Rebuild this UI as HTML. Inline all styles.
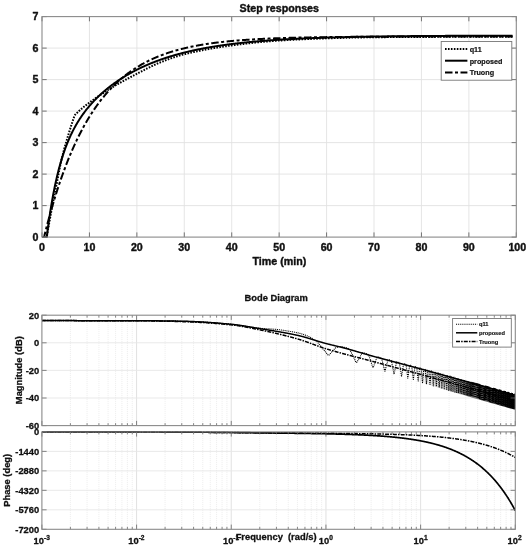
<!DOCTYPE html>
<html lang="en"><head><meta charset="utf-8"><title>Step responses and Bode Diagram</title>
<style>
html,body{margin:0;padding:0;background:#fff;}
body{width:529px;height:550px;overflow:hidden;font-family:"Liberation Sans",sans-serif;}
svg{display:block;}
</style></head><body>
<svg width="529" height="550" viewBox="0 0 529 550">
<rect width="529" height="550" fill="#fff"/>
<g id="step">
<line x1="89.43" y1="16.60" x2="89.43" y2="237.10" stroke="#e2e2e2" stroke-width="0.90"/>
<line x1="136.86" y1="16.60" x2="136.86" y2="237.10" stroke="#e2e2e2" stroke-width="0.90"/>
<line x1="184.29" y1="16.60" x2="184.29" y2="237.10" stroke="#e2e2e2" stroke-width="0.90"/>
<line x1="231.72" y1="16.60" x2="231.72" y2="237.10" stroke="#e2e2e2" stroke-width="0.90"/>
<line x1="279.15" y1="16.60" x2="279.15" y2="237.10" stroke="#e2e2e2" stroke-width="0.90"/>
<line x1="326.58" y1="16.60" x2="326.58" y2="237.10" stroke="#e2e2e2" stroke-width="0.90"/>
<line x1="374.01" y1="16.60" x2="374.01" y2="237.10" stroke="#e2e2e2" stroke-width="0.90"/>
<line x1="421.44" y1="16.60" x2="421.44" y2="237.10" stroke="#e2e2e2" stroke-width="0.90"/>
<line x1="468.87" y1="16.60" x2="468.87" y2="237.10" stroke="#e2e2e2" stroke-width="0.90"/>
<line x1="42.00" y1="205.60" x2="516.30" y2="205.60" stroke="#e2e2e2" stroke-width="0.90"/>
<line x1="42.00" y1="174.10" x2="516.30" y2="174.10" stroke="#e2e2e2" stroke-width="0.90"/>
<line x1="42.00" y1="142.60" x2="516.30" y2="142.60" stroke="#e2e2e2" stroke-width="0.90"/>
<line x1="42.00" y1="111.10" x2="516.30" y2="111.10" stroke="#e2e2e2" stroke-width="0.90"/>
<line x1="42.00" y1="79.60" x2="516.30" y2="79.60" stroke="#e2e2e2" stroke-width="0.90"/>
<line x1="42.00" y1="48.10" x2="516.30" y2="48.10" stroke="#e2e2e2" stroke-width="0.90"/>
<clipPath id="c1"><rect x="42.00" y="16.60" width="474.30" height="221.50"/></clipPath>
<g clip-path="url(#c1)" fill="none" stroke="#000" stroke-linejoin="round">
<path d="M42.00 237.10 L42.39 237.10 L42.78 237.10 L43.18 237.10 L43.57 237.10 L43.96 237.10 L44.35 237.10 L44.75 237.10 L45.14 237.10 L45.53 237.10 L45.92 237.10 L46.32 237.10 L46.71 237.10 L47.10 234.99 L47.49 232.69 L47.89 230.41 L48.28 228.15 L48.67 225.91 L49.06 223.68 L49.46 221.47 L49.85 219.28 L50.24 217.10 L50.63 214.95 L51.03 212.81 L51.42 210.69 L51.81 208.59 L52.20 206.52 L52.60 204.48 L52.99 202.45 L53.38 200.44 L53.77 198.45 L54.16 196.46 L54.56 194.49 L54.95 192.51 L55.34 190.54 L55.73 188.57 L56.13 186.59 L56.52 184.59 L56.91 182.56 L57.30 180.51 L57.70 178.45 L58.09 176.39 L58.48 174.33 L58.87 172.28 L59.27 170.26 L59.66 168.28 L60.05 166.33 L60.44 164.45 L60.84 162.62 L61.23 160.86 L61.62 159.19 L62.01 157.56 L62.41 155.96 L62.80 154.41 L63.19 152.88 L63.58 151.39 L63.98 149.92 L64.37 148.48 L64.76 147.07 L65.15 145.67 L65.54 144.30 L65.94 142.93 L66.33 141.59 L66.72 140.25 L67.11 138.93 L67.51 137.61 L67.90 136.30 L68.29 134.98 L68.68 133.68 L69.08 132.39 L69.47 131.12 L69.86 129.85 L70.25 128.60 L70.65 127.35 L71.04 126.12 L71.43 124.90 L71.82 123.70 L72.22 122.51 L72.61 121.33 L73.00 120.16 L73.39 119.01 L73.79 117.87 L74.18 116.74 L74.57 115.63 L74.96 114.95 L75.36 114.55 L75.75 114.16 L76.14 113.76 L76.53 113.37 L76.92 112.98 L77.32 112.60 L77.71 112.22 L78.10 111.84 L78.49 111.47 L78.89 111.11 L79.28 110.75 L79.67 110.40 L80.06 110.05 L80.46 109.71 L80.85 109.37 L81.24 109.03 L81.63 108.70 L82.03 108.37 L82.42 108.04 L82.81 107.71 L83.20 107.39 L83.60 107.07 L83.99 106.76 L84.38 106.44 L84.77 106.13 L85.17 105.82 L85.56 105.52 L85.95 105.21 L86.34 104.91 L86.74 104.61 L87.13 104.31 L87.52 104.01 L87.91 103.72 L88.30 103.43 L88.70 103.14 L89.09 102.85 L89.48 102.56 L89.87 102.27 L90.27 101.98 L90.66 101.70 L91.05 101.41 L91.44 101.13 L91.84 100.85 L92.23 100.56 L92.62 100.28 L93.01 100.00 L93.41 99.72 L93.80 99.45 L94.19 99.17 L94.58 98.89 L94.98 98.62 L95.37 98.34 L95.76 98.07 L96.15 97.80 L96.55 97.53 L96.94 97.26 L97.33 96.99 L97.72 96.72 L98.12 96.45 L98.51 96.18 L98.90 95.91 L99.29 95.65 L99.69 95.38 L100.08 95.12 L100.47 94.86 L100.86 94.60 L101.25 94.34 L101.65 94.08 L102.04 93.82 L102.43 93.56 L102.82 93.30 L103.22 93.04 L103.61 92.79 L104.00 92.53 L104.39 92.28 L104.79 92.02 L105.18 91.77 L105.57 91.52 L105.96 91.27 L106.36 91.02 L106.75 90.77 L107.14 90.52 L107.53 90.27 L107.93 90.03 L108.32 89.78 L108.71 89.53 L109.10 89.29 L109.50 89.05 L109.89 88.80 L110.28 88.56 L110.67 88.32 L111.07 88.08 L111.46 87.84 L111.85 87.60 L112.24 87.36 L112.63 87.12 L113.03 86.89 L113.42 86.65 L113.81 86.41 L114.20 86.18 L114.60 85.95 L114.99 85.71 L115.38 85.48 L115.77 85.25 L116.17 85.02 L116.56 84.79 L116.95 84.56 L117.34 84.34 L117.74 84.11 L118.13 83.88 L118.52 83.66 L118.91 83.43 L119.31 83.21 L119.70 82.99 L120.09 82.76 L120.48 82.54 L120.88 82.32 L121.27 82.10 L121.66 81.88 L122.05 81.66 L122.45 81.45 L122.84 81.23 L123.23 81.01 L123.62 80.80 L124.01 80.58 L124.41 80.37 L124.80 80.15 L125.19 79.94 L125.58 79.72 L125.98 79.51 L126.37 79.30 L126.76 79.09 L127.15 78.88 L127.55 78.67 L127.94 78.46 L128.33 78.25 L128.72 78.04 L129.12 77.83 L129.51 77.62 L129.90 77.41 L130.29 77.21 L130.69 77.00 L131.08 76.79 L131.47 76.59 L131.86 76.38 L132.26 76.17 L132.65 75.97 L133.04 75.76 L133.43 75.56 L133.83 75.36 L134.22 75.15 L134.61 74.95 L135.00 74.75 L135.39 74.54 L135.79 74.34 L136.18 74.14 L136.57 73.94 L136.96 73.73 L137.36 73.53 L137.75 73.33 L138.14 73.13 L138.53 72.93 L138.93 72.72 L139.32 72.52 L139.71 72.32 L140.10 72.12 L140.50 71.91 L140.89 71.71 L141.28 71.51 L141.67 71.30 L142.07 71.10 L142.46 70.90 L142.85 70.70 L143.24 70.49 L143.64 70.29 L144.03 70.09 L144.42 69.89 L144.81 69.68 L145.21 69.48 L145.60 69.28 L145.99 69.08 L146.38 68.88 L146.77 68.68 L147.17 68.48 L147.56 68.28 L147.95 68.08 L148.34 67.89 L148.74 67.69 L149.13 67.49 L149.52 67.30 L149.91 67.10 L150.31 66.91 L150.70 66.72 L151.09 66.53 L151.48 66.33 L151.88 66.14 L152.27 65.96 L152.66 65.77 L153.05 65.58 L153.45 65.40 L153.84 65.21 L154.23 65.03 L154.62 64.85 L155.02 64.67 L155.41 64.49 L155.80 64.31 L156.19 64.13 L156.59 63.96 L156.98 63.79 L157.37 63.61 L157.76 63.44 L158.15 63.28 L158.55 63.11 L158.94 62.94 L159.33 62.78 L159.72 62.62 L160.12 62.46 L160.51 62.30 L160.90 62.14 L161.29 61.99 L161.69 61.83 L162.08 61.68 L162.47 61.52 L162.86 61.37 L163.26 61.22 L163.65 61.06 L164.04 60.91 L164.43 60.76 L164.83 60.61 L165.22 60.45 L165.61 60.30 L166.00 60.15 L166.40 60.01 L166.79 59.86 L167.18 59.71 L167.57 59.56 L167.97 59.42 L168.36 59.27 L168.75 59.13 L169.14 58.98 L169.53 58.84 L169.93 58.70 L170.32 58.56 L170.71 58.42 L171.10 58.28 L171.50 58.14 L171.89 58.00 L172.28 57.86 L172.67 57.73 L173.07 57.59 L173.46 57.46 L173.85 57.33 L174.24 57.19 L174.64 57.06 L175.03 56.93 L175.42 56.81 L175.81 56.68 L176.21 56.55 L176.60 56.43 L176.99 56.30 L177.38 56.18 L177.78 56.06 L178.17 55.94 L178.56 55.82 L178.95 55.70 L179.35 55.59 L179.74 55.47 L180.13 55.36 L180.52 55.25 L180.91 55.14 L181.31 55.03 L181.70 54.92 L182.09 54.81 L182.48 54.71 L182.88 54.60 L183.27 54.50 L183.66 54.40 L184.05 54.30 L184.45 54.20 L184.84 54.11 L185.23 54.01 L185.62 53.91 L186.02 53.82 L186.41 53.72 L186.80 53.63 L187.19 53.53 L187.59 53.44 L187.98 53.35 L188.37 53.25 L188.76 53.16 L189.16 53.07 L189.55 52.98 L189.94 52.89 L190.33 52.80 L190.73 52.71 L191.12 52.62 L191.51 52.53 L191.90 52.44 L192.29 52.35 L192.69 52.26 L193.08 52.17 L193.47 52.09 L193.86 52.00 L194.26 51.91 L194.65 51.83 L195.04 51.74 L195.43 51.66 L195.83 51.57 L196.22 51.49 L196.61 51.40 L197.00 51.32 L197.40 51.24 L197.79 51.16 L198.18 51.07 L198.57 50.99 L198.97 50.91 L199.36 50.83 L199.75 50.75 L200.14 50.67 L200.54 50.59 L200.93 50.51 L201.32 50.43 L201.71 50.35 L202.11 50.27 L202.50 50.20 L202.89 50.12 L203.28 50.04 L203.67 49.97 L204.07 49.89 L204.46 49.81 L204.85 49.74 L205.24 49.66 L205.64 49.59 L206.03 49.51 L206.42 49.44 L206.81 49.37 L207.21 49.29 L207.60 49.22 L207.99 49.15 L208.38 49.08 L208.78 49.01 L209.17 48.93 L209.56 48.86 L209.95 48.79 L210.35 48.72 L210.74 48.65 L211.13 48.58 L211.52 48.52 L211.92 48.45 L212.31 48.38 L212.70 48.31 L213.09 48.24 L213.49 48.18 L213.88 48.11 L214.27 48.04 L214.66 47.98 L215.06 47.91 L215.45 47.85 L215.84 47.78 L216.23 47.72 L216.62 47.65 L217.02 47.59 L217.41 47.52 L217.80 47.46 L218.19 47.40 L218.59 47.33 L218.98 47.27 L219.37 47.21 L219.76 47.15 L220.16 47.09 L220.55 47.03 L220.94 46.97 L221.33 46.90 L221.73 46.84 L222.12 46.79 L222.51 46.73 L222.90 46.67 L223.30 46.61 L223.69 46.55 L224.08 46.49 L224.47 46.43 L224.87 46.38 L225.26 46.32 L225.65 46.26 L226.04 46.21 L226.44 46.15 L226.83 46.09 L227.22 46.04 L227.61 45.98 L228.00 45.93 L228.40 45.87 L228.79 45.82 L229.18 45.76 L229.57 45.71 L229.97 45.66 L230.36 45.60 L230.75 45.55 L231.14 45.50 L231.54 45.45 L231.93 45.39 L232.32 45.34 L232.71 45.29 L233.11 45.24 L233.50 45.19 L233.89 45.14 L234.28 45.09 L234.68 45.03 L235.07 44.98 L235.46 44.93 L235.85 44.88 L236.25 44.83 L236.64 44.78 L237.03 44.73 L237.42 44.68 L237.82 44.63 L238.21 44.58 L238.60 44.53 L238.99 44.48 L239.38 44.43 L239.78 44.38 L240.17 44.34 L240.56 44.29 L240.95 44.24 L241.35 44.19 L241.74 44.14 L242.13 44.09 L242.52 44.05 L242.92 44.00 L243.31 43.95 L243.70 43.90 L244.09 43.86 L244.49 43.81 L244.88 43.76 L245.27 43.72 L245.66 43.67 L246.06 43.62 L246.45 43.58 L246.84 43.53 L247.23 43.48 L247.63 43.44 L248.02 43.39 L248.41 43.35 L248.80 43.30 L249.20 43.26 L249.59 43.21 L249.98 43.17 L250.37 43.13 L250.76 43.08 L251.16 43.04 L251.55 42.99 L251.94 42.95 L252.33 42.91 L252.73 42.87 L253.12 42.82 L253.51 42.78 L253.90 42.74 L254.30 42.70 L254.69 42.65 L255.08 42.61 L255.47 42.57 L255.87 42.53 L256.26 42.49 L256.65 42.45 L257.04 42.41 L257.44 42.37 L257.83 42.33 L258.22 42.29 L258.61 42.25 L259.01 42.21 L259.40 42.17 L259.79 42.13 L260.18 42.09 L260.58 42.05 L260.97 42.02 L261.36 41.98 L261.75 41.94 L262.14 41.90 L262.54 41.87 L262.93 41.83 L263.32 41.79 L263.71 41.76 L264.11 41.72 L264.50 41.68 L264.89 41.65 L265.28 41.61 L265.68 41.58 L266.07 41.54 L266.46 41.51 L266.85 41.47 L267.25 41.44 L267.64 41.41 L268.03 41.37 L268.42 41.34 L268.82 41.31 L269.21 41.27 L269.60 41.24 L269.99 41.21 L270.39 41.18 L270.78 41.15 L271.17 41.11 L271.56 41.08 L271.96 41.05 L272.35 41.02 L272.74 40.99 L273.13 40.96 L273.52 40.93 L273.92 40.90 L274.31 40.87 L274.70 40.84 L275.09 40.82 L275.49 40.79 L275.88 40.76 L276.27 40.73 L276.66 40.71 L277.06 40.68 L277.45 40.65 L277.84 40.63 L278.23 40.60 L278.63 40.57 L279.02 40.55 L279.41 40.52 L279.80 40.50 L280.20 40.47 L280.59 40.45 L280.98 40.42 L281.37 40.40 L281.77 40.38 L282.16 40.35 L282.55 40.33 L282.94 40.30 L283.34 40.28 L283.73 40.26 L284.12 40.23 L284.51 40.21 L284.90 40.18 L285.30 40.16 L285.69 40.14 L286.08 40.12 L286.47 40.09 L286.87 40.07 L287.26 40.05 L287.65 40.02 L288.04 40.00 L288.44 39.98 L288.83 39.96 L289.22 39.94 L289.61 39.91 L290.01 39.89 L290.40 39.87 L290.79 39.85 L291.18 39.83 L291.58 39.81 L291.97 39.79 L292.36 39.76 L292.75 39.74 L293.15 39.72 L293.54 39.70 L293.93 39.68 L294.32 39.66 L294.72 39.64 L295.11 39.62 L295.50 39.60 L295.89 39.58 L296.28 39.56 L296.68 39.54 L297.07 39.52 L297.46 39.50 L297.85 39.48 L298.25 39.46 L298.64 39.44 L299.03 39.42 L299.42 39.40 L299.82 39.38 L300.21 39.37 L300.60 39.35 L300.99 39.33 L301.39 39.31 L301.78 39.29 L302.17 39.27 L302.56 39.26 L302.96 39.24 L303.35 39.22 L303.74 39.20 L304.13 39.18 L304.53 39.17 L304.92 39.15 L305.31 39.13 L305.70 39.11 L306.10 39.10 L306.49 39.08 L306.88 39.06 L307.27 39.05 L307.66 39.03 L308.06 39.01 L308.45 39.00 L308.84 38.98 L309.23 38.96 L309.63 38.95 L310.02 38.93 L310.41 38.91 L310.80 38.90 L311.20 38.88 L311.59 38.87 L311.98 38.85 L312.37 38.84 L312.77 38.82 L313.16 38.80 L313.55 38.79 L313.94 38.77 L314.34 38.76 L314.73 38.74 L315.12 38.73 L315.51 38.71 L315.91 38.70 L316.30 38.68 L316.69 38.67 L317.08 38.66 L317.48 38.64 L317.87 38.63 L318.26 38.61 L318.65 38.60 L319.04 38.59 L319.44 38.57 L319.83 38.56 L320.22 38.54 L320.61 38.53 L321.01 38.52 L321.40 38.50 L321.79 38.49 L322.18 38.48 L322.58 38.46 L322.97 38.45 L323.36 38.44 L323.75 38.42 L324.15 38.41 L324.54 38.40 L324.93 38.39 L325.32 38.37 L325.72 38.36 L326.11 38.35 L326.50 38.34 L326.89 38.33 L327.29 38.31 L327.68 38.30 L328.07 38.29 L328.46 38.28 L328.86 38.26 L329.25 38.25 L329.64 38.24 L330.03 38.23 L330.43 38.22 L330.82 38.20 L331.21 38.19 L331.60 38.18 L331.99 38.17 L332.39 38.16 L332.78 38.15 L333.17 38.13 L333.56 38.12 L333.96 38.11 L334.35 38.10 L334.74 38.09 L335.13 38.08 L335.53 38.06 L335.92 38.05 L336.31 38.04 L336.70 38.03 L337.10 38.02 L337.49 38.01 L337.88 38.00 L338.27 37.98 L338.67 37.97 L339.06 37.96 L339.45 37.95 L339.84 37.94 L340.24 37.93 L340.63 37.92 L341.02 37.91 L341.41 37.89 L341.81 37.88 L342.20 37.87 L342.59 37.86 L342.98 37.85 L343.37 37.84 L343.77 37.83 L344.16 37.82 L344.55 37.81 L344.94 37.80 L345.34 37.79 L345.73 37.78 L346.12 37.77 L346.51 37.76 L346.91 37.75 L347.30 37.74 L347.69 37.73 L348.08 37.72 L348.48 37.71 L348.87 37.70 L349.26 37.69 L349.65 37.68 L350.05 37.67 L350.44 37.66 L350.83 37.65 L351.22 37.64 L351.62 37.63 L352.01 37.62 L352.40 37.61 L352.79 37.60 L353.19 37.59 L353.58 37.58 L353.97 37.57 L354.36 37.57 L354.75 37.56 L355.15 37.55 L355.54 37.54 L355.93 37.53 L356.32 37.52 L356.72 37.51 L357.11 37.50 L357.50 37.50 L357.89 37.49 L358.29 37.48 L358.68 37.47 L359.07 37.46 L359.46 37.46 L359.86 37.45 L360.25 37.44 L360.64 37.43 L361.03 37.43 L361.43 37.42 L361.82 37.41 L362.21 37.40 L362.60 37.40 L363.00 37.39 L363.39 37.38 L363.78 37.38 L364.17 37.37 L364.57 37.36 L364.96 37.36 L365.35 37.35 L365.74 37.34 L366.13 37.34 L366.53 37.33 L366.92 37.32 L367.31 37.32 L367.70 37.31 L368.10 37.31 L368.49 37.30 L368.88 37.30 L369.27 37.29 L369.67 37.28 L370.06 37.28 L370.45 37.27 L370.84 37.27 L371.24 37.26 L371.63 37.26 L372.02 37.25 L372.41 37.25 L372.81 37.25 L373.20 37.24 L373.59 37.24 L373.98 37.23 L374.38 37.23 L374.77 37.22 L375.16 37.22 L375.55 37.22 L375.95 37.21 L376.34 37.21 L376.73 37.20 L377.12 37.20 L377.51 37.20 L377.91 37.19 L378.30 37.19 L378.69 37.19 L379.08 37.18 L379.48 37.18 L379.87 37.17 L380.26 37.17 L380.65 37.17 L381.05 37.16 L381.44 37.16 L381.83 37.16 L382.22 37.15 L382.62 37.15 L383.01 37.15 L383.40 37.14 L383.79 37.14 L384.19 37.14 L384.58 37.13 L384.97 37.13 L385.36 37.13 L385.76 37.12 L386.15 37.12 L386.54 37.12 L386.93 37.11 L387.33 37.11 L387.72 37.11 L388.11 37.10 L388.50 37.10 L388.89 37.10 L389.29 37.09 L389.68 37.09 L390.07 37.09 L390.46 37.08 L390.86 37.08 L391.25 37.08 L391.64 37.07 L392.03 37.07 L392.43 37.07 L392.82 37.07 L393.21 37.06 L393.60 37.06 L394.00 37.06 L394.39 37.05 L394.78 37.05 L395.17 37.05 L395.57 37.05 L395.96 37.04 L396.35 37.04 L396.74 37.04 L397.14 37.03 L397.53 37.03 L397.92 37.03 L398.31 37.03 L398.71 37.02 L399.10 37.02 L399.49 37.02 L399.88 37.02 L400.27 37.01 L400.67 37.01 L401.06 37.01 L401.45 37.01 L401.84 37.00 L402.24 37.00 L402.63 37.00 L403.02 37.00 L403.41 37.00 L403.81 36.99 L404.20 36.99 L404.59 36.99 L404.98 36.99 L405.38 36.98 L405.77 36.98 L406.16 36.98 L406.55 36.98 L406.95 36.98 L407.34 36.97 L407.73 36.97 L408.12 36.97 L408.52 36.97 L408.91 36.97 L409.30 36.96 L409.69 36.96 L410.09 36.96 L410.48 36.96 L410.87 36.96 L411.26 36.95 L411.65 36.95 L412.05 36.95 L412.44 36.95 L412.83 36.95 L413.22 36.95 L413.62 36.94 L414.01 36.94 L414.40 36.94 L414.79 36.94 L415.19 36.94 L415.58 36.94 L415.97 36.94 L416.36 36.93 L416.76 36.93 L417.15 36.93 L417.54 36.93 L417.93 36.93 L418.33 36.93 L418.72 36.93 L419.11 36.92 L419.50 36.92 L419.90 36.92 L420.29 36.92 L420.68 36.92 L421.07 36.92 L421.47 36.92 L421.86 36.92 L422.25 36.92 L422.64 36.91 L423.03 36.91 L423.43 36.91 L423.82 36.91 L424.21 36.91 L424.60 36.91 L425.00 36.91 L425.39 36.91 L425.78 36.91 L426.17 36.90 L426.57 36.90 L426.96 36.90 L427.35 36.90 L427.74 36.90 L428.14 36.90 L428.53 36.90 L428.92 36.90 L429.31 36.90 L429.71 36.89 L430.10 36.89 L430.49 36.89 L430.88 36.89 L431.28 36.89 L431.67 36.89 L432.06 36.89 L432.45 36.89 L432.85 36.89 L433.24 36.89 L433.63 36.88 L434.02 36.88 L434.42 36.88 L434.81 36.88 L435.20 36.88 L435.59 36.88 L435.98 36.88 L436.38 36.88 L436.77 36.88 L437.16 36.87 L437.55 36.87 L437.95 36.87 L438.34 36.87 L438.73 36.87 L439.12 36.87 L439.52 36.87 L439.91 36.87 L440.30 36.87 L440.69 36.87 L441.09 36.86 L441.48 36.86 L441.87 36.86 L442.26 36.86 L442.66 36.86 L443.05 36.86 L443.44 36.86 L443.83 36.86 L444.23 36.86 L444.62 36.86 L445.01 36.86 L445.40 36.85 L445.80 36.85 L446.19 36.85 L446.58 36.85 L446.97 36.85 L447.36 36.85 L447.76 36.85 L448.15 36.85 L448.54 36.85 L448.93 36.85 L449.33 36.85 L449.72 36.84 L450.11 36.84 L450.50 36.84 L450.90 36.84 L451.29 36.84 L451.68 36.84 L452.07 36.84 L452.47 36.84 L452.86 36.84 L453.25 36.84 L453.64 36.84 L454.04 36.83 L454.43 36.83 L454.82 36.83 L455.21 36.83 L455.61 36.83 L456.00 36.83 L456.39 36.83 L456.78 36.83 L457.18 36.83 L457.57 36.83 L457.96 36.83 L458.35 36.83 L458.74 36.82 L459.14 36.82 L459.53 36.82 L459.92 36.82 L460.31 36.82 L460.71 36.82 L461.10 36.82 L461.49 36.82 L461.88 36.82 L462.28 36.82 L462.67 36.82 L463.06 36.82 L463.45 36.82 L463.85 36.81 L464.24 36.81 L464.63 36.81 L465.02 36.81 L465.42 36.81 L465.81 36.81 L466.20 36.81 L466.59 36.81 L466.99 36.81 L467.38 36.81 L467.77 36.81 L468.16 36.81 L468.56 36.81 L468.95 36.80 L469.34 36.80 L469.73 36.80 L470.12 36.80 L470.52 36.80 L470.91 36.80 L471.30 36.80 L471.69 36.80 L472.09 36.80 L472.48 36.80 L472.87 36.80 L473.26 36.80 L473.66 36.80 L474.05 36.80 L474.44 36.80 L474.83 36.79 L475.23 36.79 L475.62 36.79 L476.01 36.79 L476.40 36.79 L476.80 36.79 L477.19 36.79 L477.58 36.79 L477.97 36.79 L478.37 36.79 L478.76 36.79 L479.15 36.79 L479.54 36.79 L479.94 36.79 L480.33 36.79 L480.72 36.79 L481.11 36.79 L481.50 36.79 L481.90 36.78 L482.29 36.78 L482.68 36.78 L483.07 36.78 L483.47 36.78 L483.86 36.78 L484.25 36.78 L484.64 36.78 L485.04 36.78 L485.43 36.78 L485.82 36.78 L486.21 36.78 L486.61 36.78 L487.00 36.78 L487.39 36.78 L487.78 36.78 L488.18 36.78 L488.57 36.78 L488.96 36.78 L489.35 36.78 L489.75 36.77 L490.14 36.77 L490.53 36.77 L490.92 36.77 L491.32 36.77 L491.71 36.77 L492.10 36.77 L492.49 36.77 L492.88 36.77 L493.28 36.77 L493.67 36.77 L494.06 36.77 L494.45 36.77 L494.85 36.77 L495.24 36.77 L495.63 36.77 L496.02 36.77 L496.42 36.77 L496.81 36.77 L497.20 36.77 L497.59 36.77 L497.99 36.77 L498.38 36.77 L498.77 36.77 L499.16 36.77 L499.56 36.77 L499.95 36.77 L500.34 36.77 L500.73 36.77 L501.13 36.76 L501.52 36.76 L501.91 36.76 L502.30 36.76 L502.70 36.76 L503.09 36.76 L503.48 36.76 L503.87 36.76 L504.26 36.76 L504.66 36.76 L505.05 36.76 L505.44 36.76 L505.83 36.76 L506.23 36.76 L506.62 36.76 L507.01 36.76 L507.40 36.76 L507.80 36.76 L508.19 36.76 L508.58 36.76 L508.97 36.76 L509.37 36.76 L509.76 36.76 L510.15 36.76 L510.54 36.76 L510.94 36.76 L511.33 36.76 L511.72 36.76 L512.11 36.76 L512.51 36.76" stroke-width="2" stroke-dasharray="1.6 1.35"/>
<path d="M42.00 237.10 L42.39 237.10 L42.78 237.10 L43.18 237.10 L43.57 237.10 L43.96 237.10 L44.35 237.10 L44.75 237.10 L45.14 237.10 L45.53 237.10 L45.92 237.10 L46.32 237.10 L46.71 237.10 L47.10 234.24 L47.49 231.18 L47.89 228.20 L48.28 225.30 L48.67 222.48 L49.06 219.73 L49.46 217.05 L49.85 214.43 L50.24 211.89 L50.63 209.40 L51.03 206.98 L51.42 204.62 L51.81 202.32 L52.20 200.08 L52.60 197.89 L52.99 195.75 L53.38 193.66 L53.77 191.63 L54.16 189.64 L54.56 187.70 L54.95 185.80 L55.34 183.95 L55.73 182.14 L56.13 180.38 L56.52 178.65 L56.91 176.97 L57.30 175.32 L57.70 173.70 L58.09 172.13 L58.48 170.59 L58.87 169.08 L59.27 167.60 L59.66 166.16 L60.05 164.74 L60.44 163.36 L60.84 162.00 L61.23 160.68 L61.62 159.38 L62.01 158.10 L62.41 156.85 L62.80 155.63 L63.19 154.43 L63.58 153.26 L63.98 152.11 L64.37 150.97 L64.76 149.87 L65.15 148.78 L65.54 147.71 L65.94 146.66 L66.33 145.63 L66.72 144.62 L67.11 143.63 L67.51 142.66 L67.90 141.70 L68.29 140.76 L68.68 139.84 L69.08 138.93 L69.47 138.03 L69.86 137.16 L70.25 136.29 L70.65 135.44 L71.04 134.61 L71.43 133.78 L71.82 132.97 L72.22 132.18 L72.61 131.39 L73.00 130.62 L73.39 129.86 L73.79 129.11 L74.18 128.37 L74.57 127.64 L74.96 126.93 L75.36 126.22 L75.75 125.52 L76.14 124.84 L76.53 124.16 L76.92 123.49 L77.32 122.83 L77.71 122.18 L78.10 121.54 L78.49 120.91 L78.89 120.28 L79.28 119.66 L79.67 119.05 L80.06 118.45 L80.46 117.86 L80.85 117.27 L81.24 116.69 L81.63 116.12 L82.03 115.55 L82.42 114.99 L82.81 114.44 L83.20 113.89 L83.60 113.35 L83.99 112.82 L84.38 112.29 L84.77 111.77 L85.17 111.25 L85.56 110.74 L85.95 110.23 L86.34 109.73 L86.74 109.24 L87.13 108.75 L87.52 108.26 L87.91 107.78 L88.30 107.31 L88.70 106.84 L89.09 106.37 L89.48 105.91 L89.87 105.45 L90.27 105.00 L90.66 104.55 L91.05 104.10 L91.44 103.66 L91.84 103.23 L92.23 102.80 L92.62 102.37 L93.01 101.94 L93.41 101.52 L93.80 101.11 L94.19 100.69 L94.58 100.28 L94.98 99.88 L95.37 99.47 L95.76 99.08 L96.15 98.68 L96.55 98.29 L96.94 97.90 L97.33 97.51 L97.72 97.13 L98.12 96.75 L98.51 96.37 L98.90 96.00 L99.29 95.63 L99.69 95.26 L100.08 94.89 L100.47 94.53 L100.86 94.17 L101.25 93.82 L101.65 93.46 L102.04 93.11 L102.43 92.76 L102.82 92.42 L103.22 92.07 L103.61 91.73 L104.00 91.39 L104.39 91.06 L104.79 90.72 L105.18 90.39 L105.57 90.06 L105.96 89.74 L106.36 89.41 L106.75 89.09 L107.14 88.77 L107.53 88.45 L107.93 88.14 L108.32 87.83 L108.71 87.51 L109.10 87.21 L109.50 86.90 L109.89 86.59 L110.28 86.29 L110.67 85.99 L111.07 85.69 L111.46 85.40 L111.85 85.10 L112.24 84.81 L112.63 84.52 L113.03 84.23 L113.42 83.95 L113.81 83.66 L114.20 83.38 L114.60 83.10 L114.99 82.82 L115.38 82.54 L115.77 82.27 L116.17 81.99 L116.56 81.72 L116.95 81.45 L117.34 81.18 L117.74 80.91 L118.13 80.65 L118.52 80.38 L118.91 80.12 L119.31 79.86 L119.70 79.60 L120.09 79.35 L120.48 79.09 L120.88 78.84 L121.27 78.59 L121.66 78.34 L122.05 78.09 L122.45 77.84 L122.84 77.59 L123.23 77.35 L123.62 77.11 L124.01 76.87 L124.41 76.63 L124.80 76.39 L125.19 76.15 L125.58 75.91 L125.98 75.68 L126.37 75.45 L126.76 75.22 L127.15 74.99 L127.55 74.76 L127.94 74.53 L128.33 74.31 L128.72 74.08 L129.12 73.86 L129.51 73.64 L129.90 73.42 L130.29 73.20 L130.69 72.98 L131.08 72.76 L131.47 72.55 L131.86 72.33 L132.26 72.12 L132.65 71.91 L133.04 71.70 L133.43 71.49 L133.83 71.28 L134.22 71.08 L134.61 70.87 L135.00 70.67 L135.39 70.47 L135.79 70.26 L136.18 70.06 L136.57 69.87 L136.96 69.67 L137.36 69.47 L137.75 69.27 L138.14 69.08 L138.53 68.89 L138.93 68.70 L139.32 68.50 L139.71 68.31 L140.10 68.13 L140.50 67.94 L140.89 67.75 L141.28 67.57 L141.67 67.38 L142.07 67.20 L142.46 67.02 L142.85 66.83 L143.24 66.65 L143.64 66.48 L144.03 66.30 L144.42 66.12 L144.81 65.94 L145.21 65.77 L145.60 65.60 L145.99 65.42 L146.38 65.25 L146.77 65.08 L147.17 64.91 L147.56 64.74 L147.95 64.57 L148.34 64.41 L148.74 64.24 L149.13 64.08 L149.52 63.91 L149.91 63.75 L150.31 63.59 L150.70 63.42 L151.09 63.26 L151.48 63.11 L151.88 62.95 L152.27 62.79 L152.66 62.63 L153.05 62.48 L153.45 62.32 L153.84 62.17 L154.23 62.02 L154.62 61.86 L155.02 61.71 L155.41 61.56 L155.80 61.41 L156.19 61.26 L156.59 61.12 L156.98 60.97 L157.37 60.82 L157.76 60.68 L158.15 60.53 L158.55 60.39 L158.94 60.25 L159.33 60.10 L159.72 59.96 L160.12 59.82 L160.51 59.68 L160.90 59.54 L161.29 59.41 L161.69 59.27 L162.08 59.13 L162.47 59.00 L162.86 58.86 L163.26 58.73 L163.65 58.60 L164.04 58.46 L164.43 58.33 L164.83 58.20 L165.22 58.07 L165.61 57.94 L166.00 57.81 L166.40 57.69 L166.79 57.56 L167.18 57.43 L167.57 57.31 L167.97 57.18 L168.36 57.06 L168.75 56.93 L169.14 56.81 L169.53 56.69 L169.93 56.57 L170.32 56.45 L170.71 56.33 L171.10 56.21 L171.50 56.09 L171.89 55.97 L172.28 55.85 L172.67 55.74 L173.07 55.62 L173.46 55.50 L173.85 55.39 L174.24 55.28 L174.64 55.16 L175.03 55.05 L175.42 54.94 L175.81 54.83 L176.21 54.72 L176.60 54.61 L176.99 54.50 L177.38 54.39 L177.78 54.28 L178.17 54.17 L178.56 54.06 L178.95 53.96 L179.35 53.85 L179.74 53.75 L180.13 53.64 L180.52 53.54 L180.91 53.43 L181.31 53.33 L181.70 53.23 L182.09 53.13 L182.48 53.03 L182.88 52.93 L183.27 52.83 L183.66 52.73 L184.05 52.63 L184.45 52.53 L184.84 52.43 L185.23 52.34 L185.62 52.24 L186.02 52.14 L186.41 52.05 L186.80 51.95 L187.19 51.86 L187.59 51.77 L187.98 51.67 L188.37 51.58 L188.76 51.49 L189.16 51.40 L189.55 51.30 L189.94 51.21 L190.33 51.12 L190.73 51.03 L191.12 50.95 L191.51 50.86 L191.90 50.77 L192.29 50.68 L192.69 50.59 L193.08 50.51 L193.47 50.42 L193.86 50.34 L194.26 50.25 L194.65 50.17 L195.04 50.08 L195.43 50.00 L195.83 49.92 L196.22 49.83 L196.61 49.75 L197.00 49.67 L197.40 49.59 L197.79 49.51 L198.18 49.43 L198.57 49.35 L198.97 49.27 L199.36 49.19 L199.75 49.11 L200.14 49.03 L200.54 48.96 L200.93 48.88 L201.32 48.80 L201.71 48.73 L202.11 48.65 L202.50 48.58 L202.89 48.50 L203.28 48.43 L203.67 48.35 L204.07 48.28 L204.46 48.20 L204.85 48.13 L205.24 48.06 L205.64 47.99 L206.03 47.92 L206.42 47.84 L206.81 47.77 L207.21 47.70 L207.60 47.63 L207.99 47.56 L208.38 47.50 L208.78 47.43 L209.17 47.36 L209.56 47.29 L209.95 47.22 L210.35 47.16 L210.74 47.09 L211.13 47.02 L211.52 46.96 L211.92 46.89 L212.31 46.83 L212.70 46.76 L213.09 46.70 L213.49 46.63 L213.88 46.57 L214.27 46.50 L214.66 46.44 L215.06 46.38 L215.45 46.32 L215.84 46.25 L216.23 46.19 L216.62 46.13 L217.02 46.07 L217.41 46.01 L217.80 45.95 L218.19 45.89 L218.59 45.83 L218.98 45.77 L219.37 45.71 L219.76 45.65 L220.16 45.60 L220.55 45.54 L220.94 45.48 L221.33 45.42 L221.73 45.37 L222.12 45.31 L222.51 45.25 L222.90 45.20 L223.30 45.14 L223.69 45.09 L224.08 45.03 L224.47 44.98 L224.87 44.92 L225.26 44.87 L225.65 44.82 L226.04 44.76 L226.44 44.71 L226.83 44.66 L227.22 44.60 L227.61 44.55 L228.00 44.50 L228.40 44.45 L228.79 44.40 L229.18 44.35 L229.57 44.30 L229.97 44.25 L230.36 44.20 L230.75 44.15 L231.14 44.10 L231.54 44.05 L231.93 44.00 L232.32 43.95 L232.71 43.90 L233.11 43.85 L233.50 43.80 L233.89 43.76 L234.28 43.71 L234.68 43.66 L235.07 43.62 L235.46 43.57 L235.85 43.52 L236.25 43.48 L236.64 43.43 L237.03 43.39 L237.42 43.34 L237.82 43.30 L238.21 43.25 L238.60 43.21 L238.99 43.16 L239.38 43.12 L239.78 43.08 L240.17 43.03 L240.56 42.99 L240.95 42.95 L241.35 42.90 L241.74 42.86 L242.13 42.82 L242.52 42.78 L242.92 42.73 L243.31 42.69 L243.70 42.65 L244.09 42.61 L244.49 42.57 L244.88 42.53 L245.27 42.49 L245.66 42.45 L246.06 42.41 L246.45 42.37 L246.84 42.33 L247.23 42.29 L247.63 42.25 L248.02 42.21 L248.41 42.18 L248.80 42.14 L249.20 42.10 L249.59 42.06 L249.98 42.02 L250.37 41.99 L250.76 41.95 L251.16 41.91 L251.55 41.88 L251.94 41.84 L252.33 41.80 L252.73 41.77 L253.12 41.73 L253.51 41.70 L253.90 41.66 L254.30 41.62 L254.69 41.59 L255.08 41.55 L255.47 41.52 L255.87 41.49 L256.26 41.45 L256.65 41.42 L257.04 41.38 L257.44 41.35 L257.83 41.32 L258.22 41.28 L258.61 41.25 L259.01 41.22 L259.40 41.18 L259.79 41.15 L260.18 41.12 L260.58 41.09 L260.97 41.05 L261.36 41.02 L261.75 40.99 L262.14 40.96 L262.54 40.93 L262.93 40.90 L263.32 40.87 L263.71 40.84 L264.11 40.80 L264.50 40.77 L264.89 40.74 L265.28 40.71 L265.68 40.68 L266.07 40.65 L266.46 40.63 L266.85 40.60 L267.25 40.57 L267.64 40.54 L268.03 40.51 L268.42 40.48 L268.82 40.45 L269.21 40.42 L269.60 40.39 L269.99 40.37 L270.39 40.34 L270.78 40.31 L271.17 40.28 L271.56 40.26 L271.96 40.23 L272.35 40.20 L272.74 40.18 L273.13 40.15 L273.52 40.12 L273.92 40.10 L274.31 40.07 L274.70 40.04 L275.09 40.02 L275.49 39.99 L275.88 39.97 L276.27 39.94 L276.66 39.91 L277.06 39.89 L277.45 39.86 L277.84 39.84 L278.23 39.81 L278.63 39.79 L279.02 39.76 L279.41 39.74 L279.80 39.72 L280.20 39.69 L280.59 39.67 L280.98 39.64 L281.37 39.62 L281.77 39.60 L282.16 39.57 L282.55 39.55 L282.94 39.53 L283.34 39.50 L283.73 39.48 L284.12 39.46 L284.51 39.43 L284.90 39.41 L285.30 39.39 L285.69 39.37 L286.08 39.35 L286.47 39.32 L286.87 39.30 L287.26 39.28 L287.65 39.26 L288.04 39.24 L288.44 39.22 L288.83 39.19 L289.22 39.17 L289.61 39.15 L290.01 39.13 L290.40 39.11 L290.79 39.09 L291.18 39.07 L291.58 39.05 L291.97 39.03 L292.36 39.01 L292.75 38.99 L293.15 38.97 L293.54 38.95 L293.93 38.93 L294.32 38.91 L294.72 38.89 L295.11 38.87 L295.50 38.85 L295.89 38.83 L296.28 38.81 L296.68 38.79 L297.07 38.77 L297.46 38.76 L297.85 38.74 L298.25 38.72 L298.64 38.70 L299.03 38.68 L299.42 38.66 L299.82 38.64 L300.21 38.63 L300.60 38.61 L300.99 38.59 L301.39 38.57 L301.78 38.56 L302.17 38.54 L302.56 38.52 L302.96 38.50 L303.35 38.49 L303.74 38.47 L304.13 38.45 L304.53 38.44 L304.92 38.42 L305.31 38.40 L305.70 38.39 L306.10 38.37 L306.49 38.35 L306.88 38.34 L307.27 38.32 L307.66 38.30 L308.06 38.29 L308.45 38.27 L308.84 38.26 L309.23 38.24 L309.63 38.22 L310.02 38.21 L310.41 38.19 L310.80 38.18 L311.20 38.16 L311.59 38.15 L311.98 38.13 L312.37 38.12 L312.77 38.10 L313.16 38.09 L313.55 38.07 L313.94 38.06 L314.34 38.04 L314.73 38.03 L315.12 38.01 L315.51 38.00 L315.91 37.98 L316.30 37.97 L316.69 37.96 L317.08 37.94 L317.48 37.93 L317.87 37.91 L318.26 37.90 L318.65 37.89 L319.04 37.87 L319.44 37.86 L319.83 37.85 L320.22 37.83 L320.61 37.82 L321.01 37.81 L321.40 37.79 L321.79 37.78 L322.18 37.77 L322.58 37.75 L322.97 37.74 L323.36 37.73 L323.75 37.72 L324.15 37.70 L324.54 37.69 L324.93 37.68 L325.32 37.66 L325.72 37.65 L326.11 37.64 L326.50 37.63 L326.89 37.62 L327.29 37.60 L327.68 37.59 L328.07 37.58 L328.46 37.57 L328.86 37.56 L329.25 37.54 L329.64 37.53 L330.03 37.52 L330.43 37.51 L330.82 37.50 L331.21 37.49 L331.60 37.47 L331.99 37.46 L332.39 37.45 L332.78 37.44 L333.17 37.43 L333.56 37.42 L333.96 37.41 L334.35 37.40 L334.74 37.39 L335.13 37.38 L335.53 37.36 L335.92 37.35 L336.31 37.34 L336.70 37.33 L337.10 37.32 L337.49 37.31 L337.88 37.30 L338.27 37.29 L338.67 37.28 L339.06 37.27 L339.45 37.26 L339.84 37.25 L340.24 37.24 L340.63 37.23 L341.02 37.22 L341.41 37.21 L341.81 37.20 L342.20 37.19 L342.59 37.18 L342.98 37.17 L343.37 37.16 L343.77 37.15 L344.16 37.14 L344.55 37.13 L344.94 37.12 L345.34 37.11 L345.73 37.11 L346.12 37.10 L346.51 37.09 L346.91 37.08 L347.30 37.07 L347.69 37.06 L348.08 37.05 L348.48 37.04 L348.87 37.03 L349.26 37.02 L349.65 37.02 L350.05 37.01 L350.44 37.00 L350.83 36.99 L351.22 36.98 L351.62 36.97 L352.01 36.96 L352.40 36.96 L352.79 36.95 L353.19 36.94 L353.58 36.93 L353.97 36.92 L354.36 36.92 L354.75 36.91 L355.15 36.90 L355.54 36.89 L355.93 36.88 L356.32 36.87 L356.72 36.87 L357.11 36.86 L357.50 36.85 L357.89 36.84 L358.29 36.84 L358.68 36.83 L359.07 36.82 L359.46 36.81 L359.86 36.81 L360.25 36.80 L360.64 36.79 L361.03 36.78 L361.43 36.78 L361.82 36.77 L362.21 36.76 L362.60 36.75 L363.00 36.75 L363.39 36.74 L363.78 36.73 L364.17 36.73 L364.57 36.72 L364.96 36.71 L365.35 36.70 L365.74 36.70 L366.13 36.69 L366.53 36.68 L366.92 36.68 L367.31 36.67 L367.70 36.66 L368.10 36.66 L368.49 36.65 L368.88 36.64 L369.27 36.64 L369.67 36.63 L370.06 36.62 L370.45 36.62 L370.84 36.61 L371.24 36.61 L371.63 36.60 L372.02 36.59 L372.41 36.59 L372.81 36.58 L373.20 36.57 L373.59 36.57 L373.98 36.56 L374.38 36.56 L374.77 36.55 L375.16 36.54 L375.55 36.54 L375.95 36.53 L376.34 36.53 L376.73 36.52 L377.12 36.51 L377.51 36.51 L377.91 36.50 L378.30 36.50 L378.69 36.49 L379.08 36.49 L379.48 36.48 L379.87 36.47 L380.26 36.47 L380.65 36.46 L381.05 36.46 L381.44 36.45 L381.83 36.45 L382.22 36.44 L382.62 36.44 L383.01 36.43 L383.40 36.42 L383.79 36.42 L384.19 36.41 L384.58 36.41 L384.97 36.40 L385.36 36.40 L385.76 36.39 L386.15 36.39 L386.54 36.38 L386.93 36.38 L387.33 36.37 L387.72 36.37 L388.11 36.36 L388.50 36.36 L388.89 36.35 L389.29 36.35 L389.68 36.34 L390.07 36.34 L390.46 36.33 L390.86 36.33 L391.25 36.32 L391.64 36.32 L392.03 36.32 L392.43 36.31 L392.82 36.31 L393.21 36.30 L393.60 36.30 L394.00 36.29 L394.39 36.29 L394.78 36.28 L395.17 36.28 L395.57 36.27 L395.96 36.27 L396.35 36.27 L396.74 36.26 L397.14 36.26 L397.53 36.25 L397.92 36.25 L398.31 36.24 L398.71 36.24 L399.10 36.24 L399.49 36.23 L399.88 36.23 L400.27 36.22 L400.67 36.22 L401.06 36.21 L401.45 36.21 L401.84 36.21 L402.24 36.20 L402.63 36.20 L403.02 36.19 L403.41 36.19 L403.81 36.19 L404.20 36.18 L404.59 36.18 L404.98 36.17 L405.38 36.17 L405.77 36.17 L406.16 36.16 L406.55 36.16 L406.95 36.16 L407.34 36.15 L407.73 36.15 L408.12 36.14 L408.52 36.14 L408.91 36.14 L409.30 36.13 L409.69 36.13 L410.09 36.13 L410.48 36.12 L410.87 36.12 L411.26 36.12 L411.65 36.11 L412.05 36.11 L412.44 36.10 L412.83 36.10 L413.22 36.10 L413.62 36.09 L414.01 36.09 L414.40 36.09 L414.79 36.08 L415.19 36.08 L415.58 36.08 L415.97 36.07 L416.36 36.07 L416.76 36.07 L417.15 36.06 L417.54 36.06 L417.93 36.06 L418.33 36.05 L418.72 36.05 L419.11 36.05 L419.50 36.05 L419.90 36.04 L420.29 36.04 L420.68 36.04 L421.07 36.03 L421.47 36.03 L421.86 36.03 L422.25 36.02 L422.64 36.02 L423.03 36.02 L423.43 36.01 L423.82 36.01 L424.21 36.01 L424.60 36.01 L425.00 36.00 L425.39 36.00 L425.78 36.00 L426.17 35.99 L426.57 35.99 L426.96 35.99 L427.35 35.99 L427.74 35.98 L428.14 35.98 L428.53 35.98 L428.92 35.97 L429.31 35.97 L429.71 35.97 L430.10 35.97 L430.49 35.96 L430.88 35.96 L431.28 35.96 L431.67 35.96 L432.06 35.95 L432.45 35.95 L432.85 35.95 L433.24 35.95 L433.63 35.94 L434.02 35.94 L434.42 35.94 L434.81 35.94 L435.20 35.93 L435.59 35.93 L435.98 35.93 L436.38 35.93 L436.77 35.92 L437.16 35.92 L437.55 35.92 L437.95 35.92 L438.34 35.91 L438.73 35.91 L439.12 35.91 L439.52 35.91 L439.91 35.90 L440.30 35.90 L440.69 35.90 L441.09 35.90 L441.48 35.90 L441.87 35.89 L442.26 35.89 L442.66 35.89 L443.05 35.89 L443.44 35.88 L443.83 35.88 L444.23 35.88 L444.62 35.88 L445.01 35.88 L445.40 35.87 L445.80 35.87 L446.19 35.87 L446.58 35.87 L446.97 35.86 L447.36 35.86 L447.76 35.86 L448.15 35.86 L448.54 35.86 L448.93 35.85 L449.33 35.85 L449.72 35.85 L450.11 35.85 L450.50 35.85 L450.90 35.84 L451.29 35.84 L451.68 35.84 L452.07 35.84 L452.47 35.84 L452.86 35.83 L453.25 35.83 L453.64 35.83 L454.04 35.83 L454.43 35.83 L454.82 35.83 L455.21 35.82 L455.61 35.82 L456.00 35.82 L456.39 35.82 L456.78 35.82 L457.18 35.81 L457.57 35.81 L457.96 35.81 L458.35 35.81 L458.74 35.81 L459.14 35.81 L459.53 35.80 L459.92 35.80 L460.31 35.80 L460.71 35.80 L461.10 35.80 L461.49 35.79 L461.88 35.79 L462.28 35.79 L462.67 35.79 L463.06 35.79 L463.45 35.79 L463.85 35.78 L464.24 35.78 L464.63 35.78 L465.02 35.78 L465.42 35.78 L465.81 35.78 L466.20 35.78 L466.59 35.77 L466.99 35.77 L467.38 35.77 L467.77 35.77 L468.16 35.77 L468.56 35.77 L468.95 35.76 L469.34 35.76 L469.73 35.76 L470.12 35.76 L470.52 35.76 L470.91 35.76 L471.30 35.76 L471.69 35.75 L472.09 35.75 L472.48 35.75 L472.87 35.75 L473.26 35.75 L473.66 35.75 L474.05 35.75 L474.44 35.74 L474.83 35.74 L475.23 35.74 L475.62 35.74 L476.01 35.74 L476.40 35.74 L476.80 35.74 L477.19 35.73 L477.58 35.73 L477.97 35.73 L478.37 35.73 L478.76 35.73 L479.15 35.73 L479.54 35.73 L479.94 35.73 L480.33 35.72 L480.72 35.72 L481.11 35.72 L481.50 35.72 L481.90 35.72 L482.29 35.72 L482.68 35.72 L483.07 35.71 L483.47 35.71 L483.86 35.71 L484.25 35.71 L484.64 35.71 L485.04 35.71 L485.43 35.71 L485.82 35.71 L486.21 35.71 L486.61 35.70 L487.00 35.70 L487.39 35.70 L487.78 35.70 L488.18 35.70 L488.57 35.70 L488.96 35.70 L489.35 35.70 L489.75 35.69 L490.14 35.69 L490.53 35.69 L490.92 35.69 L491.32 35.69 L491.71 35.69 L492.10 35.69 L492.49 35.69 L492.88 35.69 L493.28 35.69 L493.67 35.68 L494.06 35.68 L494.45 35.68 L494.85 35.68 L495.24 35.68 L495.63 35.68 L496.02 35.68 L496.42 35.68 L496.81 35.68 L497.20 35.67 L497.59 35.67 L497.99 35.67 L498.38 35.67 L498.77 35.67 L499.16 35.67 L499.56 35.67 L499.95 35.67 L500.34 35.67 L500.73 35.67 L501.13 35.67 L501.52 35.66 L501.91 35.66 L502.30 35.66 L502.70 35.66 L503.09 35.66 L503.48 35.66 L503.87 35.66 L504.26 35.66 L504.66 35.66 L505.05 35.66 L505.44 35.65 L505.83 35.65 L506.23 35.65 L506.62 35.65 L507.01 35.65 L507.40 35.65 L507.80 35.65 L508.19 35.65 L508.58 35.65 L508.97 35.65 L509.37 35.65 L509.76 35.65 L510.15 35.64 L510.54 35.64 L510.94 35.64 L511.33 35.64 L511.72 35.64 L512.11 35.64 L512.51 35.64" stroke-width="2"/>
<path d="M42.00 237.10 L42.39 237.10 L42.78 237.10 L43.18 237.10 L43.57 237.10 L43.96 237.10 L44.35 235.83 L44.75 234.26 L45.14 232.70 L45.53 231.15 L45.92 229.61 L46.32 228.09 L46.71 226.58 L47.10 225.08 L47.49 223.59 L47.89 222.12 L48.28 220.65 L48.67 219.20 L49.06 217.76 L49.46 216.33 L49.85 214.91 L50.24 213.50 L50.63 212.11 L51.03 210.72 L51.42 209.35 L51.81 207.98 L52.20 206.63 L52.60 205.29 L52.99 203.96 L53.38 202.64 L53.77 201.32 L54.16 200.02 L54.56 198.73 L54.95 197.45 L55.34 196.19 L55.73 194.93 L56.13 193.68 L56.52 192.44 L56.91 191.21 L57.30 189.99 L57.70 188.77 L58.09 187.57 L58.48 186.38 L58.87 185.20 L59.27 184.03 L59.66 182.86 L60.05 181.71 L60.44 180.56 L60.84 179.43 L61.23 178.30 L61.62 177.18 L62.01 176.07 L62.41 174.97 L62.80 173.88 L63.19 172.79 L63.58 171.72 L63.98 170.65 L64.37 169.59 L64.76 168.54 L65.15 167.50 L65.54 166.47 L65.94 165.44 L66.33 164.42 L66.72 163.41 L67.11 162.41 L67.51 161.42 L67.90 160.43 L68.29 159.46 L68.68 158.49 L69.08 157.52 L69.47 156.57 L69.86 155.62 L70.25 154.68 L70.65 153.75 L71.04 152.82 L71.43 151.91 L71.82 151.00 L72.22 150.09 L72.61 149.20 L73.00 148.31 L73.39 147.43 L73.79 146.55 L74.18 145.68 L74.57 144.82 L74.96 143.97 L75.36 143.12 L75.75 142.28 L76.14 141.44 L76.53 140.61 L76.92 139.79 L77.32 138.98 L77.71 138.17 L78.10 137.37 L78.49 136.57 L78.89 135.78 L79.28 135.00 L79.67 134.22 L80.06 133.45 L80.46 132.68 L80.85 131.93 L81.24 131.17 L81.63 130.43 L82.03 129.68 L82.42 128.95 L82.81 128.22 L83.20 127.50 L83.60 126.78 L83.99 126.07 L84.38 125.36 L84.77 124.66 L85.17 123.96 L85.56 123.27 L85.95 122.59 L86.34 121.91 L86.74 121.23 L87.13 120.57 L87.52 119.90 L87.91 119.24 L88.30 118.59 L88.70 117.94 L89.09 117.30 L89.48 116.66 L89.87 116.03 L90.27 115.40 L90.66 114.78 L91.05 114.16 L91.44 113.55 L91.84 112.94 L92.23 112.34 L92.62 111.74 L93.01 111.15 L93.41 110.56 L93.80 109.97 L94.19 109.39 L94.58 108.82 L94.98 108.25 L95.37 107.68 L95.76 107.12 L96.15 106.56 L96.55 106.01 L96.94 105.46 L97.33 104.92 L97.72 104.38 L98.12 103.84 L98.51 103.31 L98.90 102.78 L99.29 102.26 L99.69 101.74 L100.08 101.22 L100.47 100.71 L100.86 100.21 L101.25 99.70 L101.65 99.20 L102.04 98.71 L102.43 98.22 L102.82 97.73 L103.22 97.25 L103.61 96.77 L104.00 96.29 L104.39 95.82 L104.79 95.35 L105.18 94.89 L105.57 94.43 L105.96 93.97 L106.36 93.52 L106.75 93.07 L107.14 92.62 L107.53 92.18 L107.93 91.74 L108.32 91.30 L108.71 90.87 L109.10 90.44 L109.50 90.01 L109.89 89.59 L110.28 89.17 L110.67 88.76 L111.07 88.34 L111.46 87.93 L111.85 87.53 L112.24 87.13 L112.63 86.73 L113.03 86.33 L113.42 85.94 L113.81 85.55 L114.20 85.16 L114.60 84.77 L114.99 84.39 L115.38 84.02 L115.77 83.64 L116.17 83.27 L116.56 82.90 L116.95 82.53 L117.34 82.17 L117.74 81.81 L118.13 81.45 L118.52 81.10 L118.91 80.74 L119.31 80.39 L119.70 80.05 L120.09 79.70 L120.48 79.36 L120.88 79.02 L121.27 78.69 L121.66 78.36 L122.05 78.02 L122.45 77.70 L122.84 77.37 L123.23 77.05 L123.62 76.73 L124.01 76.41 L124.41 76.10 L124.80 75.78 L125.19 75.47 L125.58 75.16 L125.98 74.86 L126.37 74.56 L126.76 74.26 L127.15 73.96 L127.55 73.66 L127.94 73.37 L128.33 73.08 L128.72 72.79 L129.12 72.50 L129.51 72.22 L129.90 71.94 L130.29 71.66 L130.69 71.38 L131.08 71.10 L131.47 70.83 L131.86 70.56 L132.26 70.29 L132.65 70.02 L133.04 69.76 L133.43 69.49 L133.83 69.23 L134.22 68.98 L134.61 68.72 L135.00 68.46 L135.39 68.21 L135.79 67.96 L136.18 67.71 L136.57 67.47 L136.96 67.22 L137.36 66.98 L137.75 66.74 L138.14 66.50 L138.53 66.26 L138.93 66.03 L139.32 65.79 L139.71 65.56 L140.10 65.33 L140.50 65.10 L140.89 64.88 L141.28 64.65 L141.67 64.43 L142.07 64.21 L142.46 63.99 L142.85 63.78 L143.24 63.56 L143.64 63.35 L144.03 63.13 L144.42 62.92 L144.81 62.71 L145.21 62.51 L145.60 62.30 L145.99 62.10 L146.38 61.90 L146.77 61.69 L147.17 61.50 L147.56 61.30 L147.95 61.10 L148.34 60.91 L148.74 60.71 L149.13 60.52 L149.52 60.33 L149.91 60.15 L150.31 59.96 L150.70 59.77 L151.09 59.59 L151.48 59.41 L151.88 59.23 L152.27 59.05 L152.66 58.87 L153.05 58.69 L153.45 58.52 L153.84 58.34 L154.23 58.17 L154.62 58.00 L155.02 57.83 L155.41 57.66 L155.80 57.49 L156.19 57.33 L156.59 57.16 L156.98 57.00 L157.37 56.84 L157.76 56.67 L158.15 56.51 L158.55 56.36 L158.94 56.20 L159.33 56.04 L159.72 55.89 L160.12 55.74 L160.51 55.58 L160.90 55.43 L161.29 55.28 L161.69 55.13 L162.08 54.99 L162.47 54.84 L162.86 54.70 L163.26 54.55 L163.65 54.41 L164.04 54.27 L164.43 54.13 L164.83 53.99 L165.22 53.85 L165.61 53.71 L166.00 53.58 L166.40 53.44 L166.79 53.31 L167.18 53.17 L167.57 53.04 L167.97 52.91 L168.36 52.78 L168.75 52.65 L169.14 52.52 L169.53 52.40 L169.93 52.27 L170.32 52.15 L170.71 52.02 L171.10 51.90 L171.50 51.78 L171.89 51.66 L172.28 51.54 L172.67 51.42 L173.07 51.30 L173.46 51.18 L173.85 51.07 L174.24 50.95 L174.64 50.84 L175.03 50.72 L175.42 50.61 L175.81 50.50 L176.21 50.39 L176.60 50.28 L176.99 50.17 L177.38 50.06 L177.78 49.95 L178.17 49.85 L178.56 49.74 L178.95 49.64 L179.35 49.53 L179.74 49.43 L180.13 49.33 L180.52 49.23 L180.91 49.12 L181.31 49.02 L181.70 48.93 L182.09 48.83 L182.48 48.73 L182.88 48.63 L183.27 48.54 L183.66 48.44 L184.05 48.35 L184.45 48.25 L184.84 48.16 L185.23 48.07 L185.62 47.98 L186.02 47.88 L186.41 47.79 L186.80 47.71 L187.19 47.62 L187.59 47.53 L187.98 47.44 L188.37 47.35 L188.76 47.27 L189.16 47.18 L189.55 47.10 L189.94 47.01 L190.33 46.93 L190.73 46.85 L191.12 46.77 L191.51 46.68 L191.90 46.60 L192.29 46.52 L192.69 46.44 L193.08 46.37 L193.47 46.29 L193.86 46.21 L194.26 46.13 L194.65 46.06 L195.04 45.98 L195.43 45.91 L195.83 45.83 L196.22 45.76 L196.61 45.68 L197.00 45.61 L197.40 45.54 L197.79 45.47 L198.18 45.40 L198.57 45.32 L198.97 45.25 L199.36 45.18 L199.75 45.12 L200.14 45.05 L200.54 44.98 L200.93 44.91 L201.32 44.85 L201.71 44.78 L202.11 44.71 L202.50 44.65 L202.89 44.58 L203.28 44.52 L203.67 44.46 L204.07 44.39 L204.46 44.33 L204.85 44.27 L205.24 44.21 L205.64 44.15 L206.03 44.08 L206.42 44.02 L206.81 43.96 L207.21 43.91 L207.60 43.85 L207.99 43.79 L208.38 43.73 L208.78 43.67 L209.17 43.62 L209.56 43.56 L209.95 43.50 L210.35 43.45 L210.74 43.39 L211.13 43.34 L211.52 43.28 L211.92 43.23 L212.31 43.18 L212.70 43.12 L213.09 43.07 L213.49 43.02 L213.88 42.97 L214.27 42.91 L214.66 42.86 L215.06 42.81 L215.45 42.76 L215.84 42.71 L216.23 42.66 L216.62 42.61 L217.02 42.57 L217.41 42.52 L217.80 42.47 L218.19 42.42 L218.59 42.37 L218.98 42.33 L219.37 42.28 L219.76 42.24 L220.16 42.19 L220.55 42.14 L220.94 42.10 L221.33 42.05 L221.73 42.01 L222.12 41.97 L222.51 41.92 L222.90 41.88 L223.30 41.84 L223.69 41.79 L224.08 41.75 L224.47 41.71 L224.87 41.67 L225.26 41.63 L225.65 41.59 L226.04 41.55 L226.44 41.51 L226.83 41.47 L227.22 41.43 L227.61 41.39 L228.00 41.35 L228.40 41.31 L228.79 41.27 L229.18 41.23 L229.57 41.20 L229.97 41.16 L230.36 41.12 L230.75 41.08 L231.14 41.05 L231.54 41.01 L231.93 40.98 L232.32 40.94 L232.71 40.90 L233.11 40.87 L233.50 40.83 L233.89 40.80 L234.28 40.77 L234.68 40.73 L235.07 40.70 L235.46 40.66 L235.85 40.63 L236.25 40.60 L236.64 40.56 L237.03 40.53 L237.42 40.50 L237.82 40.47 L238.21 40.44 L238.60 40.40 L238.99 40.37 L239.38 40.34 L239.78 40.31 L240.17 40.28 L240.56 40.25 L240.95 40.22 L241.35 40.19 L241.74 40.16 L242.13 40.13 L242.52 40.10 L242.92 40.07 L243.31 40.05 L243.70 40.02 L244.09 39.99 L244.49 39.96 L244.88 39.93 L245.27 39.91 L245.66 39.88 L246.06 39.85 L246.45 39.82 L246.84 39.80 L247.23 39.77 L247.63 39.75 L248.02 39.72 L248.41 39.69 L248.80 39.67 L249.20 39.64 L249.59 39.62 L249.98 39.59 L250.37 39.57 L250.76 39.54 L251.16 39.52 L251.55 39.49 L251.94 39.47 L252.33 39.45 L252.73 39.42 L253.12 39.40 L253.51 39.38 L253.90 39.35 L254.30 39.33 L254.69 39.31 L255.08 39.28 L255.47 39.26 L255.87 39.24 L256.26 39.22 L256.65 39.20 L257.04 39.17 L257.44 39.15 L257.83 39.13 L258.22 39.11 L258.61 39.09 L259.01 39.07 L259.40 39.05 L259.79 39.03 L260.18 39.01 L260.58 38.99 L260.97 38.97 L261.36 38.95 L261.75 38.93 L262.14 38.91 L262.54 38.89 L262.93 38.87 L263.32 38.85 L263.71 38.83 L264.11 38.81 L264.50 38.79 L264.89 38.77 L265.28 38.76 L265.68 38.74 L266.07 38.72 L266.46 38.70 L266.85 38.68 L267.25 38.67 L267.64 38.65 L268.03 38.63 L268.42 38.61 L268.82 38.60 L269.21 38.58 L269.60 38.56 L269.99 38.55 L270.39 38.53 L270.78 38.51 L271.17 38.50 L271.56 38.48 L271.96 38.47 L272.35 38.45 L272.74 38.43 L273.13 38.42 L273.52 38.40 L273.92 38.39 L274.31 38.37 L274.70 38.36 L275.09 38.34 L275.49 38.33 L275.88 38.31 L276.27 38.30 L276.66 38.28 L277.06 38.27 L277.45 38.25 L277.84 38.24 L278.23 38.22 L278.63 38.21 L279.02 38.20 L279.41 38.18 L279.80 38.17 L280.20 38.16 L280.59 38.14 L280.98 38.13 L281.37 38.12 L281.77 38.10 L282.16 38.09 L282.55 38.08 L282.94 38.06 L283.34 38.05 L283.73 38.04 L284.12 38.03 L284.51 38.01 L284.90 38.00 L285.30 37.99 L285.69 37.98 L286.08 37.96 L286.47 37.95 L286.87 37.94 L287.26 37.93 L287.65 37.92 L288.04 37.91 L288.44 37.89 L288.83 37.88 L289.22 37.87 L289.61 37.86 L290.01 37.85 L290.40 37.84 L290.79 37.83 L291.18 37.82 L291.58 37.80 L291.97 37.79 L292.36 37.78 L292.75 37.77 L293.15 37.76 L293.54 37.75 L293.93 37.74 L294.32 37.73 L294.72 37.72 L295.11 37.71 L295.50 37.70 L295.89 37.69 L296.28 37.68 L296.68 37.67 L297.07 37.66 L297.46 37.65 L297.85 37.64 L298.25 37.63 L298.64 37.62 L299.03 37.61 L299.42 37.61 L299.82 37.60 L300.21 37.59 L300.60 37.58 L300.99 37.57 L301.39 37.56 L301.78 37.55 L302.17 37.54 L302.56 37.53 L302.96 37.53 L303.35 37.52 L303.74 37.51 L304.13 37.50 L304.53 37.49 L304.92 37.48 L305.31 37.48 L305.70 37.47 L306.10 37.46 L306.49 37.45 L306.88 37.44 L307.27 37.44 L307.66 37.43 L308.06 37.42 L308.45 37.41 L308.84 37.40 L309.23 37.40 L309.63 37.39 L310.02 37.38 L310.41 37.37 L310.80 37.37 L311.20 37.36 L311.59 37.35 L311.98 37.35 L312.37 37.34 L312.77 37.33 L313.16 37.32 L313.55 37.32 L313.94 37.31 L314.34 37.30 L314.73 37.30 L315.12 37.29 L315.51 37.28 L315.91 37.28 L316.30 37.27 L316.69 37.26 L317.08 37.26 L317.48 37.25 L317.87 37.25 L318.26 37.24 L318.65 37.23 L319.04 37.23 L319.44 37.22 L319.83 37.21 L320.22 37.21 L320.61 37.20 L321.01 37.20 L321.40 37.19 L321.79 37.18 L322.18 37.18 L322.58 37.17 L322.97 37.17 L323.36 37.16 L323.75 37.16 L324.15 37.15 L324.54 37.14 L324.93 37.14 L325.32 37.13 L325.72 37.13 L326.11 37.12 L326.50 37.12 L326.89 37.11 L327.29 37.11 L327.68 37.10 L328.07 37.10 L328.46 37.09 L328.86 37.09 L329.25 37.08 L329.64 37.08 L330.03 37.07 L330.43 37.07 L330.82 37.06 L331.21 37.06 L331.60 37.05 L331.99 37.05 L332.39 37.04 L332.78 37.04 L333.17 37.03 L333.56 37.03 L333.96 37.02 L334.35 37.02 L334.74 37.01 L335.13 37.01 L335.53 37.01 L335.92 37.00 L336.31 37.00 L336.70 36.99 L337.10 36.99 L337.49 36.98 L337.88 36.98 L338.27 36.98 L338.67 36.97 L339.06 36.97 L339.45 36.96 L339.84 36.96 L340.24 36.95 L340.63 36.95 L341.02 36.95 L341.41 36.94 L341.81 36.94 L342.20 36.93 L342.59 36.93 L342.98 36.93 L343.37 36.92 L343.77 36.92 L344.16 36.92 L344.55 36.91 L344.94 36.91 L345.34 36.90 L345.73 36.90 L346.12 36.90 L346.51 36.89 L346.91 36.89 L347.30 36.89 L347.69 36.88 L348.08 36.88 L348.48 36.88 L348.87 36.87 L349.26 36.87 L349.65 36.87 L350.05 36.86 L350.44 36.86 L350.83 36.86 L351.22 36.85 L351.62 36.85 L352.01 36.85 L352.40 36.84 L352.79 36.84 L353.19 36.84 L353.58 36.83 L353.97 36.83 L354.36 36.83 L354.75 36.83 L355.15 36.82 L355.54 36.82 L355.93 36.82 L356.32 36.81 L356.72 36.81 L357.11 36.81 L357.50 36.80 L357.89 36.80 L358.29 36.80 L358.68 36.80 L359.07 36.79 L359.46 36.79 L359.86 36.79 L360.25 36.79 L360.64 36.78 L361.03 36.78 L361.43 36.78 L361.82 36.77 L362.21 36.77 L362.60 36.77 L363.00 36.77 L363.39 36.76 L363.78 36.76 L364.17 36.76 L364.57 36.76 L364.96 36.75 L365.35 36.75 L365.74 36.75 L366.13 36.75 L366.53 36.74 L366.92 36.74 L367.31 36.74 L367.70 36.74 L368.10 36.74 L368.49 36.73 L368.88 36.73 L369.27 36.73 L369.67 36.73 L370.06 36.72 L370.45 36.72 L370.84 36.72 L371.24 36.72 L371.63 36.72 L372.02 36.71 L372.41 36.71 L372.81 36.71 L373.20 36.71 L373.59 36.70 L373.98 36.70 L374.38 36.70 L374.77 36.70 L375.16 36.70 L375.55 36.69 L375.95 36.69 L376.34 36.69 L376.73 36.69 L377.12 36.69 L377.51 36.69 L377.91 36.68 L378.30 36.68 L378.69 36.68 L379.08 36.68 L379.48 36.68 L379.87 36.67 L380.26 36.67 L380.65 36.67 L381.05 36.67 L381.44 36.67 L381.83 36.67 L382.22 36.66 L382.62 36.66 L383.01 36.66 L383.40 36.66 L383.79 36.66 L384.19 36.65 L384.58 36.65 L384.97 36.65 L385.36 36.65 L385.76 36.65 L386.15 36.65 L386.54 36.65 L386.93 36.64 L387.33 36.64 L387.72 36.64 L388.11 36.64 L388.50 36.64 L388.89 36.64 L389.29 36.63 L389.68 36.63 L390.07 36.63 L390.46 36.63 L390.86 36.63 L391.25 36.63 L391.64 36.63 L392.03 36.62 L392.43 36.62 L392.82 36.62 L393.21 36.62 L393.60 36.62 L394.00 36.62 L394.39 36.62 L394.78 36.61 L395.17 36.61 L395.57 36.61 L395.96 36.61 L396.35 36.61 L396.74 36.61 L397.14 36.61 L397.53 36.61 L397.92 36.60 L398.31 36.60 L398.71 36.60 L399.10 36.60 L399.49 36.60 L399.88 36.60 L400.27 36.60 L400.67 36.60 L401.06 36.59 L401.45 36.59 L401.84 36.59 L402.24 36.59 L402.63 36.59 L403.02 36.59 L403.41 36.59 L403.81 36.59 L404.20 36.59 L404.59 36.58 L404.98 36.58 L405.38 36.58 L405.77 36.58 L406.16 36.58 L406.55 36.58 L406.95 36.58 L407.34 36.58 L407.73 36.58 L408.12 36.57 L408.52 36.57 L408.91 36.57 L409.30 36.57 L409.69 36.57 L410.09 36.57 L410.48 36.57 L410.87 36.57 L411.26 36.57 L411.65 36.57 L412.05 36.56 L412.44 36.56 L412.83 36.56 L413.22 36.56 L413.62 36.56 L414.01 36.56 L414.40 36.56 L414.79 36.56 L415.19 36.56 L415.58 36.56 L415.97 36.56 L416.36 36.55 L416.76 36.55 L417.15 36.55 L417.54 36.55 L417.93 36.55 L418.33 36.55 L418.72 36.55 L419.11 36.55 L419.50 36.55 L419.90 36.55 L420.29 36.55 L420.68 36.55 L421.07 36.54 L421.47 36.54 L421.86 36.54 L422.25 36.54 L422.64 36.54 L423.03 36.54 L423.43 36.54 L423.82 36.54 L424.21 36.54 L424.60 36.54 L425.00 36.54 L425.39 36.54 L425.78 36.54 L426.17 36.53 L426.57 36.53 L426.96 36.53 L427.35 36.53 L427.74 36.53 L428.14 36.53 L428.53 36.53 L428.92 36.53 L429.31 36.53 L429.71 36.53 L430.10 36.53 L430.49 36.53 L430.88 36.53 L431.28 36.53 L431.67 36.53 L432.06 36.52 L432.45 36.52 L432.85 36.52 L433.24 36.52 L433.63 36.52 L434.02 36.52 L434.42 36.52 L434.81 36.52 L435.20 36.52 L435.59 36.52 L435.98 36.52 L436.38 36.52 L436.77 36.52 L437.16 36.52 L437.55 36.52 L437.95 36.52 L438.34 36.52 L438.73 36.51 L439.12 36.51 L439.52 36.51 L439.91 36.51 L440.30 36.51 L440.69 36.51 L441.09 36.51 L441.48 36.51 L441.87 36.51 L442.26 36.51 L442.66 36.51 L443.05 36.51 L443.44 36.51 L443.83 36.51 L444.23 36.51 L444.62 36.51 L445.01 36.51 L445.40 36.51 L445.80 36.51 L446.19 36.51 L446.58 36.50 L446.97 36.50 L447.36 36.50 L447.76 36.50 L448.15 36.50 L448.54 36.50 L448.93 36.50 L449.33 36.50 L449.72 36.50 L450.11 36.50 L450.50 36.50 L450.90 36.50 L451.29 36.50 L451.68 36.50 L452.07 36.50 L452.47 36.50 L452.86 36.50 L453.25 36.50 L453.64 36.50 L454.04 36.50 L454.43 36.50 L454.82 36.50 L455.21 36.50 L455.61 36.49 L456.00 36.49 L456.39 36.49 L456.78 36.49 L457.18 36.49 L457.57 36.49 L457.96 36.49 L458.35 36.49 L458.74 36.49 L459.14 36.49 L459.53 36.49 L459.92 36.49 L460.31 36.49 L460.71 36.49 L461.10 36.49 L461.49 36.49 L461.88 36.49 L462.28 36.49 L462.67 36.49 L463.06 36.49 L463.45 36.49 L463.85 36.49 L464.24 36.49 L464.63 36.49 L465.02 36.49 L465.42 36.49 L465.81 36.49 L466.20 36.49 L466.59 36.48 L466.99 36.48 L467.38 36.48 L467.77 36.48 L468.16 36.48 L468.56 36.48 L468.95 36.48 L469.34 36.48 L469.73 36.48 L470.12 36.48 L470.52 36.48 L470.91 36.48 L471.30 36.48 L471.69 36.48 L472.09 36.48 L472.48 36.48 L472.87 36.48 L473.26 36.48 L473.66 36.48 L474.05 36.48 L474.44 36.48 L474.83 36.48 L475.23 36.48 L475.62 36.48 L476.01 36.48 L476.40 36.48 L476.80 36.48 L477.19 36.48 L477.58 36.48 L477.97 36.48 L478.37 36.48 L478.76 36.48 L479.15 36.48 L479.54 36.48 L479.94 36.48 L480.33 36.48 L480.72 36.47 L481.11 36.47 L481.50 36.47 L481.90 36.47 L482.29 36.47 L482.68 36.47 L483.07 36.47 L483.47 36.47 L483.86 36.47 L484.25 36.47 L484.64 36.47 L485.04 36.47 L485.43 36.47 L485.82 36.47 L486.21 36.47 L486.61 36.47 L487.00 36.47 L487.39 36.47 L487.78 36.47 L488.18 36.47 L488.57 36.47 L488.96 36.47 L489.35 36.47 L489.75 36.47 L490.14 36.47 L490.53 36.47 L490.92 36.47 L491.32 36.47 L491.71 36.47 L492.10 36.47 L492.49 36.47 L492.88 36.47 L493.28 36.47 L493.67 36.47 L494.06 36.47 L494.45 36.47 L494.85 36.47 L495.24 36.47 L495.63 36.47 L496.02 36.47 L496.42 36.47 L496.81 36.47 L497.20 36.47 L497.59 36.47 L497.99 36.47 L498.38 36.47 L498.77 36.47 L499.16 36.47 L499.56 36.47 L499.95 36.47 L500.34 36.47 L500.73 36.46 L501.13 36.46 L501.52 36.46 L501.91 36.46 L502.30 36.46 L502.70 36.46 L503.09 36.46 L503.48 36.46 L503.87 36.46 L504.26 36.46 L504.66 36.46 L505.05 36.46 L505.44 36.46 L505.83 36.46 L506.23 36.46 L506.62 36.46 L507.01 36.46 L507.40 36.46 L507.80 36.46 L508.19 36.46 L508.58 36.46 L508.97 36.46 L509.37 36.46 L509.76 36.46 L510.15 36.46 L510.54 36.46 L510.94 36.46 L511.33 36.46 L511.72 36.46 L512.11 36.46 L512.51 36.46" stroke-width="2" stroke-dasharray="7.5 2.5 3 2.5"/>
</g>
<path d="M42.00 237.10 v-4.70 M42.00 16.60 v4.70 M89.43 237.10 v-4.70 M89.43 16.60 v4.70 M136.86 237.10 v-4.70 M136.86 16.60 v4.70 M184.29 237.10 v-4.70 M184.29 16.60 v4.70 M231.72 237.10 v-4.70 M231.72 16.60 v4.70 M279.15 237.10 v-4.70 M279.15 16.60 v4.70 M326.58 237.10 v-4.70 M326.58 16.60 v4.70 M374.01 237.10 v-4.70 M374.01 16.60 v4.70 M421.44 237.10 v-4.70 M421.44 16.60 v4.70 M468.87 237.10 v-4.70 M468.87 16.60 v4.70 M516.30 237.10 v-4.70 M516.30 16.60 v4.70 M42.00 237.10 h4.70 M516.30 237.10 h-4.70 M42.00 205.60 h4.70 M516.30 205.60 h-4.70 M42.00 174.10 h4.70 M516.30 174.10 h-4.70 M42.00 142.60 h4.70 M516.30 142.60 h-4.70 M42.00 111.10 h4.70 M516.30 111.10 h-4.70 M42.00 79.60 h4.70 M516.30 79.60 h-4.70 M42.00 48.10 h4.70 M516.30 48.10 h-4.70 M42.00 16.60 h4.70 M516.30 16.60 h-4.70" stroke="#666" stroke-width="0.9" fill="none"/>
<rect x="42.00" y="16.60" width="474.30" height="220.50" fill="none" stroke="#8a8a8a" stroke-width="1.10"/>
<g font-family='"Liberation Sans", sans-serif' font-weight="bold" font-size="10.67" fill="#111" stroke="#111" stroke-width="0.4" stroke-linejoin="round">
<text x="42.00" y="250.9" text-anchor="middle">0</text>
<text x="89.43" y="250.9" text-anchor="middle">10</text>
<text x="136.86" y="250.9" text-anchor="middle">20</text>
<text x="184.29" y="250.9" text-anchor="middle">30</text>
<text x="231.72" y="250.9" text-anchor="middle">40</text>
<text x="279.15" y="250.9" text-anchor="middle">50</text>
<text x="326.58" y="250.9" text-anchor="middle">60</text>
<text x="374.01" y="250.9" text-anchor="middle">70</text>
<text x="421.44" y="250.9" text-anchor="middle">80</text>
<text x="468.87" y="250.9" text-anchor="middle">90</text>
<text x="517.30" y="250.9" text-anchor="middle">100</text>
<text x="38.4" y="240.95" text-anchor="end">0</text>
<text x="38.4" y="209.45" text-anchor="end">1</text>
<text x="38.4" y="177.95" text-anchor="end">2</text>
<text x="38.4" y="146.45" text-anchor="end">3</text>
<text x="38.4" y="114.95" text-anchor="end">4</text>
<text x="38.4" y="83.45" text-anchor="end">5</text>
<text x="38.4" y="51.95" text-anchor="end">6</text>
<text x="38.4" y="20.45" text-anchor="end">7</text>
<text x="279.3" y="11.5" text-anchor="middle">Step responses</text>
<text x="279.4" y="264.6" text-anchor="middle">Time (min)</text>
</g>
<rect x="441.20" y="41.50" width="70.60" height="38.70" fill="#fff" stroke="#777" stroke-width="0.9"/>
<g stroke="#000" stroke-width="2" fill="none">
<path d="M445 49.00 H467.4" stroke-dasharray="1.6 1.35"/>
<path d="M445 60.70 H467.4"/>
<path d="M445 72.60 H467.4" stroke-dasharray="7.5 2.5 3 2.5"/>
</g>
<g font-family='"Liberation Sans", sans-serif' font-weight="bold" font-size="7.2" fill="#111" stroke="#111" stroke-width="0.2">
<text x="469.7" y="51.85">q11</text>
<text x="469.7" y="63.55">proposed</text>
<text x="469.7" y="75.45">Truong</text>
</g>
</g>
<g id="bode">
<line x1="70.40" y1="315.20" x2="70.40" y2="425.60" stroke="#e6e6e6" stroke-width="0.8" stroke-dasharray="0.9 1.1"/>
<line x1="87.07" y1="315.20" x2="87.07" y2="425.60" stroke="#e6e6e6" stroke-width="0.8" stroke-dasharray="0.9 1.1"/>
<line x1="98.90" y1="315.20" x2="98.90" y2="425.60" stroke="#e6e6e6" stroke-width="0.8" stroke-dasharray="0.9 1.1"/>
<line x1="108.08" y1="315.20" x2="108.08" y2="425.60" stroke="#e6e6e6" stroke-width="0.8" stroke-dasharray="0.9 1.1"/>
<line x1="115.58" y1="315.20" x2="115.58" y2="425.60" stroke="#e6e6e6" stroke-width="0.8" stroke-dasharray="0.9 1.1"/>
<line x1="121.91" y1="315.20" x2="121.91" y2="425.60" stroke="#e6e6e6" stroke-width="0.8" stroke-dasharray="0.9 1.1"/>
<line x1="127.40" y1="315.20" x2="127.40" y2="425.60" stroke="#e6e6e6" stroke-width="0.8" stroke-dasharray="0.9 1.1"/>
<line x1="132.25" y1="315.20" x2="132.25" y2="425.60" stroke="#e6e6e6" stroke-width="0.8" stroke-dasharray="0.9 1.1"/>
<line x1="165.08" y1="315.20" x2="165.08" y2="425.60" stroke="#e6e6e6" stroke-width="0.8" stroke-dasharray="0.9 1.1"/>
<line x1="181.75" y1="315.20" x2="181.75" y2="425.60" stroke="#e6e6e6" stroke-width="0.8" stroke-dasharray="0.9 1.1"/>
<line x1="193.58" y1="315.20" x2="193.58" y2="425.60" stroke="#e6e6e6" stroke-width="0.8" stroke-dasharray="0.9 1.1"/>
<line x1="202.76" y1="315.20" x2="202.76" y2="425.60" stroke="#e6e6e6" stroke-width="0.8" stroke-dasharray="0.9 1.1"/>
<line x1="210.26" y1="315.20" x2="210.26" y2="425.60" stroke="#e6e6e6" stroke-width="0.8" stroke-dasharray="0.9 1.1"/>
<line x1="216.59" y1="315.20" x2="216.59" y2="425.60" stroke="#e6e6e6" stroke-width="0.8" stroke-dasharray="0.9 1.1"/>
<line x1="222.08" y1="315.20" x2="222.08" y2="425.60" stroke="#e6e6e6" stroke-width="0.8" stroke-dasharray="0.9 1.1"/>
<line x1="226.93" y1="315.20" x2="226.93" y2="425.60" stroke="#e6e6e6" stroke-width="0.8" stroke-dasharray="0.9 1.1"/>
<line x1="259.76" y1="315.20" x2="259.76" y2="425.60" stroke="#e6e6e6" stroke-width="0.8" stroke-dasharray="0.9 1.1"/>
<line x1="276.43" y1="315.20" x2="276.43" y2="425.60" stroke="#e6e6e6" stroke-width="0.8" stroke-dasharray="0.9 1.1"/>
<line x1="288.26" y1="315.20" x2="288.26" y2="425.60" stroke="#e6e6e6" stroke-width="0.8" stroke-dasharray="0.9 1.1"/>
<line x1="297.44" y1="315.20" x2="297.44" y2="425.60" stroke="#e6e6e6" stroke-width="0.8" stroke-dasharray="0.9 1.1"/>
<line x1="304.94" y1="315.20" x2="304.94" y2="425.60" stroke="#e6e6e6" stroke-width="0.8" stroke-dasharray="0.9 1.1"/>
<line x1="311.27" y1="315.20" x2="311.27" y2="425.60" stroke="#e6e6e6" stroke-width="0.8" stroke-dasharray="0.9 1.1"/>
<line x1="316.76" y1="315.20" x2="316.76" y2="425.60" stroke="#e6e6e6" stroke-width="0.8" stroke-dasharray="0.9 1.1"/>
<line x1="321.61" y1="315.20" x2="321.61" y2="425.60" stroke="#e6e6e6" stroke-width="0.8" stroke-dasharray="0.9 1.1"/>
<line x1="354.44" y1="315.20" x2="354.44" y2="425.60" stroke="#e6e6e6" stroke-width="0.8" stroke-dasharray="0.9 1.1"/>
<line x1="371.11" y1="315.20" x2="371.11" y2="425.60" stroke="#e6e6e6" stroke-width="0.8" stroke-dasharray="0.9 1.1"/>
<line x1="382.94" y1="315.20" x2="382.94" y2="425.60" stroke="#e6e6e6" stroke-width="0.8" stroke-dasharray="0.9 1.1"/>
<line x1="392.12" y1="315.20" x2="392.12" y2="425.60" stroke="#e6e6e6" stroke-width="0.8" stroke-dasharray="0.9 1.1"/>
<line x1="399.62" y1="315.20" x2="399.62" y2="425.60" stroke="#e6e6e6" stroke-width="0.8" stroke-dasharray="0.9 1.1"/>
<line x1="405.95" y1="315.20" x2="405.95" y2="425.60" stroke="#e6e6e6" stroke-width="0.8" stroke-dasharray="0.9 1.1"/>
<line x1="411.44" y1="315.20" x2="411.44" y2="425.60" stroke="#e6e6e6" stroke-width="0.8" stroke-dasharray="0.9 1.1"/>
<line x1="416.29" y1="315.20" x2="416.29" y2="425.60" stroke="#e6e6e6" stroke-width="0.8" stroke-dasharray="0.9 1.1"/>
<line x1="449.12" y1="315.20" x2="449.12" y2="425.60" stroke="#e6e6e6" stroke-width="0.8" stroke-dasharray="0.9 1.1"/>
<line x1="465.79" y1="315.20" x2="465.79" y2="425.60" stroke="#e6e6e6" stroke-width="0.8" stroke-dasharray="0.9 1.1"/>
<line x1="477.62" y1="315.20" x2="477.62" y2="425.60" stroke="#e6e6e6" stroke-width="0.8" stroke-dasharray="0.9 1.1"/>
<line x1="486.80" y1="315.20" x2="486.80" y2="425.60" stroke="#e6e6e6" stroke-width="0.8" stroke-dasharray="0.9 1.1"/>
<line x1="494.30" y1="315.20" x2="494.30" y2="425.60" stroke="#e6e6e6" stroke-width="0.8" stroke-dasharray="0.9 1.1"/>
<line x1="500.63" y1="315.20" x2="500.63" y2="425.60" stroke="#e6e6e6" stroke-width="0.8" stroke-dasharray="0.9 1.1"/>
<line x1="506.12" y1="315.20" x2="506.12" y2="425.60" stroke="#e6e6e6" stroke-width="0.8" stroke-dasharray="0.9 1.1"/>
<line x1="510.97" y1="315.20" x2="510.97" y2="425.60" stroke="#e6e6e6" stroke-width="0.8" stroke-dasharray="0.9 1.1"/>
<line x1="136.58" y1="315.20" x2="136.58" y2="425.60" stroke="#dedede" stroke-width="0.90"/>
<line x1="231.26" y1="315.20" x2="231.26" y2="425.60" stroke="#dedede" stroke-width="0.90"/>
<line x1="325.94" y1="315.20" x2="325.94" y2="425.60" stroke="#dedede" stroke-width="0.90"/>
<line x1="420.62" y1="315.20" x2="420.62" y2="425.60" stroke="#dedede" stroke-width="0.90"/>
<line x1="70.40" y1="431.90" x2="70.40" y2="529.30" stroke="#e6e6e6" stroke-width="0.8" stroke-dasharray="0.9 1.1"/>
<line x1="87.07" y1="431.90" x2="87.07" y2="529.30" stroke="#e6e6e6" stroke-width="0.8" stroke-dasharray="0.9 1.1"/>
<line x1="98.90" y1="431.90" x2="98.90" y2="529.30" stroke="#e6e6e6" stroke-width="0.8" stroke-dasharray="0.9 1.1"/>
<line x1="108.08" y1="431.90" x2="108.08" y2="529.30" stroke="#e6e6e6" stroke-width="0.8" stroke-dasharray="0.9 1.1"/>
<line x1="115.58" y1="431.90" x2="115.58" y2="529.30" stroke="#e6e6e6" stroke-width="0.8" stroke-dasharray="0.9 1.1"/>
<line x1="121.91" y1="431.90" x2="121.91" y2="529.30" stroke="#e6e6e6" stroke-width="0.8" stroke-dasharray="0.9 1.1"/>
<line x1="127.40" y1="431.90" x2="127.40" y2="529.30" stroke="#e6e6e6" stroke-width="0.8" stroke-dasharray="0.9 1.1"/>
<line x1="132.25" y1="431.90" x2="132.25" y2="529.30" stroke="#e6e6e6" stroke-width="0.8" stroke-dasharray="0.9 1.1"/>
<line x1="165.08" y1="431.90" x2="165.08" y2="529.30" stroke="#e6e6e6" stroke-width="0.8" stroke-dasharray="0.9 1.1"/>
<line x1="181.75" y1="431.90" x2="181.75" y2="529.30" stroke="#e6e6e6" stroke-width="0.8" stroke-dasharray="0.9 1.1"/>
<line x1="193.58" y1="431.90" x2="193.58" y2="529.30" stroke="#e6e6e6" stroke-width="0.8" stroke-dasharray="0.9 1.1"/>
<line x1="202.76" y1="431.90" x2="202.76" y2="529.30" stroke="#e6e6e6" stroke-width="0.8" stroke-dasharray="0.9 1.1"/>
<line x1="210.26" y1="431.90" x2="210.26" y2="529.30" stroke="#e6e6e6" stroke-width="0.8" stroke-dasharray="0.9 1.1"/>
<line x1="216.59" y1="431.90" x2="216.59" y2="529.30" stroke="#e6e6e6" stroke-width="0.8" stroke-dasharray="0.9 1.1"/>
<line x1="222.08" y1="431.90" x2="222.08" y2="529.30" stroke="#e6e6e6" stroke-width="0.8" stroke-dasharray="0.9 1.1"/>
<line x1="226.93" y1="431.90" x2="226.93" y2="529.30" stroke="#e6e6e6" stroke-width="0.8" stroke-dasharray="0.9 1.1"/>
<line x1="259.76" y1="431.90" x2="259.76" y2="529.30" stroke="#e6e6e6" stroke-width="0.8" stroke-dasharray="0.9 1.1"/>
<line x1="276.43" y1="431.90" x2="276.43" y2="529.30" stroke="#e6e6e6" stroke-width="0.8" stroke-dasharray="0.9 1.1"/>
<line x1="288.26" y1="431.90" x2="288.26" y2="529.30" stroke="#e6e6e6" stroke-width="0.8" stroke-dasharray="0.9 1.1"/>
<line x1="297.44" y1="431.90" x2="297.44" y2="529.30" stroke="#e6e6e6" stroke-width="0.8" stroke-dasharray="0.9 1.1"/>
<line x1="304.94" y1="431.90" x2="304.94" y2="529.30" stroke="#e6e6e6" stroke-width="0.8" stroke-dasharray="0.9 1.1"/>
<line x1="311.27" y1="431.90" x2="311.27" y2="529.30" stroke="#e6e6e6" stroke-width="0.8" stroke-dasharray="0.9 1.1"/>
<line x1="316.76" y1="431.90" x2="316.76" y2="529.30" stroke="#e6e6e6" stroke-width="0.8" stroke-dasharray="0.9 1.1"/>
<line x1="321.61" y1="431.90" x2="321.61" y2="529.30" stroke="#e6e6e6" stroke-width="0.8" stroke-dasharray="0.9 1.1"/>
<line x1="354.44" y1="431.90" x2="354.44" y2="529.30" stroke="#e6e6e6" stroke-width="0.8" stroke-dasharray="0.9 1.1"/>
<line x1="371.11" y1="431.90" x2="371.11" y2="529.30" stroke="#e6e6e6" stroke-width="0.8" stroke-dasharray="0.9 1.1"/>
<line x1="382.94" y1="431.90" x2="382.94" y2="529.30" stroke="#e6e6e6" stroke-width="0.8" stroke-dasharray="0.9 1.1"/>
<line x1="392.12" y1="431.90" x2="392.12" y2="529.30" stroke="#e6e6e6" stroke-width="0.8" stroke-dasharray="0.9 1.1"/>
<line x1="399.62" y1="431.90" x2="399.62" y2="529.30" stroke="#e6e6e6" stroke-width="0.8" stroke-dasharray="0.9 1.1"/>
<line x1="405.95" y1="431.90" x2="405.95" y2="529.30" stroke="#e6e6e6" stroke-width="0.8" stroke-dasharray="0.9 1.1"/>
<line x1="411.44" y1="431.90" x2="411.44" y2="529.30" stroke="#e6e6e6" stroke-width="0.8" stroke-dasharray="0.9 1.1"/>
<line x1="416.29" y1="431.90" x2="416.29" y2="529.30" stroke="#e6e6e6" stroke-width="0.8" stroke-dasharray="0.9 1.1"/>
<line x1="449.12" y1="431.90" x2="449.12" y2="529.30" stroke="#e6e6e6" stroke-width="0.8" stroke-dasharray="0.9 1.1"/>
<line x1="465.79" y1="431.90" x2="465.79" y2="529.30" stroke="#e6e6e6" stroke-width="0.8" stroke-dasharray="0.9 1.1"/>
<line x1="477.62" y1="431.90" x2="477.62" y2="529.30" stroke="#e6e6e6" stroke-width="0.8" stroke-dasharray="0.9 1.1"/>
<line x1="486.80" y1="431.90" x2="486.80" y2="529.30" stroke="#e6e6e6" stroke-width="0.8" stroke-dasharray="0.9 1.1"/>
<line x1="494.30" y1="431.90" x2="494.30" y2="529.30" stroke="#e6e6e6" stroke-width="0.8" stroke-dasharray="0.9 1.1"/>
<line x1="500.63" y1="431.90" x2="500.63" y2="529.30" stroke="#e6e6e6" stroke-width="0.8" stroke-dasharray="0.9 1.1"/>
<line x1="506.12" y1="431.90" x2="506.12" y2="529.30" stroke="#e6e6e6" stroke-width="0.8" stroke-dasharray="0.9 1.1"/>
<line x1="510.97" y1="431.90" x2="510.97" y2="529.30" stroke="#e6e6e6" stroke-width="0.8" stroke-dasharray="0.9 1.1"/>
<line x1="136.58" y1="431.90" x2="136.58" y2="529.30" stroke="#dedede" stroke-width="0.90"/>
<line x1="231.26" y1="431.90" x2="231.26" y2="529.30" stroke="#dedede" stroke-width="0.90"/>
<line x1="325.94" y1="431.90" x2="325.94" y2="529.30" stroke="#dedede" stroke-width="0.90"/>
<line x1="420.62" y1="431.90" x2="420.62" y2="529.30" stroke="#dedede" stroke-width="0.90"/>
<line x1="41.90" y1="342.80" x2="515.30" y2="342.80" stroke="#e6e6e6" stroke-width="0.90"/>
<line x1="41.90" y1="370.40" x2="515.30" y2="370.40" stroke="#e6e6e6" stroke-width="0.90"/>
<line x1="41.90" y1="398.00" x2="515.30" y2="398.00" stroke="#e6e6e6" stroke-width="0.90"/>
<line x1="41.90" y1="451.38" x2="515.30" y2="451.38" stroke="#e6e6e6" stroke-width="0.90"/>
<line x1="41.90" y1="470.86" x2="515.30" y2="470.86" stroke="#e6e6e6" stroke-width="0.90"/>
<line x1="41.90" y1="490.34" x2="515.30" y2="490.34" stroke="#e6e6e6" stroke-width="0.90"/>
<line x1="41.90" y1="509.82" x2="515.30" y2="509.82" stroke="#e6e6e6" stroke-width="0.90"/>
<clipPath id="c2"><rect x="41.90" y="315.20" width="473.40" height="110.40"/></clipPath>
<g clip-path="url(#c2)" fill="none" stroke="#000" stroke-linejoin="round">
<linearGradient id="gb" gradientUnits="userSpaceOnUse" x1="416.3" y1="0" x2="508.6" y2="0"><stop offset="0" stop-color="#000" stop-opacity="0"/><stop offset="0.45" stop-color="#000" stop-opacity="0.3"/><stop offset="1" stop-color="#000" stop-opacity="0.9"/></linearGradient>
<path d="M399.62 362.89 L401.58 363.41 L403.54 363.92 L405.50 364.44 L407.46 364.95 L409.42 365.47 L411.38 365.99 L413.34 366.51 L415.30 367.03 L417.26 367.56 L419.22 368.09 L421.18 368.62 L423.14 369.15 L425.11 369.69 L427.07 370.23 L429.03 370.76 L430.99 371.30 L432.95 371.84 L434.91 372.38 L436.87 372.92 L438.83 373.47 L440.79 374.01 L442.75 374.56 L444.71 375.10 L446.67 375.65 L448.63 376.19 L450.60 376.74 L452.56 377.28 L454.52 377.83 L456.48 378.38 L458.44 378.92 L460.40 379.47 L462.36 380.02 L464.32 380.56 L466.28 381.11 L468.24 381.66 L470.20 382.20 L472.16 382.75 L474.12 383.30 L476.08 383.84 L478.05 384.39 L480.01 384.94 L481.97 385.48 L483.93 386.03 L485.89 386.58 L487.85 387.13 L489.81 387.68 L491.77 388.22 L493.73 388.77 L495.69 389.32 L497.65 389.87 L499.61 390.42 L501.57 390.97 L503.54 391.52 L505.50 392.07 L507.46 392.62 L509.42 393.17 L511.38 393.72 L513.34 394.27 L515.30 394.83 L515.30 409.85 L513.34 409.29 L511.38 408.74 L509.42 408.19 L507.46 407.63 L505.50 407.08 L503.54 406.53 L501.57 405.97 L499.61 405.42 L497.65 404.86 L495.69 404.31 L493.73 403.76 L491.77 403.20 L489.81 402.65 L487.85 402.09 L485.89 401.53 L483.93 400.98 L481.97 400.42 L480.01 399.86 L478.05 399.31 L476.08 398.75 L474.12 398.19 L472.16 397.63 L470.20 397.06 L468.24 396.50 L466.28 395.94 L464.32 395.37 L462.36 394.80 L460.40 394.23 L458.44 393.66 L456.48 393.09 L454.52 392.51 L452.56 391.93 L450.60 391.35 L448.63 390.77 L446.67 390.18 L444.71 389.59 L442.75 389.00 L440.79 388.41 L438.83 387.82 L436.87 387.22 L434.91 386.62 L432.95 386.02 L430.99 385.42 L429.03 384.82 L427.07 384.21 L425.11 383.61 L423.14 383.00 L421.18 382.39 L419.22 381.79 L417.26 381.18 L415.30 380.58 L413.34 379.97 L411.38 379.37 L409.42 378.78 L407.46 378.18 L405.50 377.59 L403.54 376.99 L401.58 376.40 L399.62 375.82Z" fill="url(#gb)" stroke="none"/>
<path d="M41.90 320.61 L42.94 320.61 L43.98 320.61 L45.02 320.61 L46.06 320.61 L47.10 320.61 L48.14 320.61 L49.18 320.61 L50.22 320.61 L51.26 320.61 L52.30 320.61 L53.34 320.61 L54.38 320.61 L55.42 320.61 L56.46 320.61 L57.50 320.61 L58.54 320.61 L59.58 320.61 L60.62 320.61 L61.66 320.61 L62.70 320.61 L63.74 320.62 L64.78 320.62 L65.82 320.62 L66.86 320.62 L67.90 320.62 L68.94 320.62 L69.98 320.62 L71.02 320.62 L72.06 320.62 L73.10 320.62 L74.14 320.62 L75.18 320.62 L76.22 320.62 L77.26 320.62 L78.30 320.63 L79.34 320.63 L80.38 320.63 L81.42 320.63 L82.46 320.63 L83.50 320.63 L84.54 320.63 L85.58 320.63 L86.62 320.63 L87.66 320.64 L88.70 320.64 L89.74 320.64 L90.78 320.64 L91.82 320.64 L92.86 320.64 L93.90 320.64 L94.94 320.64 L95.98 320.65 L97.02 320.65 L98.06 320.65 L99.10 320.65 L100.14 320.65 L101.18 320.65 L102.22 320.65 L103.26 320.66 L104.30 320.66 L105.34 320.66 L106.38 320.66 L107.42 320.66 L108.46 320.66 L109.50 320.67 L110.54 320.67 L111.58 320.67 L112.62 320.67 L113.66 320.67 L114.70 320.67 L115.74 320.68 L116.78 320.68 L117.82 320.68 L118.86 320.68 L119.90 320.68 L120.94 320.69 L121.98 320.69 L123.02 320.69 L124.06 320.69 L125.10 320.69 L126.14 320.70 L127.18 320.70 L128.22 320.70 L129.26 320.70 L130.30 320.71 L131.34 320.71 L132.38 320.71 L133.42 320.71 L134.46 320.72 L135.50 320.72 L136.54 320.72 L137.58 320.72 L138.62 320.73 L139.66 320.73 L140.70 320.73 L141.74 320.74 L142.78 320.74 L143.82 320.75 L144.86 320.75 L145.90 320.76 L146.94 320.77 L147.98 320.78 L149.02 320.78 L150.06 320.79 L151.10 320.80 L152.14 320.81 L153.18 320.82 L154.22 320.83 L155.26 320.84 L156.30 320.85 L157.34 320.86 L158.38 320.87 L159.42 320.88 L160.46 320.90 L161.50 320.91 L162.54 320.92 L163.58 320.94 L164.62 320.95 L165.66 320.96 L166.70 320.98 L167.74 320.99 L168.78 321.01 L169.82 321.02 L170.86 321.04 L171.90 321.06 L172.94 321.07 L173.98 321.09 L175.02 321.11 L176.06 321.13 L177.10 321.15 L178.14 321.16 L179.18 321.18 L180.22 321.20 L181.26 321.22 L182.30 321.24 L183.34 321.26 L184.38 321.28 L185.42 321.30 L186.46 321.33 L187.50 321.36 L188.54 321.39 L189.58 321.42 L190.62 321.45 L191.66 321.49 L192.70 321.53 L193.74 321.57 L194.78 321.62 L195.82 321.66 L196.86 321.71 L197.90 321.76 L198.94 321.81 L199.98 321.86 L201.02 321.92 L202.06 321.98 L203.10 322.04 L204.14 322.10 L205.18 322.16 L206.22 322.23 L207.26 322.29 L208.30 322.36 L209.34 322.43 L210.38 322.50 L211.42 322.57 L212.46 322.64 L213.50 322.72 L214.54 322.80 L215.58 322.87 L216.62 322.95 L217.66 323.03 L218.70 323.11 L219.74 323.20 L220.78 323.28 L221.82 323.36 L222.86 323.45 L223.90 323.54 L224.94 323.62 L225.98 323.71 L227.02 323.80 L228.06 323.89 L229.10 323.98 L230.14 324.07 L231.18 324.16 L232.22 324.26 L233.26 324.37 L234.30 324.49 L235.34 324.62 L236.38 324.75 L237.42 324.90 L238.46 325.05 L239.50 325.21 L240.54 325.37 L241.58 325.54 L242.62 325.71 L243.66 325.88 L244.70 326.06 L245.74 326.23 L246.78 326.41 L247.82 326.58 L248.86 326.76 L249.90 326.93 L250.94 327.09 L251.98 327.26 L253.02 327.41 L254.06 327.56 L255.10 327.71 L256.14 327.84 L257.18 327.97 L258.22 328.08 L259.26 328.19 L260.30 328.28 L261.34 328.37 L262.38 328.45 L263.42 328.52 L264.46 328.59 L265.50 328.66 L266.54 328.72 L267.58 328.78 L268.62 328.85 L269.66 328.91 L270.70 328.97 L271.74 329.04 L272.78 329.11 L273.82 329.19 L274.86 329.27 L275.90 329.37 L276.94 329.47 L277.98 329.58 L279.02 329.70 L280.06 329.84 L281.10 329.98 L282.14 330.13 L283.18 330.29 L284.22 330.45 L285.26 330.61 L286.30 330.78 L287.34 330.95 L288.38 331.12 L289.42 331.29 L290.46 331.46 L291.50 331.63 L292.54 331.81 L293.58 332.00 L294.62 332.20 L295.66 332.41 L296.70 332.63 L297.74 332.87 L298.78 333.12 L299.82 333.39 L300.86 333.68 L301.90 333.99 L302.94 334.32 L303.98 334.67 L305.02 335.04 L306.06 335.44 L307.10 335.87 L308.14 336.34 L309.18 336.83 L310.22 337.35 L311.26 337.89 L311.61 338.10 L311.96 338.31 L312.30 338.53 L312.65 338.74 L312.99 338.96 L313.34 339.17 L313.68 339.38 L314.03 339.60 L314.38 339.81 L314.72 340.02 L315.07 340.24 L315.41 340.45 L315.76 340.67 L316.11 340.88 L316.45 341.09 L316.80 341.33 L317.14 341.76 L317.49 342.18 L317.83 342.61 L318.18 343.03 L318.53 343.46 L318.87 343.88 L319.22 344.31 L319.56 344.73 L319.91 345.16 L320.25 345.58 L320.60 346.01 L320.95 346.43 L321.29 346.86 L321.64 347.28 L321.98 347.70 L322.33 348.11 L322.67 348.53 L323.02 348.94 L323.37 349.36 L323.71 349.78 L324.06 350.19 L324.40 350.61 L324.75 351.03 L325.10 351.44 L325.44 351.86 L325.79 352.28 L326.13 352.70 L326.48 353.13 L326.82 353.56 L327.17 353.99 L327.52 354.42 L327.86 354.85 L328.21 355.27 L328.55 355.57 L328.90 355.17 L329.24 354.78 L329.59 354.38 L329.94 353.98 L330.28 353.58 L330.63 353.19 L330.97 352.79 L331.32 352.39 L331.66 352.00 L332.01 351.62 L332.36 351.24 L332.70 350.86 L333.05 350.48 L333.39 350.10 L333.74 349.73 L334.08 349.35 L334.43 348.97 L334.78 348.59 L335.12 348.21 L335.47 347.97 L335.81 347.84 L336.16 347.71 L336.51 347.58 L336.85 347.45 L337.20 347.32 L337.54 347.19 L337.89 347.06 L338.23 346.93 L338.58 346.80 L338.63 346.59 L339.82 346.45 L340.98 346.62 L342.10 346.82 L343.20 347.04 L344.26 347.29 L345.30 347.57 L346.32 347.89 L347.31 348.23 L348.28 348.60 L349.22 348.98 L350.14 350.35 L351.05 352.08 L351.93 353.76 L352.80 355.49 L353.64 357.24 L354.47 359.02 L355.29 360.81 L356.08 362.63 L356.87 362.30 L357.63 360.97 L358.39 359.64 L359.13 358.34 L359.86 357.05 L360.57 355.80 L361.27 354.57 L361.96 353.29 L362.64 352.83 L363.31 352.91 L363.97 353.01 L364.62 353.14 L365.25 353.29 L365.88 353.47 L366.50 353.69 L367.11 353.93 L367.71 354.20 L368.30 354.49 L368.88 355.55 L369.46 357.22 L370.02 358.83 L370.58 360.48 L371.13 362.17 L371.68 363.88 L372.22 365.61 L372.75 367.37 L373.27 367.53 L373.79 366.08 L374.30 364.64 L374.80 363.22 L375.30 361.82 L375.79 360.46 L376.28 359.13 L376.76 357.74 L377.23 356.96 L377.70 356.96 L378.17 356.99 L378.63 357.04 L379.08 357.13 L379.53 357.24 L379.98 357.40 L380.42 357.58 L380.85 357.79 L381.28 358.02 L381.71 358.81 L382.13 360.45 L382.55 362.05 L382.96 363.68 L383.37 365.35 L383.77 367.05 L384.17 368.77 L384.57 370.52 L384.96 371.23 L385.35 369.70 L385.74 368.19 L386.12 366.70 L386.50 365.23 L386.88 363.79 L387.25 362.38 L387.62 360.93 L387.98 359.85 L388.34 359.82 L388.70 359.81 L389.06 359.82 L389.41 359.87 L389.76 359.95 L390.11 360.07 L390.45 360.22 L390.79 360.40 L391.13 360.61 L391.47 361.15 L391.80 362.76 L392.13 364.39 L392.46 366.02 L392.78 367.70 L393.11 369.40 L393.43 371.14 L393.74 372.89 L394.06 374.20 L394.37 372.61 L394.68 371.04 L394.99 369.49 L395.29 367.95 L395.60 366.45 L395.90 364.99 L396.20 363.50 L396.49 362.11 L396.79 362.05 L397.08 362.02 L397.37 362.01 L397.66 362.03 L397.95 362.09 L398.23 362.18 L398.51 362.31 L398.80 362.47 L399.07 362.66 L399.35 362.96 L399.63 364.56 L399.90 366.22 L400.17 367.86 L400.44 369.55 L400.71 371.27 L400.97 373.02 L401.24 374.79 L401.50 376.58 L401.76 375.09 L402.02 373.46 L402.28 371.86 L402.53 370.27 L402.79 368.72 L403.04 367.20 L403.29 365.68 L403.54 364.18 L403.79 363.91 L404.04 363.85 L404.28 363.82 L404.53 363.83 L404.77 363.87 L405.01 363.94 L405.25 364.06 L405.49 364.20 L405.73 364.38 L405.96 364.58 L406.20 366.02 L406.43 367.71 L406.66 369.36 L406.89 371.06 L407.12 372.80 L407.35 374.56 L407.58 376.36 L407.80 378.17 L408.02 377.26 L408.25 375.59 L408.47 373.94 L408.69 372.31 L408.91 370.71 L409.13 369.15 L409.34 367.60 L409.56 366.03 L409.77 365.50 L409.99 365.43 L410.20 365.39 L410.41 365.38 L410.62 365.40 L410.83 365.46 L411.04 365.56 L411.25 365.70 L411.45 365.86 L411.66 366.05 L411.86 367.24 L412.06 368.96 L412.27 370.62 L412.47 372.34 L412.67 374.09 L412.87 375.87 L413.06 377.68 L413.26 379.51 L413.46 379.22 L413.65 377.51 L413.85 375.82 L414.04 374.15 L414.23 372.51 L414.43 370.90 L414.62 369.34 L414.81 367.71 L415.00 366.91 L415.18 366.83 L415.37 366.77 L415.56 366.74 L415.74 366.76 L415.93 366.81 L416.11 366.89 L416.29 367.02 L416.48 367.17 L416.66 367.36 L416.84 368.29 L417.02 370.03 L417.20 371.70 L417.38 373.43 L417.55 375.19 L417.73 376.99 L417.91 378.81 L418.08 380.66 L418.26 381.01 L418.43 379.26 L418.60 377.53 L418.78 375.83 L418.95 374.15 L419.12 372.51 L419.29 370.92 L419.46 369.27 L419.63 368.18 L419.80 368.08 L419.96 368.02 L420.13 367.98 L420.30 367.98 L420.46 368.02 L420.63 368.09 L420.79 368.21 L420.95 368.35 L421.12 368.53 L421.28 369.20 L421.44 370.94 L421.60 372.64 L421.76 374.37 L421.92 376.15 L422.08 377.96 L422.24 379.79 L422.40 381.65 L422.55 382.66 L422.71 380.88 L422.87 379.12 L423.02 377.39 L423.18 375.68 L423.33 374.01 L423.48 372.39 L423.64 370.72 L423.79 369.33 L423.94 369.23 L424.09 369.15 L424.24 369.10 L424.39 369.09 L424.54 369.12 L424.69 369.18 L424.84 369.29 L424.99 369.43 L425.14 369.60 L425.29 370.02 L425.43 371.73 L425.58 373.47 L425.72 375.20 L425.87 376.98 L426.01 378.80 L426.16 380.64 L426.30 382.51 L426.44 384.19 L426.59 382.39 L426.73 380.60 L426.87 378.84 L427.01 377.11 L427.15 375.41 L427.29 373.75 L427.43 372.08 L427.57 370.47 L427.71 370.28 L427.85 370.19 L427.98 370.13 L428.12 370.11 L428.26 370.13 L428.40 370.18 L428.53 370.28 L428.67 370.41 L428.80 370.57 L428.94 370.76 L429.07 372.42 L429.20 374.19 L429.34 375.93 L429.47 377.71 L429.60 379.53 L429.73 381.39 L429.87 383.26 L430.00 385.16 L430.13 383.80 L430.26 381.99 L430.39 380.21 L430.52 378.45 L430.65 376.72 L430.78 375.04 L430.90 373.36 L431.03 371.69 L431.16 371.25 L431.29 371.15 L431.41 371.09 L431.54 371.05 L431.67 371.06 L431.79 371.10 L431.92 371.19 L432.04 371.31 L432.17 371.47 L432.29 371.65 L432.41 373.04 L432.54 374.83 L432.66 376.56 L432.78 378.35 L432.90 380.18 L433.03 382.04 L433.15 383.92 L433.27 385.83 L433.39 385.12 L433.51 383.29 L433.63 381.49 L433.75 379.71 L433.87 377.96 L433.99 376.26 L434.11 374.58 L434.22 372.87 L434.34 372.15 L434.46 372.05 L434.58 371.97 L434.69 371.93 L434.81 371.92 L434.93 371.96 L435.04 372.04 L435.16 372.15 L435.27 372.30 L435.39 372.47 L435.50 373.59 L435.62 375.39 L435.73 377.13 L435.85 378.92 L435.96 380.75 L436.07 382.61 L436.19 384.50 L436.30 386.41 L436.41 386.38 L436.52 384.53 L436.63 382.71 L436.74 380.91 L436.86 379.14 L436.97 377.42 L437.08 375.74 L437.19 373.99 L437.30 372.99 L437.41 372.88 L437.52 372.80 L437.62 372.74 L437.73 372.73 L437.84 372.76 L437.95 372.82 L438.06 372.93 L438.16 373.07 L438.27 373.24 L438.38 374.08 L438.49 375.88 L438.59 377.63 L438.70 379.42 L438.80 381.25 L438.91 383.11 L439.01 385.01 L439.12 386.92 L439.22 387.57 L439.33 385.71 L439.43 383.87 L439.54 382.05 L439.64 380.27 L439.74 378.52 L439.85 376.83 L439.95 375.07 L440.05 373.78 L440.15 373.66 L440.26 373.57 L440.36 373.51 L440.46 373.49 L440.56 373.51 L440.66 373.56 L440.76 373.66 L440.86 373.80 L440.97 373.96 L441.07 374.53 L441.17 376.30 L441.26 378.08 L441.36 379.86 L441.46 381.70 L441.56 383.56 L441.66 385.46 L441.76 387.37 L441.86 388.71 L441.96 386.83 L442.05 384.98 L442.15 383.15 L442.25 381.35 L442.35 379.58 L442.44 377.87 L442.54 376.12 L442.64 374.53 L442.73 374.40 L442.83 374.30 L442.92 374.23 L443.02 374.20 L443.11 374.21 L443.21 374.26 L443.30 374.35 L443.40 374.48 L443.49 374.63 L443.59 374.94 L443.68 376.68 L443.78 378.48 L443.87 380.26 L443.96 382.09 L444.06 383.96 L444.15 385.85 L444.24 387.77 L444.33 389.71 L444.43 387.91 L444.52 386.04 L444.61 384.20 L444.70 382.38 L444.79 380.60 L444.88 378.87 L444.97 377.12 L445.07 375.42 L445.16 375.10 L445.25 374.99 L445.34 374.92 L445.43 374.87 L445.52 374.87 L445.61 374.92 L445.70 375.00 L445.79 375.12 L445.87 375.27 L445.96 375.44 L446.05 377.02 L446.14 378.84 L446.23 380.61 L446.32 382.44 L446.41 384.31 L446.49 386.20 L446.58 388.12 L446.67 390.07 L446.76 388.94 L446.84 387.06 L446.93 385.21 L447.02 383.38 L447.10 381.58 L447.19 379.83 L447.27 378.10 L447.36 376.35 L447.45 375.76 L447.53 375.65 L447.62 375.56 L447.70 375.51 L447.79 375.51 L447.87 375.54 L447.96 375.61 L448.04 375.72 L448.13 375.87 L448.21 376.04 L448.29 377.33 L448.38 379.16 L448.46 380.93 L448.54 382.75 L448.63 384.62 L448.71 386.51 L448.79 388.43 L448.88 390.38 L448.96 389.94 L449.04 388.05 L449.12 386.19 L449.21 384.34 L449.29 382.54 L449.37 380.77 L449.45 379.05 L449.53 377.26 L449.62 376.39 L449.70 376.27 L449.78 376.18 L449.86 376.12 L449.94 376.11 L450.02 376.13 L450.10 376.19 L450.18 376.30 L450.26 376.44 L450.34 376.60 L450.42 377.61 L450.50 379.45 L450.58 381.21 L450.66 383.03 L450.74 384.89 L450.82 386.79 L450.90 388.71 L450.97 390.65 L451.05 390.91 L451.13 389.01 L451.21 387.13 L451.29 385.28 L451.36 383.46 L451.44 381.68 L451.52 379.95 L451.60 378.15 L451.68 376.99 L451.75 376.87 L451.83 376.77 L451.91 376.70 L451.98 376.68 L452.06 376.69 L452.14 376.75 L452.21 376.85 L452.29 376.98 L452.37 377.14 L452.44 377.86 L452.52 379.68 L452.59 381.47 L452.67 383.28 L452.74 385.14 L452.82 387.03 L452.89 388.95 L452.97 390.89 L453.04 391.85 L453.12 389.94 L453.19 388.05 L453.27 386.18 L453.34 384.35 L453.42 382.56 L453.49 380.81 L453.56 379.02 L453.64 377.57 L453.71 377.44 L453.78 377.33 L453.86 377.26 L453.93 377.22 L454.00 377.23 L454.08 377.28 L454.15 377.37 L454.22 377.49 L454.30 377.65 L454.37 378.10 L454.44 379.89 L454.51 381.69 L454.58 383.50 L454.66 385.35 L454.73 387.24 L454.80 389.16 L454.87 391.10 L454.94 392.76 L455.01 390.84 L455.09 388.94 L455.16 387.07 L455.23 385.22 L455.30 383.42 L455.37 381.66 L455.44 379.88 L455.51 378.17 L455.58 377.98 L455.65 377.87 L455.72 377.79 L455.79 377.75 L455.86 377.75 L455.93 377.79 L456.00 377.87 L456.07 377.99 L456.14 378.14 L456.21 378.34 L456.28 380.07 L456.35 381.89 L456.41 383.69 L456.48 385.54 L456.55 387.43 L456.62 389.34 L456.69 391.28 L456.76 393.25 L456.83 391.71 L456.89 389.81 L456.96 387.93 L457.03 386.07 L457.10 384.25 L457.17 382.48 L457.23 380.71 L457.30 378.96 L457.37 378.51 L457.44 378.39 L457.50 378.30 L457.57 378.25 L457.64 378.24 L457.70 378.27 L457.77 378.35 L457.84 378.46 L457.90 378.60 L457.97 378.77 L458.04 380.23 L458.10 382.08 L458.17 383.87 L458.23 385.71 L458.30 387.52 L458.47 392.58 L458.64 390.28 L458.81 385.40 L458.98 380.73 L459.15 378.88 L459.32 378.72 L459.49 378.83 L459.65 379.20 L459.82 383.16 L459.98 388.00 L460.15 393.07 L460.31 390.76 L460.48 385.88 L460.64 381.20 L460.80 379.34 L460.96 379.18 L461.13 379.29 L461.29 379.65 L461.45 383.62 L461.61 388.47 L461.76 393.53 L461.92 391.22 L462.08 386.33 L462.24 381.64 L462.39 379.79 L462.55 379.62 L462.70 379.73 L462.86 380.09 L463.01 384.06 L463.16 388.91 L463.32 393.98 L463.47 391.67 L463.62 386.77 L463.77 382.07 L463.92 380.21 L464.07 380.04 L464.22 380.15 L464.37 380.51 L464.52 384.49 L464.67 389.34 L464.81 394.42 L464.96 392.09 L465.11 387.19 L465.25 382.49 L465.40 380.62 L465.54 380.45 L465.69 380.56 L465.83 380.92 L465.97 384.90 L466.12 389.75 L466.26 394.83 L466.40 392.51 L466.54 387.60 L466.68 382.89 L466.82 381.02 L466.96 380.84 L467.10 380.95 L467.24 381.31 L467.38 385.29 L467.52 390.15 L467.65 395.23 L467.79 392.90 L467.93 387.99 L468.06 383.27 L468.20 381.40 L468.33 381.23 L468.47 381.33 L468.60 381.69 L468.74 385.67 L468.87 390.53 L469.00 395.62 L469.14 393.29 L469.27 388.36 L469.40 383.64 L469.53 381.77 L469.66 381.60 L469.79 381.70 L469.92 382.06 L470.05 386.04 L470.18 390.90 L470.31 395.99 L470.44 393.66 L470.57 388.73 L470.69 384.01 L470.82 382.13 L470.95 381.95 L471.07 382.06 L471.20 382.41 L471.33 386.40 L471.45 391.26 L471.58 396.36 L471.70 394.02 L471.82 389.09 L471.95 384.36 L472.07 382.48 L472.19 382.30 L472.32 382.40 L472.44 382.76 L472.56 386.75 L472.68 391.61 L472.80 396.71 L472.93 394.36 L473.05 389.43 L473.17 384.70 L473.29 382.82 L473.41 382.64 L473.52 382.74 L473.64 383.09 L473.76 387.08 L473.88 391.95 L474.00 397.05 L474.11 394.70 L474.23 389.76 L474.35 385.03 L474.46 383.15 L474.58 382.96 L474.70 383.06 L474.81 383.42 L474.93 387.41 L475.04 392.28 L475.16 397.38 L475.27 395.03 L475.38 390.09 L475.50 385.35 L475.61 383.46 L475.72 383.28 L475.84 383.38 L475.95 383.73 L476.06 387.73 L476.17 392.60 L476.28 397.70 L476.39 395.35 L476.51 390.40 L476.62 385.66 L476.73 383.78 L476.84 383.59 L476.95 383.69 L477.06 384.04 L477.16 388.04 L477.27 392.91 L477.38 398.01 L477.49 395.66 L477.60 390.71 L477.70 385.96 L477.81 384.08 L477.92 383.89 L478.03 383.99 L478.13 384.34 L478.24 388.34 L478.34 393.21 L478.45 398.31 L478.56 395.96 L478.66 391.01 L478.77 386.26 L478.87 384.37 L478.97 384.19 L479.08 384.28 L479.18 384.64 L479.29 388.63 L479.39 393.51 L479.49 398.61 L479.59 396.26 L479.70 391.30 L479.80 386.55 L479.90 384.66 L480.00 384.48 L480.10 384.57 L480.21 384.92 L480.31 388.92 L480.41 393.79 L480.51 398.90 L480.61 396.54 L480.71 391.59 L480.81 386.83 L480.91 384.94 L481.01 384.76 L481.11 384.85 L481.20 385.20 L481.30 389.20 L481.40 394.08 L481.50 399.18 L481.60 396.82 L481.69 391.86 L481.79 387.11 L481.89 385.22 L481.99 385.03 L482.08 385.12 L482.18 385.47 L482.28 389.47 L482.37 394.35 L482.47 399.46 L482.56 397.10 L482.66 392.13 L482.75 387.38 L482.85 385.48 L482.94 385.30 L483.04 385.39 L483.13 385.74 L483.23 389.74 L483.32 394.62 L483.41 399.72 L483.51 397.36 L483.60 392.40 L483.69 387.64 L483.79 385.74 L483.88 385.56 L483.97 385.65 L484.06 386.00 L484.15 390.00 L484.25 394.88 L484.34 399.99 L484.43 397.62 L484.52 392.66 L484.61 387.90 L484.70 386.00 L484.79 385.81 L484.88 385.90 L484.97 386.25 L485.06 390.25 L485.15 395.13 L485.24 400.24 L485.33 397.88 L485.42 392.91 L485.51 388.15 L485.60 386.25 L485.69 386.06 L485.78 386.15 L485.86 386.50 L485.95 390.50 L486.04 395.38 L486.13 400.49 L486.21 398.13 L486.30 393.16 L486.39 388.39 L486.48 386.50 L486.56 386.31 L486.65 386.40 L486.74 386.75 L486.82 390.75 L486.91 395.63 L486.99 400.74 L487.08 398.37 L487.16 393.40 L487.25 388.63 L487.33 386.74 L487.42 386.55 L487.50 386.64 L487.59 386.98 L487.67 390.99 L487.76 395.87 L487.84 400.98 L487.93 398.61 L488.01 393.64 L488.09 388.87 L488.18 386.97 L488.26 386.78 L488.34 386.87 L488.43 387.22 L488.51 391.22 L488.59 396.10 L488.67 401.21 L488.76 398.84 L488.84 393.87 L488.92 389.10 L489.00 387.20 L489.08 387.01 L489.16 387.10 L489.24 387.45 L489.33 391.45 L489.41 396.33 L489.49 401.44 L489.57 399.07 L489.65 394.10 L489.73 389.33 L489.81 387.43 L489.89 387.24 L489.97 387.33 L490.05 387.67 L490.13 391.67 L490.21 396.56 L490.29 401.67 L490.37 399.30 L490.44 394.32 L490.52 389.55 L490.60 387.65 L490.68 387.46 L490.76 387.55 L490.84 387.89 L490.91 391.90 L490.99 396.78 L491.07 401.89 L491.15 399.52 L491.22 394.54 L491.30 389.77 L491.38 387.87 L491.46 387.67 L491.53 387.76 L491.61 388.11 L491.69 392.11 L491.76 397.00 L491.84 402.11 L491.92 399.74 L491.99 394.76 L492.07 389.98 L492.14 388.08 L492.22 387.89 L492.29 387.98 L492.37 388.32 L492.44 392.32 L492.52 397.21 L492.59 402.32 L492.67 399.95 L492.74 394.97 L492.82 390.19 L492.89 388.29 L492.97 388.10 L493.04 388.18 L493.11 388.53 L493.19 392.53 L493.26 397.42 L493.34 402.53 L493.41 400.16 L493.48 395.18 L493.55 390.40 L493.63 388.50 L493.70 388.30 L493.77 388.39 L493.85 388.73 L493.92 392.74 L493.99 397.62 L494.06 402.74 L494.14 400.36 L494.21 395.38 L494.28 390.60 L494.35 388.70 L494.42 388.50 L494.49 388.59 L494.57 388.94 L494.64 392.94 L494.71 397.83 L494.78 402.94 L494.85 400.56 L494.92 395.58 L494.99 390.80 L495.06 388.90 L495.13 388.70 L495.20 388.79 L495.27 389.13 L495.34 393.14 L495.41 398.02 L495.48 403.14 L495.55 400.76 L495.62 395.78 L495.69 391.00 L495.76 389.09 L495.83 388.90 L495.90 388.98 L495.97 389.33 L496.04 393.33 L496.10 398.22 L496.17 403.34 L496.24 400.96 L496.31 395.97 L496.38 391.19 L496.45 389.29 L496.51 389.09 L496.58 389.18 L496.65 389.52 L496.72 393.52 L496.79 398.41 L496.85 403.53 L496.92 401.15 L496.99 396.16 L497.06 391.38 L497.12 389.47 L497.19 389.28 L497.26 389.36 L497.32 389.71 L497.39 393.71 L497.46 398.60 L497.52 403.72 L497.59 401.34 L497.65 396.35 L497.72 391.57 L497.79 389.66 L497.85 389.46 L497.92 389.55 L497.98 389.89 L498.05 393.90 L498.12 398.79 L498.18 403.90 L498.25 401.52 L498.31 396.53 L498.38 391.75 L498.44 389.84 L498.51 389.65 L498.57 389.73 L498.64 390.08 L498.70 394.08 L498.76 398.97 L498.83 404.09 L498.89 401.70 L498.96 396.71 L499.02 391.93 L499.08 390.02 L499.15 389.83 L499.21 389.91 L499.28 390.25 L499.34 394.26 L499.40 399.15 L499.47 404.27 L499.53 401.88 L499.59 396.89 L499.66 392.11 L499.72 390.20 L499.78 390.00 L499.84 390.09 L499.91 390.43 L499.97 394.44 L500.03 399.33 L500.09 404.44 L500.16 402.06 L500.22 397.07 L500.28 392.28 L500.34 390.38 L500.40 390.18 L500.47 390.26 L500.53 390.61 L500.59 394.61 L500.65 399.50 L500.71 404.62 L500.77 402.23 L500.84 397.24 L500.90 392.46 L500.96 390.55 L501.02 390.35 L501.08 390.44 L501.14 390.78 L501.20 394.78 L501.26 399.67 L501.32 404.79 L501.38 402.40 L501.44 397.41 L501.50 392.63 L501.56 390.72 L501.62 390.52 L501.68 390.61 L501.74 390.95 L501.80 394.95 L501.86 399.84 L501.92 404.96 L501.98 402.57 L502.04 397.58 L502.10 392.79 L502.16 390.89 L502.22 390.69 L502.28 390.77 L502.34 391.11 L502.40 395.12 L502.46 400.01 L502.51 405.13 L502.57 402.74 L502.63 397.75 L502.69 392.96 L502.75 391.05 L502.81 390.85 L502.87 390.94 L502.92 391.28 L502.98 395.29 L503.04 400.17 L503.10 405.29 L503.16 402.90 L503.21 397.91 L503.27 393.12 L503.33 391.21 L503.39 391.02 L503.44 391.10 L503.50 391.44 L503.56 395.45 L503.62 400.34 L503.67 405.45 L503.73 403.07 L503.79 398.07 L503.84 393.28 L503.90 391.37 L503.96 391.18 L504.01 391.26 L504.07 391.60 L504.13 395.61 L504.18 400.50 L504.24 405.61 L504.30 403.23 L504.35 398.23 L504.41 393.44 L504.47 391.53 L504.52 391.33 L504.58 391.42 L504.63 391.76 L504.69 395.77 L504.74 400.65 L504.80 405.77 L504.86 403.38 L504.91 398.39 L504.97 393.60 L505.02 391.69 L505.08 391.49 L505.13 391.57 L505.19 391.91 L505.24 395.92 L505.30 400.81 L505.35 405.93 L505.41 403.54 L505.46 398.54 L505.52 393.75 L505.57 391.84 L505.63 391.64 L505.68 391.73 L505.73 392.07 L505.79 396.07 L505.84 400.96 L505.90 406.08 L505.95 403.69 L506.01 398.70 L506.06 393.90 L506.11 392.00 L506.17 391.80 L506.22 391.88 L506.27 392.22 L506.33 396.23 L506.38 401.12 L506.44 406.23 L506.49 403.84 L506.54 398.85 L506.59 394.05 L506.65 392.15 L506.70 391.95 L506.75 392.03 L506.81 392.37 L506.86 396.38 L506.91 401.27 L506.97 406.38 L507.02 403.99 L507.07 399.00 L507.12 394.20 L507.18 392.29 L507.23 392.09 L507.28 392.18 L507.33 392.52 L507.39 396.52 L507.44 401.41 L507.49 406.53 L507.54 404.14 L507.59 399.14 L507.65 394.35 L507.70 392.44 L507.75 392.24 L507.80 392.32 L507.85 392.66 L507.90 396.67 L507.96 401.56 L508.01 406.68 L508.06 404.28 L508.11 399.29 L508.16 394.49 L508.21 392.58 L508.26 392.38 L508.31 392.47 L508.37 392.81 L508.42 396.81 L508.47 401.70 L508.52 406.82 L508.57 404.43 L508.62 399.43 L508.67 394.64 L508.72 392.73 L508.77 392.53 L508.82 392.61 L508.87 392.95 L508.92 396.96 L508.97 401.85 L509.02 406.96 L509.07 404.57 L509.12 399.57 L509.17 394.78 L509.22 392.87 L509.27 392.67 L509.32 392.75 L509.37 393.09 L509.42 397.10 L509.47 401.99 L509.52 407.11 L509.57 404.71 L509.62 399.71 L509.67 394.92 L509.72 393.01 L509.77 392.81 L509.82 392.89 L509.87 393.23 L509.92 397.24 L509.97 402.13 L510.01 407.24 L510.06 404.85 L510.11 399.85 L510.16 395.06 L510.21 393.15 L510.26 392.94 L510.31 393.03 L510.36 393.36 L510.40 397.37 L510.45 402.26 L510.50 407.38 L510.55 404.99 L510.60 399.99 L510.65 395.19 L510.69 393.28 L510.74 393.08 L510.79 393.16 L510.84 393.50 L510.89 397.51 L510.93 402.40 L510.98 407.52 L511.03 405.12 L511.08 400.12 L511.13 395.33 L511.17 393.42 L511.22 393.21 L511.27 393.30 L511.32 393.63 L511.36 397.64 L511.41 402.53 L511.46 407.65 L511.50 405.26 L511.55 400.26 L511.60 395.46 L511.65 393.55 L511.69 393.35 L511.74 393.43 L511.79 393.77 L511.83 397.78 L511.88 402.67 L511.93 407.79 L511.97 405.39 L512.02 400.39 L512.07 395.59 L512.11 393.68 L512.16 393.48 L512.21 393.56 L512.25 393.90 L512.30 397.91 L512.35 402.80 L512.39 407.92 L512.44 405.52 L512.48 400.52 L512.53 395.72 L512.58 393.81 L512.62 393.61 L512.67 393.69 L512.71 394.03 L512.76 398.04 L512.81 402.93 L512.85 408.05 L512.90 405.65 L512.94 400.65 L512.99 395.85 L513.03 393.94 L513.08 393.74 L513.13 393.82 L513.17 394.16 L513.22 398.17 L513.26 403.06 L513.31 408.17 L513.35 405.78 L513.40 400.77 L513.44 395.98 L513.49 394.07 L513.53 393.86 L513.58 393.94 L513.62 394.28 L513.67 398.29 L513.71 403.18 L513.76 408.30 L513.80 405.90 L513.85 400.90 L513.89 396.10 L513.93 394.19 L513.98 393.99 L514.02 394.07 L514.07 394.41 L514.11 398.42 L514.16 403.31 L514.20 408.43 L514.24 406.03 L514.29 401.03 L514.33 396.23 L514.38 394.32 L514.42 394.11 L514.47 394.19 L514.51 394.53 L514.55 398.54 L514.60 403.43 L514.64 408.55 L514.68 406.15 L514.73 401.15 L514.77 396.35 L514.82 394.44 L514.86 394.24 L514.90 394.32 L514.95 394.65 L514.99 398.67 L515.03 403.56 L515.08 408.67 L515.12 406.27 L515.16 401.27 L515.21 396.47 L515.25 394.56 L515.29 394.36" stroke-width="1.1" stroke-dasharray="1 0.9"/>
<path d="M41.90 320.61 L42.22 320.61 L42.53 320.61 L42.85 320.61 L43.16 320.61 L43.48 320.61 L43.79 320.61 L44.11 320.61 L44.43 320.61 L44.74 320.61 L45.06 320.61 L45.37 320.61 L45.69 320.61 L46.01 320.61 L46.32 320.61 L46.64 320.61 L46.95 320.61 L47.27 320.61 L47.58 320.61 L47.90 320.61 L48.22 320.61 L48.53 320.61 L48.85 320.61 L49.16 320.61 L49.48 320.61 L49.80 320.61 L50.11 320.61 L50.43 320.61 L50.74 320.61 L51.06 320.61 L51.37 320.61 L51.69 320.61 L52.01 320.61 L52.32 320.61 L52.64 320.61 L52.95 320.61 L53.27 320.61 L53.58 320.61 L53.90 320.61 L54.22 320.61 L54.53 320.61 L54.85 320.61 L55.16 320.61 L55.48 320.61 L55.80 320.61 L56.11 320.61 L56.43 320.61 L56.74 320.61 L57.06 320.61 L57.37 320.61 L57.69 320.61 L58.01 320.61 L58.32 320.61 L58.64 320.61 L58.95 320.61 L59.27 320.61 L59.59 320.61 L59.90 320.61 L60.22 320.61 L60.53 320.61 L60.85 320.61 L61.16 320.61 L61.48 320.61 L61.80 320.61 L62.11 320.61 L62.43 320.61 L62.74 320.61 L63.06 320.62 L63.38 320.62 L63.69 320.62 L64.01 320.62 L64.32 320.62 L64.64 320.62 L64.95 320.62 L65.27 320.62 L65.59 320.62 L65.90 320.62 L66.22 320.62 L66.53 320.62 L66.85 320.62 L67.16 320.62 L67.48 320.62 L67.80 320.62 L68.11 320.62 L68.43 320.62 L68.74 320.62 L69.06 320.62 L69.38 320.62 L69.69 320.62 L70.01 320.62 L70.32 320.62 L70.64 320.62 L70.95 320.62 L71.27 320.62 L71.59 320.62 L71.90 320.62 L72.22 320.62 L72.53 320.62 L72.85 320.62 L73.17 320.62 L73.48 320.62 L73.80 320.62 L74.11 320.62 L74.43 320.62 L74.74 320.62 L75.06 320.62 L75.38 320.62 L75.69 320.62 L76.01 320.62 L76.32 320.62 L76.64 320.62 L76.95 320.62 L77.27 320.63 L77.59 320.63 L77.90 320.63 L78.22 320.63 L78.53 320.63 L78.85 320.63 L79.17 320.63 L79.48 320.63 L79.80 320.63 L80.11 320.63 L80.43 320.63 L80.74 320.63 L81.06 320.63 L81.38 320.63 L81.69 320.63 L82.01 320.63 L82.32 320.63 L82.64 320.63 L82.96 320.63 L83.27 320.63 L83.59 320.63 L83.90 320.63 L84.22 320.63 L84.53 320.63 L84.85 320.63 L85.17 320.63 L85.48 320.63 L85.80 320.63 L86.11 320.63 L86.43 320.63 L86.75 320.63 L87.06 320.63 L87.38 320.64 L87.69 320.64 L88.01 320.64 L88.32 320.64 L88.64 320.64 L88.96 320.64 L89.27 320.64 L89.59 320.64 L89.90 320.64 L90.22 320.64 L90.53 320.64 L90.85 320.64 L91.17 320.64 L91.48 320.64 L91.80 320.64 L92.11 320.64 L92.43 320.64 L92.75 320.64 L93.06 320.64 L93.38 320.64 L93.69 320.64 L94.01 320.64 L94.32 320.64 L94.64 320.64 L94.96 320.64 L95.27 320.64 L95.59 320.65 L95.90 320.65 L96.22 320.65 L96.54 320.65 L96.85 320.65 L97.17 320.65 L97.48 320.65 L97.80 320.65 L98.11 320.65 L98.43 320.65 L98.75 320.65 L99.06 320.65 L99.38 320.65 L99.69 320.65 L100.01 320.65 L100.32 320.65 L100.64 320.65 L100.96 320.65 L101.27 320.65 L101.59 320.65 L101.90 320.65 L102.22 320.65 L102.54 320.65 L102.85 320.66 L103.17 320.66 L103.48 320.66 L103.80 320.66 L104.11 320.66 L104.43 320.66 L104.75 320.66 L105.06 320.66 L105.38 320.66 L105.69 320.66 L106.01 320.66 L106.33 320.66 L106.64 320.66 L106.96 320.66 L107.27 320.66 L107.59 320.66 L107.90 320.66 L108.22 320.66 L108.54 320.66 L108.85 320.66 L109.17 320.67 L109.48 320.67 L109.80 320.67 L110.12 320.67 L110.43 320.67 L110.75 320.67 L111.06 320.67 L111.38 320.67 L111.69 320.67 L112.01 320.67 L112.33 320.67 L112.64 320.67 L112.96 320.67 L113.27 320.67 L113.59 320.67 L113.90 320.67 L114.22 320.67 L114.54 320.67 L114.85 320.68 L115.17 320.68 L115.48 320.68 L115.80 320.68 L116.12 320.68 L116.43 320.68 L116.75 320.68 L117.06 320.68 L117.38 320.68 L117.69 320.68 L118.01 320.68 L118.33 320.68 L118.64 320.68 L118.96 320.68 L119.27 320.68 L119.59 320.68 L119.91 320.68 L120.22 320.69 L120.54 320.69 L120.85 320.69 L121.17 320.69 L121.48 320.69 L121.80 320.69 L122.12 320.69 L122.43 320.69 L122.75 320.69 L123.06 320.69 L123.38 320.69 L123.69 320.69 L124.01 320.69 L124.33 320.69 L124.64 320.69 L124.96 320.69 L125.27 320.70 L125.59 320.70 L125.91 320.70 L126.22 320.70 L126.54 320.70 L126.85 320.70 L127.17 320.70 L127.48 320.70 L127.80 320.70 L128.12 320.70 L128.43 320.70 L128.75 320.70 L129.06 320.70 L129.38 320.70 L129.70 320.70 L130.01 320.71 L130.33 320.71 L130.64 320.71 L130.96 320.71 L131.27 320.71 L131.59 320.71 L131.91 320.71 L132.22 320.71 L132.54 320.71 L132.85 320.71 L133.17 320.71 L133.49 320.71 L133.80 320.71 L134.12 320.71 L134.43 320.72 L134.75 320.72 L135.06 320.72 L135.38 320.72 L135.70 320.72 L136.01 320.72 L136.33 320.72 L136.64 320.72 L136.96 320.72 L137.27 320.72 L137.59 320.72 L137.91 320.72 L138.22 320.72 L138.54 320.73 L138.85 320.73 L139.17 320.73 L139.49 320.73 L139.80 320.73 L140.12 320.73 L140.43 320.73 L140.75 320.73 L141.06 320.73 L141.38 320.74 L141.70 320.74 L142.01 320.74 L142.33 320.74 L142.64 320.74 L142.96 320.74 L143.28 320.75 L143.59 320.75 L143.91 320.75 L144.22 320.75 L144.54 320.75 L144.85 320.75 L145.17 320.76 L145.49 320.76 L145.80 320.76 L146.12 320.76 L146.43 320.76 L146.75 320.77 L147.06 320.77 L147.38 320.77 L147.70 320.77 L148.01 320.78 L148.33 320.78 L148.64 320.78 L148.96 320.78 L149.28 320.78 L149.59 320.79 L149.91 320.79 L150.22 320.79 L150.54 320.79 L150.85 320.80 L151.17 320.80 L151.49 320.80 L151.80 320.81 L152.12 320.81 L152.43 320.81 L152.75 320.81 L153.07 320.82 L153.38 320.82 L153.70 320.82 L154.01 320.83 L154.33 320.83 L154.64 320.83 L154.96 320.83 L155.28 320.84 L155.59 320.84 L155.91 320.84 L156.22 320.85 L156.54 320.85 L156.86 320.85 L157.17 320.86 L157.49 320.86 L157.80 320.86 L158.12 320.87 L158.43 320.87 L158.75 320.88 L159.07 320.88 L159.38 320.88 L159.70 320.89 L160.01 320.89 L160.33 320.89 L160.64 320.90 L160.96 320.90 L161.28 320.91 L161.59 320.91 L161.91 320.91 L162.22 320.92 L162.54 320.92 L162.86 320.93 L163.17 320.93 L163.49 320.93 L163.80 320.94 L164.12 320.94 L164.43 320.95 L164.75 320.95 L165.07 320.95 L165.38 320.96 L165.70 320.96 L166.01 320.97 L166.33 320.97 L166.65 320.98 L166.96 320.98 L167.28 320.99 L167.59 320.99 L167.91 321.00 L168.22 321.00 L168.54 321.00 L168.86 321.01 L169.17 321.01 L169.49 321.02 L169.80 321.02 L170.12 321.03 L170.43 321.03 L170.75 321.04 L171.07 321.04 L171.38 321.05 L171.70 321.05 L172.01 321.06 L172.33 321.06 L172.65 321.07 L172.96 321.07 L173.28 321.08 L173.59 321.08 L173.91 321.09 L174.22 321.09 L174.54 321.10 L174.86 321.11 L175.17 321.11 L175.49 321.12 L175.80 321.12 L176.12 321.13 L176.44 321.13 L176.75 321.14 L177.07 321.14 L177.38 321.15 L177.70 321.15 L178.01 321.16 L178.33 321.17 L178.65 321.17 L178.96 321.18 L179.28 321.18 L179.59 321.19 L179.91 321.20 L180.23 321.20 L180.54 321.21 L180.86 321.21 L181.17 321.22 L181.49 321.22 L181.80 321.23 L182.12 321.24 L182.44 321.24 L182.75 321.25 L183.07 321.26 L183.38 321.26 L183.70 321.27 L184.01 321.27 L184.33 321.28 L184.65 321.29 L184.96 321.29 L185.28 321.30 L185.59 321.31 L185.91 321.32 L186.23 321.32 L186.54 321.33 L186.86 321.34 L187.17 321.35 L187.49 321.36 L187.80 321.37 L188.12 321.38 L188.44 321.39 L188.75 321.40 L189.07 321.41 L189.38 321.42 L189.70 321.43 L190.02 321.44 L190.33 321.45 L190.65 321.46 L190.96 321.47 L191.28 321.48 L191.59 321.49 L191.91 321.51 L192.23 321.52 L192.54 321.53 L192.86 321.54 L193.17 321.56 L193.49 321.57 L193.80 321.58 L194.12 321.60 L194.44 321.61 L194.75 321.63 L195.07 321.64 L195.38 321.65 L195.70 321.67 L196.02 321.68 L196.33 321.70 L196.65 321.71 L196.96 321.73 L197.28 321.74 L197.59 321.76 L197.91 321.78 L198.23 321.79 L198.54 321.81 L198.86 321.83 L199.17 321.84 L199.49 321.86 L199.81 321.88 L200.12 321.89 L200.44 321.91 L200.75 321.93 L201.07 321.95 L201.38 321.97 L201.70 321.98 L202.02 322.00 L202.33 322.02 L202.65 322.04 L202.96 322.06 L203.28 322.08 L203.59 322.10 L203.91 322.12 L204.23 322.14 L204.54 322.16 L204.86 322.18 L205.17 322.20 L205.49 322.22 L205.81 322.24 L206.12 322.26 L206.44 322.28 L206.75 322.30 L207.07 322.32 L207.38 322.34 L207.70 322.36 L208.02 322.39 L208.33 322.41 L208.65 322.43 L208.96 322.45 L209.28 322.47 L209.60 322.50 L209.91 322.52 L210.23 322.54 L210.54 322.56 L210.86 322.59 L211.17 322.61 L211.49 322.63 L211.81 322.66 L212.12 322.68 L212.44 322.70 L212.75 322.73 L213.07 322.75 L213.39 322.77 L213.70 322.80 L214.02 322.82 L214.33 322.85 L214.65 322.87 L214.96 322.90 L215.28 322.92 L215.60 322.95 L215.91 322.97 L216.23 323.00 L216.54 323.02 L216.86 323.05 L217.17 323.07 L217.49 323.10 L217.81 323.12 L218.12 323.15 L218.44 323.18 L218.75 323.20 L219.07 323.23 L219.39 323.25 L219.70 323.28 L220.02 323.31 L220.33 323.33 L220.65 323.36 L220.96 323.39 L221.28 323.41 L221.60 323.44 L221.91 323.47 L222.23 323.50 L222.54 323.52 L222.86 323.55 L223.18 323.58 L223.49 323.61 L223.81 323.63 L224.12 323.66 L224.44 323.69 L224.75 323.72 L225.07 323.74 L225.39 323.77 L225.70 323.80 L226.02 323.83 L226.33 323.86 L226.65 323.89 L226.96 323.91 L227.28 323.94 L227.60 323.97 L227.91 324.00 L228.23 324.03 L228.54 324.06 L228.86 324.09 L229.18 324.12 L229.49 324.14 L229.81 324.17 L230.12 324.20 L230.44 324.23 L230.75 324.26 L231.07 324.29 L231.39 324.32 L231.70 324.35 L232.02 324.38 L232.33 324.41 L232.65 324.44 L232.97 324.48 L233.28 324.51 L233.60 324.54 L233.91 324.58 L234.23 324.61 L234.54 324.65 L234.86 324.69 L235.18 324.72 L235.49 324.76 L235.81 324.80 L236.12 324.84 L236.44 324.88 L236.76 324.92 L237.07 324.96 L237.39 325.00 L237.70 325.04 L238.02 325.09 L238.33 325.13 L238.65 325.17 L238.97 325.21 L239.28 325.26 L239.60 325.30 L239.91 325.35 L240.23 325.39 L240.54 325.44 L240.86 325.49 L241.18 325.53 L241.49 325.58 L241.81 325.63 L242.12 325.67 L242.44 325.72 L242.76 325.77 L243.07 325.82 L243.39 325.87 L243.70 325.92 L244.02 325.97 L244.33 326.02 L244.65 326.07 L244.97 326.12 L245.28 326.17 L245.60 326.22 L245.91 326.27 L246.23 326.32 L246.55 326.38 L246.86 326.43 L247.18 326.48 L247.49 326.53 L247.81 326.59 L248.12 326.64 L248.44 326.69 L248.76 326.74 L249.07 326.80 L249.39 326.85 L249.70 326.90 L250.02 326.96 L250.33 327.01 L250.65 327.07 L250.97 327.12 L251.28 327.17 L251.60 327.23 L251.91 327.28 L252.23 327.33 L252.55 327.39 L252.86 327.44 L253.18 327.50 L253.49 327.55 L253.81 327.60 L254.12 327.66 L254.44 327.71 L254.76 327.77 L255.07 327.82 L255.39 327.87 L255.70 327.93 L256.02 327.98 L256.34 328.03 L256.65 328.09 L256.97 328.14 L257.28 328.19 L257.60 328.25 L257.91 328.30 L258.23 328.35 L258.55 328.40 L258.86 328.45 L259.18 328.51 L259.49 328.56 L259.81 328.61 L260.13 328.66 L260.44 328.71 L260.76 328.76 L261.07 328.81 L261.39 328.87 L261.70 328.92 L262.02 328.97 L262.34 329.02 L262.65 329.07 L262.97 329.12 L263.28 329.17 L263.60 329.22 L263.91 329.27 L264.23 329.32 L264.55 329.38 L264.86 329.43 L265.18 329.48 L265.49 329.53 L265.81 329.58 L266.13 329.63 L266.44 329.68 L266.76 329.73 L267.07 329.78 L267.39 329.83 L267.70 329.88 L268.02 329.93 L268.34 329.99 L268.65 330.04 L268.97 330.09 L269.28 330.14 L269.60 330.19 L269.92 330.24 L270.23 330.29 L270.55 330.34 L270.86 330.40 L271.18 330.45 L271.49 330.50 L271.81 330.55 L272.13 330.60 L272.44 330.65 L272.76 330.71 L273.07 330.76 L273.39 330.81 L273.70 330.86 L274.02 330.91 L274.34 330.97 L274.65 331.02 L274.97 331.07 L275.28 331.12 L275.60 331.18 L275.92 331.23 L276.23 331.28 L276.55 331.34 L276.86 331.39 L277.18 331.44 L277.49 331.50 L277.81 331.55 L278.13 331.60 L278.44 331.66 L278.76 331.71 L279.07 331.77 L279.39 331.82 L279.71 331.87 L280.02 331.93 L280.34 331.98 L280.65 332.04 L280.97 332.10 L281.28 332.15 L281.60 332.21 L281.92 332.26 L282.23 332.32 L282.55 332.37 L282.86 332.43 L283.18 332.49 L283.50 332.54 L283.81 332.60 L284.13 332.66 L284.44 332.72 L284.76 332.77 L285.07 332.83 L285.39 332.89 L285.71 332.95 L286.02 333.01 L286.34 333.07 L286.65 333.13 L286.97 333.19 L287.28 333.25 L287.60 333.31 L287.92 333.37 L288.23 333.43 L288.55 333.49 L288.86 333.55 L289.18 333.61 L289.50 333.67 L289.81 333.73 L290.13 333.80 L290.44 333.86 L290.76 333.92 L291.07 333.98 L291.39 334.05 L291.71 334.11 L292.02 334.18 L292.34 334.24 L292.65 334.30 L292.97 334.37 L293.29 334.44 L293.60 334.50 L293.92 334.57 L294.23 334.63 L294.55 334.70 L294.86 334.77 L295.18 334.83 L295.50 334.90 L295.81 334.97 L296.13 335.04 L296.44 335.11 L296.76 335.18 L297.07 335.25 L297.39 335.32 L297.71 335.39 L298.02 335.46 L298.34 335.53 L298.65 335.60 L298.97 335.68 L299.29 335.75 L299.60 335.83 L299.92 335.91 L300.23 335.98 L300.55 336.06 L300.86 336.14 L301.18 336.22 L301.50 336.31 L301.81 336.39 L302.13 336.47 L302.44 336.55 L302.76 336.64 L303.08 336.72 L303.39 336.81 L303.71 336.90 L304.02 336.98 L304.34 337.07 L304.65 337.16 L304.97 337.25 L305.29 337.34 L305.60 337.43 L305.92 337.52 L306.23 337.61 L306.55 337.71 L306.87 337.80 L307.18 337.89 L307.50 337.98 L307.81 338.08 L308.13 338.17 L308.44 338.27 L308.76 338.36 L309.08 338.46 L309.39 338.55 L309.71 338.65 L310.02 338.74 L310.34 338.84 L310.65 338.94 L310.97 339.03 L311.29 339.13 L311.60 339.23 L311.92 339.33 L312.23 339.42 L312.55 339.52 L312.87 339.62 L313.18 339.72 L313.50 339.81 L313.81 339.91 L314.13 340.01 L314.44 340.11 L314.76 340.21 L315.08 340.30 L315.39 340.40 L315.71 340.50 L316.02 340.60 L316.34 340.69 L316.66 340.79 L316.97 340.89 L317.29 340.98 L317.60 341.08 L317.92 341.18 L318.23 341.27 L318.55 341.37 L318.87 341.47 L319.18 341.56 L319.50 341.66 L319.81 341.75 L320.13 341.85 L320.44 341.94 L320.76 342.03 L321.08 342.13 L321.39 342.22 L321.71 342.31 L322.02 342.40 L322.34 342.49 L322.66 342.58 L322.97 342.67 L323.29 342.76 L323.60 342.85 L323.92 342.94 L324.23 343.03 L324.55 343.12 L324.87 343.20 L325.18 343.29 L325.50 343.37 L325.81 343.46 L326.13 343.54 L326.45 343.62 L326.76 343.71 L327.08 343.79 L327.39 343.87 L327.71 343.95 L328.02 344.03 L328.34 344.11 L328.66 344.19 L328.97 344.27 L329.29 344.35 L329.60 344.43 L329.92 344.51 L330.24 344.58 L330.55 344.66 L330.87 344.74 L331.18 344.82 L331.50 344.89 L331.81 344.97 L332.13 345.05 L332.45 345.12 L332.76 345.20 L333.08 345.28 L333.39 345.35 L333.71 345.43 L334.02 345.50 L334.34 345.58 L334.66 345.66 L334.97 345.73 L335.29 345.81 L335.60 345.88 L335.92 345.96 L336.24 346.03 L336.55 346.11 L336.87 346.19 L337.18 346.26 L337.50 346.34 L337.81 346.41 L338.13 346.49 L338.45 346.57 L338.76 346.64 L339.08 346.72 L339.39 346.80 L339.71 346.87 L340.03 346.95 L340.34 347.03 L340.66 347.11 L340.97 347.18 L341.29 347.26 L341.60 347.34 L341.92 347.42 L342.24 347.50 L342.55 347.58 L342.87 347.66 L343.18 347.74 L343.50 347.82 L343.81 347.90 L344.13 347.99 L344.45 348.07 L344.76 348.15 L345.08 348.24 L345.39 348.32 L345.71 348.40 L346.03 348.49 L346.34 348.57 L346.66 348.66 L346.97 348.75 L347.29 348.83 L347.60 348.92 L347.92 349.00 L348.24 349.09 L348.55 349.18 L348.87 349.27 L349.18 349.36 L349.50 349.44 L349.82 349.53 L350.13 349.62 L350.45 349.71 L350.76 349.80 L351.08 349.89 L351.39 349.98 L351.71 350.07 L352.03 350.16 L352.34 350.25 L352.66 350.34 L352.97 350.43 L353.29 350.52 L353.61 350.61 L353.92 350.71 L354.24 350.80 L354.55 350.89 L354.87 350.98 L355.18 351.07 L355.50 351.16 L355.82 351.26 L356.13 351.35 L356.45 351.44 L356.76 351.53 L357.08 351.63 L357.39 351.72 L357.71 351.81 L358.03 351.91 L358.34 352.00 L358.66 352.09 L358.97 352.18 L359.29 352.28 L359.61 352.37 L359.92 352.46 L360.24 352.56 L360.55 352.65 L360.87 352.74 L361.18 352.83 L361.50 352.93 L361.82 353.02 L362.13 353.11 L362.45 353.21 L362.76 353.30 L363.08 353.39 L363.40 353.48 L363.71 353.58 L364.03 353.67 L364.34 353.76 L364.66 353.85 L364.97 353.95 L365.29 354.04 L365.61 354.13 L365.92 354.22 L366.24 354.31 L366.55 354.40 L366.87 354.49 L367.18 354.58 L367.50 354.68 L367.82 354.77 L368.13 354.86 L368.45 354.95 L368.76 355.04 L369.08 355.13 L369.40 355.21 L369.71 355.30 L370.03 355.39 L370.34 355.48 L370.66 355.57 L370.97 355.66 L371.29 355.75 L371.61 355.83 L371.92 355.92 L372.24 356.01 L372.55 356.09 L372.87 356.18 L373.19 356.27 L373.50 356.36 L373.82 356.44 L374.13 356.53 L374.45 356.62 L374.76 356.70 L375.08 356.79 L375.40 356.87 L375.71 356.96 L376.03 357.05 L376.34 357.13 L376.66 357.22 L376.97 357.30 L377.29 357.39 L377.61 357.48 L377.92 357.56 L378.24 357.65 L378.55 357.73 L378.87 357.82 L379.19 357.90 L379.50 357.99 L379.82 358.07 L380.13 358.16 L380.45 358.24 L380.76 358.33 L381.08 358.41 L381.40 358.50 L381.71 358.58 L382.03 358.67 L382.34 358.75 L382.66 358.83 L382.98 358.92 L383.29 359.00 L383.61 359.09 L383.92 359.17 L384.24 359.26 L384.55 359.34 L384.87 359.42 L385.19 359.51 L385.50 359.59 L385.82 359.68 L386.13 359.76 L386.45 359.84 L386.77 359.93 L387.08 360.01 L387.40 360.09 L387.71 360.18 L388.03 360.26 L388.34 360.35 L388.66 360.43 L388.98 360.51 L389.29 360.60 L389.61 360.68 L389.92 360.76 L390.24 360.85 L390.55 360.93 L390.87 361.01 L391.19 361.09 L391.50 361.18 L391.82 361.26 L392.13 361.34 L392.45 361.43 L392.77 361.51 L393.08 361.59 L393.40 361.68 L393.71 361.76 L394.03 361.84 L394.34 361.92 L394.66 362.01 L394.98 362.09 L395.29 362.17 L395.61 362.26 L395.92 362.34 L396.24 362.42 L396.56 362.50 L396.87 362.59 L397.19 362.67 L397.50 362.75 L397.82 362.84 L398.13 362.92 L398.45 363.00 L398.77 363.08 L399.08 363.17 L399.40 363.25 L399.71 363.33 L400.03 363.42 L400.34 363.50 L400.66 363.58 L400.98 363.66 L401.29 363.75 L401.61 363.83 L401.92 363.91 L402.24 364.00 L402.56 364.08 L402.87 364.16 L403.19 364.24 L403.50 364.33 L403.82 364.41 L404.13 364.49 L404.45 364.58 L404.77 364.66 L405.08 364.74 L405.40 364.83 L405.71 364.91 L406.03 364.99 L406.35 365.07 L406.66 365.16 L406.98 365.24 L407.29 365.32 L407.61 365.41 L407.92 365.49 L408.24 365.57 L408.56 365.66 L408.87 365.74 L409.19 365.82 L409.50 365.91 L409.82 365.99 L410.14 366.07 L410.45 366.16 L410.77 366.24 L411.08 366.33 L411.40 366.41 L411.71 366.49 L412.03 366.58 L412.35 366.66 L412.66 366.74 L412.98 366.83 L413.29 366.91 L413.61 367.00 L413.92 367.08 L414.24 367.17 L414.56 367.25 L414.87 367.33 L415.19 367.42 L415.50 367.50 L415.82 367.59 L416.14 367.67 L416.45 367.76 L416.77 367.84 L417.08 367.93 L417.40 368.01 L417.71 368.10 L418.03 368.18 L418.35 368.27 L418.66 368.35 L418.98 368.44 L419.29 368.52 L419.61 368.61 L419.93 368.69 L420.24 368.78 L420.56 368.86 L420.87 368.95 L421.19 369.04 L421.50 369.12 L421.82 369.21 L422.14 369.29 L422.45 369.38 L422.77 369.47 L423.08 369.55 L423.40 369.64 L423.71 369.72 L424.03 369.81 L424.35 369.90 L424.66 369.98 L424.98 370.07 L425.29 370.16 L425.61 370.24 L425.93 370.33 L426.24 370.41 L426.56 370.50 L426.87 370.59 L427.19 370.67 L427.50 370.76 L427.82 370.85 L428.14 370.93 L428.45 371.02 L428.77 371.11 L429.08 371.19 L429.40 371.28 L429.72 371.37 L430.03 371.45 L430.35 371.54 L430.66 371.63 L430.98 371.71 L431.29 371.80 L431.61 371.89 L431.93 371.97 L432.24 372.06 L432.56 372.15 L432.87 372.24 L433.19 372.32 L433.51 372.41 L433.82 372.50 L434.14 372.58 L434.45 372.67 L434.77 372.76 L435.08 372.85 L435.40 372.93 L435.72 373.02 L436.03 373.11 L436.35 373.19 L436.66 373.28 L436.98 373.37 L437.29 373.46 L437.61 373.54 L437.93 373.63 L438.24 373.72 L438.56 373.81 L438.87 373.89 L439.19 373.98 L439.51 374.07 L439.82 374.16 L440.14 374.24 L440.45 374.33 L440.77 374.42 L441.08 374.51 L441.40 374.59 L441.72 374.68 L442.03 374.77 L442.35 374.86 L442.66 374.94 L442.98 375.03 L443.30 375.12 L443.61 375.21 L443.93 375.30 L444.24 375.38 L444.56 375.47 L444.87 375.56 L445.19 375.65 L445.51 375.73 L445.82 375.82 L446.14 375.91 L446.45 376.00 L446.77 376.09 L447.08 376.17 L447.40 376.26 L447.72 376.35 L448.03 376.44 L448.35 376.53 L448.66 376.61 L448.98 376.70 L449.30 376.79 L449.61 376.88 L449.93 376.97 L450.24 377.05 L450.56 377.14 L450.87 377.23 L451.19 377.32 L451.51 377.41 L451.82 377.49 L452.14 377.58 L452.45 377.67 L452.77 377.76 L453.09 377.85 L453.40 377.93 L453.72 378.02 L454.03 378.11 L454.35 378.20 L454.66 378.29 L454.98 378.37 L455.30 378.46 L455.61 378.55 L455.93 378.64 L456.24 378.73 L456.56 378.81 L456.88 378.90 L457.19 378.99 L457.51 379.08 L457.82 379.17 L458.14 379.25 L458.45 379.34 L458.77 379.43 L459.09 379.52 L459.40 379.61 L459.72 379.69 L460.03 379.78 L460.35 379.87 L460.66 379.96 L460.98 380.05 L461.30 380.14 L461.61 380.22 L461.93 380.31 L462.24 380.40 L462.56 380.49 L462.88 380.58 L463.19 380.66 L463.51 380.75 L463.82 380.84 L464.14 380.93 L464.45 381.02 L464.77 381.10 L465.09 381.19 L465.40 381.28 L465.72 381.37 L466.03 381.46 L466.35 381.54 L466.67 381.63 L466.98 381.72 L467.30 381.81 L467.61 381.90 L467.93 381.98 L468.24 382.07 L468.56 382.16 L468.88 382.25 L469.19 382.33 L469.51 382.42 L469.82 382.51 L470.14 382.60 L470.45 382.69 L470.77 382.77 L471.09 382.86 L471.40 382.95 L471.72 383.04 L472.03 383.13 L472.35 383.21 L472.67 383.30 L472.98 383.39 L473.30 383.48 L473.61 383.57 L473.93 383.65 L474.24 383.74 L474.56 383.83 L474.88 383.92 L475.19 384.01 L475.51 384.09 L475.82 384.18 L476.14 384.27 L476.46 384.36 L476.77 384.45 L477.09 384.54 L477.40 384.62 L477.72 384.71 L478.03 384.80 L478.35 384.89 L478.67 384.98 L478.98 385.06 L479.30 385.15 L479.61 385.24 L479.93 385.33 L480.25 385.42 L480.56 385.50 L480.88 385.59 L481.19 385.68 L481.51 385.77 L481.82 385.86 L482.14 385.95 L482.46 386.03 L482.77 386.12 L483.09 386.21 L483.40 386.30 L483.72 386.39 L484.03 386.47 L484.35 386.56 L484.67 386.65 L484.98 386.74 L485.30 386.83 L485.61 386.92 L485.93 387.00 L486.25 387.09 L486.56 387.18 L486.88 387.27 L487.19 387.36 L487.51 387.45 L487.82 387.53 L488.14 387.62 L488.46 387.71 L488.77 387.80 L489.09 387.89 L489.40 387.98 L489.72 388.06 L490.04 388.15 L490.35 388.24 L490.67 388.33 L490.98 388.42 L491.30 388.51 L491.61 388.59 L491.93 388.68 L492.25 388.77 L492.56 388.86 L492.88 388.95 L493.19 389.04 L493.51 389.12 L493.82 389.21 L494.14 389.30 L494.46 389.39 L494.77 389.48 L495.09 389.57 L495.40 389.66 L495.72 389.74 L496.04 389.83 L496.35 389.92 L496.67 390.01 L496.98 390.10 L497.30 390.19 L497.61 390.27 L497.93 390.36 L498.25 390.45 L498.56 390.54 L498.88 390.63 L499.19 390.72 L499.51 390.81 L499.83 390.89 L500.14 390.98 L500.46 391.07 L500.77 391.16 L501.09 391.25 L501.40 391.34 L501.72 391.43 L502.04 391.51 L502.35 391.60 L502.67 391.69 L502.98 391.78 L503.30 391.87 L503.62 391.96 L503.93 392.05 L504.25 392.13 L504.56 392.22 L504.88 392.31 L505.19 392.40 L505.51 392.49 L505.83 392.58 L506.14 392.67 L506.46 392.75 L506.77 392.84 L507.09 392.93 L507.40 393.02 L507.72 393.11 L508.04 393.20 L508.35 393.29 L508.67 393.38 L508.98 393.46 L509.30 393.55 L509.62 393.64 L509.93 393.73 L510.25 393.82 L510.56 393.91 L510.88 394.00 L511.19 394.09 L511.51 394.17 L511.83 394.26 L512.14 394.35 L512.46 394.44 L512.77 394.53 L513.09 394.62 L513.41 394.71 L513.72 394.80 L514.04 394.88 L514.35 394.97 L514.67 395.06 L514.98 395.15 L515.30 395.24" stroke-width="1.5"/>
<path d="M41.90 320.61 L42.22 320.61 L42.53 320.61 L42.85 320.61 L43.16 320.61 L43.48 320.61 L43.79 320.61 L44.11 320.61 L44.43 320.61 L44.74 320.61 L45.06 320.61 L45.37 320.61 L45.69 320.61 L46.01 320.61 L46.32 320.61 L46.64 320.61 L46.95 320.61 L47.27 320.61 L47.58 320.61 L47.90 320.61 L48.22 320.61 L48.53 320.61 L48.85 320.61 L49.16 320.61 L49.48 320.61 L49.80 320.61 L50.11 320.61 L50.43 320.61 L50.74 320.61 L51.06 320.61 L51.37 320.61 L51.69 320.61 L52.01 320.61 L52.32 320.61 L52.64 320.61 L52.95 320.61 L53.27 320.61 L53.58 320.61 L53.90 320.61 L54.22 320.61 L54.53 320.61 L54.85 320.61 L55.16 320.61 L55.48 320.61 L55.80 320.61 L56.11 320.61 L56.43 320.61 L56.74 320.61 L57.06 320.61 L57.37 320.61 L57.69 320.61 L58.01 320.61 L58.32 320.61 L58.64 320.61 L58.95 320.61 L59.27 320.61 L59.59 320.61 L59.90 320.61 L60.22 320.61 L60.53 320.61 L60.85 320.61 L61.16 320.62 L61.48 320.62 L61.80 320.62 L62.11 320.62 L62.43 320.62 L62.74 320.62 L63.06 320.62 L63.38 320.62 L63.69 320.62 L64.01 320.62 L64.32 320.62 L64.64 320.62 L64.95 320.62 L65.27 320.62 L65.59 320.62 L65.90 320.62 L66.22 320.62 L66.53 320.62 L66.85 320.62 L67.16 320.62 L67.48 320.62 L67.80 320.62 L68.11 320.62 L68.43 320.62 L68.74 320.62 L69.06 320.62 L69.38 320.62 L69.69 320.62 L70.01 320.62 L70.32 320.62 L70.64 320.62 L70.95 320.62 L71.27 320.62 L71.59 320.62 L71.90 320.62 L72.22 320.62 L72.53 320.62 L72.85 320.62 L73.17 320.62 L73.48 320.62 L73.80 320.62 L74.11 320.62 L74.43 320.63 L74.74 320.63 L75.06 320.63 L75.38 320.63 L75.69 320.63 L76.01 320.63 L76.32 320.63 L76.64 320.63 L76.95 320.63 L77.27 320.63 L77.59 320.63 L77.90 320.63 L78.22 320.63 L78.53 320.63 L78.85 320.63 L79.17 320.63 L79.48 320.63 L79.80 320.63 L80.11 320.63 L80.43 320.63 L80.74 320.63 L81.06 320.63 L81.38 320.63 L81.69 320.63 L82.01 320.63 L82.32 320.63 L82.64 320.63 L82.96 320.63 L83.27 320.64 L83.59 320.64 L83.90 320.64 L84.22 320.64 L84.53 320.64 L84.85 320.64 L85.17 320.64 L85.48 320.64 L85.80 320.64 L86.11 320.64 L86.43 320.64 L86.75 320.64 L87.06 320.64 L87.38 320.64 L87.69 320.64 L88.01 320.64 L88.32 320.64 L88.64 320.64 L88.96 320.64 L89.27 320.64 L89.59 320.64 L89.90 320.64 L90.22 320.64 L90.53 320.64 L90.85 320.65 L91.17 320.65 L91.48 320.65 L91.80 320.65 L92.11 320.65 L92.43 320.65 L92.75 320.65 L93.06 320.65 L93.38 320.65 L93.69 320.65 L94.01 320.65 L94.32 320.65 L94.64 320.65 L94.96 320.65 L95.27 320.65 L95.59 320.65 L95.90 320.65 L96.22 320.65 L96.54 320.65 L96.85 320.65 L97.17 320.66 L97.48 320.66 L97.80 320.66 L98.11 320.66 L98.43 320.66 L98.75 320.66 L99.06 320.66 L99.38 320.66 L99.69 320.66 L100.01 320.66 L100.32 320.66 L100.64 320.66 L100.96 320.66 L101.27 320.66 L101.59 320.66 L101.90 320.66 L102.22 320.66 L102.54 320.66 L102.85 320.67 L103.17 320.67 L103.48 320.67 L103.80 320.67 L104.11 320.67 L104.43 320.67 L104.75 320.67 L105.06 320.67 L105.38 320.67 L105.69 320.67 L106.01 320.67 L106.33 320.67 L106.64 320.67 L106.96 320.67 L107.27 320.67 L107.59 320.67 L107.90 320.68 L108.22 320.68 L108.54 320.68 L108.85 320.68 L109.17 320.68 L109.48 320.68 L109.80 320.68 L110.12 320.68 L110.43 320.68 L110.75 320.68 L111.06 320.68 L111.38 320.68 L111.69 320.68 L112.01 320.68 L112.33 320.68 L112.64 320.69 L112.96 320.69 L113.27 320.69 L113.59 320.69 L113.90 320.69 L114.22 320.69 L114.54 320.69 L114.85 320.69 L115.17 320.69 L115.48 320.69 L115.80 320.69 L116.12 320.69 L116.43 320.69 L116.75 320.69 L117.06 320.70 L117.38 320.70 L117.69 320.70 L118.01 320.70 L118.33 320.70 L118.64 320.70 L118.96 320.70 L119.27 320.70 L119.59 320.70 L119.91 320.70 L120.22 320.70 L120.54 320.70 L120.85 320.70 L121.17 320.71 L121.48 320.71 L121.80 320.71 L122.12 320.71 L122.43 320.71 L122.75 320.71 L123.06 320.71 L123.38 320.71 L123.69 320.71 L124.01 320.71 L124.33 320.71 L124.64 320.71 L124.96 320.72 L125.27 320.72 L125.59 320.72 L125.91 320.72 L126.22 320.72 L126.54 320.72 L126.85 320.72 L127.17 320.72 L127.48 320.72 L127.80 320.72 L128.12 320.72 L128.43 320.72 L128.75 320.73 L129.06 320.73 L129.38 320.73 L129.70 320.73 L130.01 320.73 L130.33 320.73 L130.64 320.73 L130.96 320.73 L131.27 320.73 L131.59 320.73 L131.91 320.73 L132.22 320.73 L132.54 320.74 L132.85 320.74 L133.17 320.74 L133.49 320.74 L133.80 320.74 L134.12 320.74 L134.43 320.74 L134.75 320.74 L135.06 320.74 L135.38 320.74 L135.70 320.74 L136.01 320.75 L136.33 320.75 L136.64 320.75 L136.96 320.75 L137.27 320.75 L137.59 320.75 L137.91 320.75 L138.22 320.75 L138.54 320.76 L138.85 320.76 L139.17 320.76 L139.49 320.76 L139.80 320.76 L140.12 320.76 L140.43 320.77 L140.75 320.77 L141.06 320.77 L141.38 320.77 L141.70 320.78 L142.01 320.78 L142.33 320.78 L142.64 320.78 L142.96 320.79 L143.28 320.79 L143.59 320.79 L143.91 320.79 L144.22 320.80 L144.54 320.80 L144.85 320.80 L145.17 320.81 L145.49 320.81 L145.80 320.81 L146.12 320.82 L146.43 320.82 L146.75 320.83 L147.06 320.83 L147.38 320.83 L147.70 320.84 L148.01 320.84 L148.33 320.85 L148.64 320.85 L148.96 320.85 L149.28 320.86 L149.59 320.86 L149.91 320.87 L150.22 320.87 L150.54 320.88 L150.85 320.88 L151.17 320.89 L151.49 320.89 L151.80 320.90 L152.12 320.90 L152.43 320.91 L152.75 320.91 L153.07 320.92 L153.38 320.92 L153.70 320.93 L154.01 320.93 L154.33 320.94 L154.64 320.94 L154.96 320.95 L155.28 320.95 L155.59 320.96 L155.91 320.97 L156.22 320.97 L156.54 320.98 L156.86 320.98 L157.17 320.99 L157.49 321.00 L157.80 321.00 L158.12 321.01 L158.43 321.02 L158.75 321.02 L159.07 321.03 L159.38 321.04 L159.70 321.04 L160.01 321.05 L160.33 321.06 L160.64 321.06 L160.96 321.07 L161.28 321.08 L161.59 321.08 L161.91 321.09 L162.22 321.10 L162.54 321.10 L162.86 321.11 L163.17 321.12 L163.49 321.13 L163.80 321.13 L164.12 321.14 L164.43 321.15 L164.75 321.16 L165.07 321.16 L165.38 321.17 L165.70 321.18 L166.01 321.19 L166.33 321.19 L166.65 321.20 L166.96 321.21 L167.28 321.22 L167.59 321.22 L167.91 321.23 L168.22 321.24 L168.54 321.25 L168.86 321.26 L169.17 321.27 L169.49 321.27 L169.80 321.28 L170.12 321.29 L170.43 321.30 L170.75 321.31 L171.07 321.31 L171.38 321.32 L171.70 321.33 L172.01 321.34 L172.33 321.35 L172.65 321.36 L172.96 321.37 L173.28 321.37 L173.59 321.38 L173.91 321.39 L174.22 321.40 L174.54 321.41 L174.86 321.42 L175.17 321.43 L175.49 321.44 L175.80 321.45 L176.12 321.45 L176.44 321.46 L176.75 321.47 L177.07 321.48 L177.38 321.49 L177.70 321.50 L178.01 321.51 L178.33 321.52 L178.65 321.53 L178.96 321.54 L179.28 321.55 L179.59 321.56 L179.91 321.57 L180.23 321.57 L180.54 321.58 L180.86 321.59 L181.17 321.60 L181.49 321.61 L181.80 321.62 L182.12 321.63 L182.44 321.64 L182.75 321.65 L183.07 321.66 L183.38 321.67 L183.70 321.68 L184.01 321.69 L184.33 321.70 L184.65 321.71 L184.96 321.72 L185.28 321.73 L185.59 321.74 L185.91 321.75 L186.23 321.76 L186.54 321.77 L186.86 321.78 L187.17 321.79 L187.49 321.81 L187.80 321.82 L188.12 321.83 L188.44 321.84 L188.75 321.85 L189.07 321.87 L189.38 321.88 L189.70 321.89 L190.02 321.90 L190.33 321.92 L190.65 321.93 L190.96 321.94 L191.28 321.96 L191.59 321.97 L191.91 321.98 L192.23 322.00 L192.54 322.01 L192.86 322.02 L193.17 322.04 L193.49 322.05 L193.80 322.07 L194.12 322.08 L194.44 322.10 L194.75 322.11 L195.07 322.13 L195.38 322.14 L195.70 322.16 L196.02 322.18 L196.33 322.19 L196.65 322.21 L196.96 322.22 L197.28 322.24 L197.59 322.26 L197.91 322.27 L198.23 322.29 L198.54 322.31 L198.86 322.32 L199.17 322.34 L199.49 322.36 L199.81 322.38 L200.12 322.39 L200.44 322.41 L200.75 322.43 L201.07 322.45 L201.38 322.47 L201.70 322.49 L202.02 322.50 L202.33 322.52 L202.65 322.54 L202.96 322.56 L203.28 322.58 L203.59 322.60 L203.91 322.62 L204.23 322.64 L204.54 322.66 L204.86 322.68 L205.17 322.70 L205.49 322.72 L205.81 322.74 L206.12 322.76 L206.44 322.78 L206.75 322.80 L207.07 322.82 L207.38 322.84 L207.70 322.87 L208.02 322.89 L208.33 322.91 L208.65 322.93 L208.96 322.95 L209.28 322.97 L209.60 323.00 L209.91 323.02 L210.23 323.04 L210.54 323.06 L210.86 323.09 L211.17 323.11 L211.49 323.13 L211.81 323.16 L212.12 323.18 L212.44 323.20 L212.75 323.23 L213.07 323.25 L213.39 323.28 L213.70 323.30 L214.02 323.32 L214.33 323.35 L214.65 323.37 L214.96 323.40 L215.28 323.42 L215.60 323.45 L215.91 323.47 L216.23 323.50 L216.54 323.52 L216.86 323.55 L217.17 323.57 L217.49 323.60 L217.81 323.63 L218.12 323.65 L218.44 323.68 L218.75 323.71 L219.07 323.73 L219.39 323.76 L219.70 323.79 L220.02 323.81 L220.33 323.84 L220.65 323.87 L220.96 323.89 L221.28 323.92 L221.60 323.95 L221.91 323.98 L222.23 324.00 L222.54 324.03 L222.86 324.06 L223.18 324.09 L223.49 324.12 L223.81 324.15 L224.12 324.18 L224.44 324.20 L224.75 324.23 L225.07 324.26 L225.39 324.29 L225.70 324.32 L226.02 324.35 L226.33 324.38 L226.65 324.41 L226.96 324.44 L227.28 324.47 L227.60 324.50 L227.91 324.53 L228.23 324.56 L228.54 324.59 L228.86 324.62 L229.18 324.65 L229.49 324.68 L229.81 324.72 L230.12 324.75 L230.44 324.78 L230.75 324.81 L231.07 324.84 L231.39 324.87 L231.70 324.91 L232.02 324.94 L232.33 324.97 L232.65 325.01 L232.97 325.04 L233.28 325.08 L233.60 325.12 L233.91 325.16 L234.23 325.20 L234.54 325.24 L234.86 325.28 L235.18 325.32 L235.49 325.36 L235.81 325.40 L236.12 325.44 L236.44 325.49 L236.76 325.53 L237.07 325.58 L237.39 325.62 L237.70 325.67 L238.02 325.72 L238.33 325.77 L238.65 325.82 L238.97 325.86 L239.28 325.91 L239.60 325.96 L239.91 326.02 L240.23 326.07 L240.54 326.12 L240.86 326.17 L241.18 326.22 L241.49 326.28 L241.81 326.33 L242.12 326.39 L242.44 326.44 L242.76 326.50 L243.07 326.55 L243.39 326.61 L243.70 326.66 L244.02 326.72 L244.33 326.78 L244.65 326.84 L244.97 326.90 L245.28 326.95 L245.60 327.01 L245.91 327.07 L246.23 327.13 L246.55 327.19 L246.86 327.25 L247.18 327.31 L247.49 327.37 L247.81 327.44 L248.12 327.50 L248.44 327.56 L248.76 327.62 L249.07 327.68 L249.39 327.75 L249.70 327.81 L250.02 327.87 L250.33 327.93 L250.65 328.00 L250.97 328.06 L251.28 328.12 L251.60 328.19 L251.91 328.25 L252.23 328.32 L252.55 328.38 L252.86 328.44 L253.18 328.51 L253.49 328.57 L253.81 328.64 L254.12 328.70 L254.44 328.77 L254.76 328.83 L255.07 328.89 L255.39 328.96 L255.70 329.02 L256.02 329.09 L256.34 329.15 L256.65 329.22 L256.97 329.28 L257.28 329.35 L257.60 329.41 L257.91 329.47 L258.23 329.54 L258.55 329.60 L258.86 329.67 L259.18 329.73 L259.49 329.79 L259.81 329.86 L260.13 329.92 L260.44 329.98 L260.76 330.05 L261.07 330.11 L261.39 330.18 L261.70 330.24 L262.02 330.31 L262.34 330.37 L262.65 330.44 L262.97 330.50 L263.28 330.57 L263.60 330.63 L263.91 330.70 L264.23 330.76 L264.55 330.83 L264.86 330.90 L265.18 330.96 L265.49 331.03 L265.81 331.10 L266.13 331.16 L266.44 331.23 L266.76 331.30 L267.07 331.37 L267.39 331.44 L267.70 331.50 L268.02 331.57 L268.34 331.64 L268.65 331.71 L268.97 331.78 L269.28 331.85 L269.60 331.92 L269.92 331.99 L270.23 332.06 L270.55 332.13 L270.86 332.20 L271.18 332.27 L271.49 332.34 L271.81 332.41 L272.13 332.48 L272.44 332.55 L272.76 332.62 L273.07 332.69 L273.39 332.76 L273.70 332.84 L274.02 332.91 L274.34 332.98 L274.65 333.05 L274.97 333.13 L275.28 333.20 L275.60 333.27 L275.92 333.35 L276.23 333.42 L276.55 333.49 L276.86 333.57 L277.18 333.64 L277.49 333.72 L277.81 333.79 L278.13 333.87 L278.44 333.94 L278.76 334.02 L279.07 334.09 L279.39 334.17 L279.71 334.25 L280.02 334.32 L280.34 334.40 L280.65 334.48 L280.97 334.55 L281.28 334.63 L281.60 334.71 L281.92 334.79 L282.23 334.86 L282.55 334.94 L282.86 335.02 L283.18 335.10 L283.50 335.18 L283.81 335.26 L284.13 335.34 L284.44 335.42 L284.76 335.50 L285.07 335.58 L285.39 335.66 L285.71 335.74 L286.02 335.82 L286.34 335.90 L286.65 335.98 L286.97 336.06 L287.28 336.14 L287.60 336.23 L287.92 336.31 L288.23 336.39 L288.55 336.47 L288.86 336.56 L289.18 336.64 L289.50 336.72 L289.81 336.81 L290.13 336.89 L290.44 336.98 L290.76 337.06 L291.07 337.14 L291.39 337.23 L291.71 337.31 L292.02 337.40 L292.34 337.49 L292.65 337.57 L292.97 337.66 L293.29 337.75 L293.60 337.83 L293.92 337.92 L294.23 338.01 L294.55 338.09 L294.86 338.18 L295.18 338.27 L295.50 338.36 L295.81 338.45 L296.13 338.54 L296.44 338.63 L296.76 338.71 L297.07 338.80 L297.39 338.89 L297.71 338.98 L298.02 339.08 L298.34 339.17 L298.65 339.26 L298.97 339.36 L299.29 339.45 L299.60 339.55 L299.92 339.65 L300.23 339.74 L300.55 339.84 L300.86 339.94 L301.18 340.05 L301.50 340.15 L301.81 340.25 L302.13 340.35 L302.44 340.46 L302.76 340.56 L303.08 340.67 L303.39 340.77 L303.71 340.88 L304.02 340.99 L304.34 341.10 L304.65 341.21 L304.97 341.32 L305.29 341.43 L305.60 341.54 L305.92 341.65 L306.23 341.76 L306.55 341.87 L306.87 341.98 L307.18 342.10 L307.50 342.21 L307.81 342.32 L308.13 342.44 L308.44 342.55 L308.76 342.67 L309.08 342.78 L309.39 342.90 L309.71 343.01 L310.02 343.13 L310.34 343.25 L310.65 343.36 L310.97 343.48 L311.29 343.59 L311.60 343.71 L311.92 343.83 L312.23 343.94 L312.55 344.06 L312.87 344.18 L313.18 344.29 L313.50 344.41 L313.81 344.53 L314.13 344.64 L314.44 344.76 L314.76 344.88 L315.08 344.99 L315.39 345.11 L315.71 345.23 L316.02 345.34 L316.34 345.46 L316.66 345.57 L316.97 345.69 L317.29 345.80 L317.60 345.92 L317.92 346.03 L318.23 346.14 L318.55 346.26 L318.87 346.37 L319.18 346.48 L319.50 346.59 L319.81 346.70 L320.13 346.81 L320.44 346.92 L320.76 347.03 L321.08 347.14 L321.39 347.25 L321.71 347.36 L322.02 347.47 L322.34 347.57 L322.66 347.68 L322.97 347.78 L323.29 347.89 L323.60 347.99 L323.92 348.10 L324.23 348.20 L324.55 348.30 L324.87 348.40 L325.18 348.50 L325.50 348.60 L325.81 348.70 L326.13 348.79 L326.45 348.89 L326.76 348.98 L327.08 349.08 L327.39 349.18 L327.71 349.27 L328.02 349.37 L328.34 349.46 L328.66 349.56 L328.97 349.65 L329.29 349.74 L329.60 349.84 L329.92 349.93 L330.24 350.02 L330.55 350.12 L330.87 350.21 L331.18 350.30 L331.50 350.39 L331.81 350.49 L332.13 350.58 L332.45 350.67 L332.76 350.76 L333.08 350.85 L333.39 350.94 L333.71 351.03 L334.02 351.12 L334.34 351.21 L334.66 351.30 L334.97 351.39 L335.29 351.48 L335.60 351.57 L335.92 351.66 L336.24 351.75 L336.55 351.84 L336.87 351.93 L337.18 352.01 L337.50 352.10 L337.81 352.19 L338.13 352.28 L338.45 352.37 L338.76 352.45 L339.08 352.54 L339.39 352.63 L339.71 352.71 L340.03 352.80 L340.34 352.89 L340.66 352.97 L340.97 353.06 L341.29 353.14 L341.60 353.23 L341.92 353.32 L342.24 353.40 L342.55 353.49 L342.87 353.57 L343.18 353.66 L343.50 353.74 L343.81 353.83 L344.13 353.91 L344.45 354.00 L344.76 354.08 L345.08 354.16 L345.39 354.25 L345.71 354.33 L346.03 354.42 L346.34 354.50 L346.66 354.58 L346.97 354.67 L347.29 354.75 L347.60 354.83 L347.92 354.92 L348.24 355.00 L348.55 355.08 L348.87 355.17 L349.18 355.25 L349.50 355.33 L349.82 355.42 L350.13 355.50 L350.45 355.58 L350.76 355.66 L351.08 355.75 L351.39 355.83 L351.71 355.91 L352.03 355.99 L352.34 356.08 L352.66 356.16 L352.97 356.24 L353.29 356.32 L353.61 356.40 L353.92 356.49 L354.24 356.57 L354.55 356.65 L354.87 356.73 L355.18 356.81 L355.50 356.90 L355.82 356.98 L356.13 357.06 L356.45 357.14 L356.76 357.22 L357.08 357.31 L357.39 357.39 L357.71 357.47 L358.03 357.55 L358.34 357.63 L358.66 357.71 L358.97 357.80 L359.29 357.88 L359.61 357.96 L359.92 358.04 L360.24 358.12 L360.55 358.21 L360.87 358.29 L361.18 358.37 L361.50 358.45 L361.82 358.53 L362.13 358.62 L362.45 358.70 L362.76 358.78 L363.08 358.86 L363.40 358.95 L363.71 359.03 L364.03 359.11 L364.34 359.19 L364.66 359.28 L364.97 359.36 L365.29 359.44 L365.61 359.52 L365.92 359.61 L366.24 359.69 L366.55 359.77 L366.87 359.86 L367.18 359.94 L367.50 360.02 L367.82 360.11 L368.13 360.19 L368.45 360.27 L368.76 360.36 L369.08 360.44 L369.40 360.53 L369.71 360.61 L370.03 360.69 L370.34 360.78 L370.66 360.86 L370.97 360.95 L371.29 361.03 L371.61 361.12 L371.92 361.20 L372.24 361.29 L372.55 361.37 L372.87 361.46 L373.19 361.54 L373.50 361.63 L373.82 361.71 L374.13 361.80 L374.45 361.88 L374.76 361.97 L375.08 362.06 L375.40 362.14 L375.71 362.23 L376.03 362.31 L376.34 362.40 L376.66 362.48 L376.97 362.57 L377.29 362.65 L377.61 362.74 L377.92 362.82 L378.24 362.91 L378.55 363.00 L378.87 363.08 L379.19 363.17 L379.50 363.25 L379.82 363.34 L380.13 363.42 L380.45 363.51 L380.76 363.59 L381.08 363.68 L381.40 363.76 L381.71 363.85 L382.03 363.93 L382.34 364.02 L382.66 364.10 L382.98 364.19 L383.29 364.27 L383.61 364.36 L383.92 364.45 L384.24 364.53 L384.55 364.62 L384.87 364.70 L385.19 364.79 L385.50 364.87 L385.82 364.96 L386.13 365.04 L386.45 365.13 L386.77 365.21 L387.08 365.30 L387.40 365.38 L387.71 365.47 L388.03 365.55 L388.34 365.64 L388.66 365.72 L388.98 365.81 L389.29 365.89 L389.61 365.98 L389.92 366.06 L390.24 366.15 L390.55 366.23 L390.87 366.32 L391.19 366.40 L391.50 366.49 L391.82 366.57 L392.13 366.66 L392.45 366.75 L392.77 366.83 L393.08 366.92 L393.40 367.00 L393.71 367.09 L394.03 367.17 L394.34 367.26 L394.66 367.34 L394.98 367.43 L395.29 367.51 L395.61 367.60 L395.92 367.68 L396.24 367.77 L396.56 367.85 L396.87 367.94 L397.19 368.02 L397.50 368.11 L397.82 368.19 L398.13 368.28 L398.45 368.36 L398.77 368.45 L399.08 368.54 L399.40 368.62 L399.71 368.71 L400.03 368.79 L400.34 368.88 L400.66 368.96 L400.98 369.05 L401.29 369.13 L401.61 369.22 L401.92 369.30 L402.24 369.39 L402.56 369.47 L402.87 369.56 L403.19 369.65 L403.50 369.73 L403.82 369.82 L404.13 369.90 L404.45 369.99 L404.77 370.07 L405.08 370.16 L405.40 370.25 L405.71 370.33 L406.03 370.42 L406.35 370.50 L406.66 370.59 L406.98 370.67 L407.29 370.76 L407.61 370.85 L407.92 370.93 L408.24 371.02 L408.56 371.10 L408.87 371.19 L409.19 371.27 L409.50 371.36 L409.82 371.45 L410.14 371.53 L410.45 371.62 L410.77 371.70 L411.08 371.79 L411.40 371.88 L411.71 371.96 L412.03 372.05 L412.35 372.13 L412.66 372.22 L412.98 372.31 L413.29 372.39 L413.61 372.48 L413.92 372.57 L414.24 372.65 L414.56 372.74 L414.87 372.82 L415.19 372.91 L415.50 373.00 L415.82 373.08 L416.14 373.17 L416.45 373.26 L416.77 373.34 L417.08 373.43 L417.40 373.52 L417.71 373.60 L418.03 373.69 L418.35 373.78 L418.66 373.86 L418.98 373.95 L419.29 374.04 L419.61 374.12 L419.93 374.21 L420.24 374.30 L420.56 374.38 L420.87 374.47 L421.19 374.56 L421.50 374.65 L421.82 374.73 L422.14 374.82 L422.45 374.91 L422.77 374.99 L423.08 375.08 L423.40 375.17 L423.71 375.26 L424.03 375.34 L424.35 375.43 L424.66 375.52 L424.98 375.61 L425.29 375.69 L425.61 375.78 L425.93 375.87 L426.24 375.96 L426.56 376.04 L426.87 376.13 L427.19 376.22 L427.50 376.31 L427.82 376.40 L428.14 376.48 L428.45 376.57 L428.77 376.66 L429.08 376.75 L429.40 376.84 L429.72 376.92 L430.03 377.01 L430.35 377.10 L430.66 377.19 L430.98 377.28 L431.29 377.36 L431.61 377.45 L431.93 377.54 L432.24 377.63 L432.56 377.72 L432.87 377.80 L433.19 377.89 L433.51 377.98 L433.82 378.07 L434.14 378.16 L434.45 378.25 L434.77 378.33 L435.08 378.42 L435.40 378.51 L435.72 378.60 L436.03 378.69 L436.35 378.78 L436.66 378.87 L436.98 378.95 L437.29 379.04 L437.61 379.13 L437.93 379.22 L438.24 379.31 L438.56 379.40 L438.87 379.49 L439.19 379.57 L439.51 379.66 L439.82 379.75 L440.14 379.84 L440.45 379.93 L440.77 380.02 L441.08 380.11 L441.40 380.20 L441.72 380.28 L442.03 380.37 L442.35 380.46 L442.66 380.55 L442.98 380.64 L443.30 380.73 L443.61 380.82 L443.93 380.91 L444.24 381.00 L444.56 381.08 L444.87 381.17 L445.19 381.26 L445.51 381.35 L445.82 381.44 L446.14 381.53 L446.45 381.62 L446.77 381.71 L447.08 381.79 L447.40 381.88 L447.72 381.97 L448.03 382.06 L448.35 382.15 L448.66 382.24 L448.98 382.33 L449.30 382.42 L449.61 382.51 L449.93 382.59 L450.24 382.68 L450.56 382.77 L450.87 382.86 L451.19 382.95 L451.51 383.04 L451.82 383.13 L452.14 383.22 L452.45 383.31 L452.77 383.39 L453.09 383.48 L453.40 383.57 L453.72 383.66 L454.03 383.75 L454.35 383.84 L454.66 383.93 L454.98 384.02 L455.30 384.10 L455.61 384.19 L455.93 384.28 L456.24 384.37 L456.56 384.46 L456.88 384.55 L457.19 384.64 L457.51 384.73 L457.82 384.81 L458.14 384.90 L458.45 384.99 L458.77 385.08 L459.09 385.17 L459.40 385.26 L459.72 385.35 L460.03 385.43 L460.35 385.52 L460.66 385.61 L460.98 385.70 L461.30 385.79 L461.61 385.88 L461.93 385.97 L462.24 386.05 L462.56 386.14 L462.88 386.23 L463.19 386.32 L463.51 386.41 L463.82 386.50 L464.14 386.58 L464.45 386.67 L464.77 386.76 L465.09 386.85 L465.40 386.94 L465.72 387.03 L466.03 387.11 L466.35 387.20 L466.67 387.29 L466.98 387.38 L467.30 387.47 L467.61 387.55 L467.93 387.64 L468.24 387.73 L468.56 387.82 L468.88 387.90 L469.19 387.99 L469.51 388.08 L469.82 388.17 L470.14 388.26 L470.45 388.34 L470.77 388.43 L471.09 388.52 L471.40 388.61 L471.72 388.70 L472.03 388.78 L472.35 388.87 L472.67 388.96 L472.98 389.05 L473.30 389.13 L473.61 389.22 L473.93 389.31 L474.24 389.40 L474.56 389.49 L474.88 389.57 L475.19 389.66 L475.51 389.75 L475.82 389.84 L476.14 389.92 L476.46 390.01 L476.77 390.10 L477.09 390.19 L477.40 390.28 L477.72 390.36 L478.03 390.45 L478.35 390.54 L478.67 390.63 L478.98 390.71 L479.30 390.80 L479.61 390.89 L479.93 390.98 L480.25 391.07 L480.56 391.15 L480.88 391.24 L481.19 391.33 L481.51 391.42 L481.82 391.50 L482.14 391.59 L482.46 391.68 L482.77 391.77 L483.09 391.85 L483.40 391.94 L483.72 392.03 L484.03 392.12 L484.35 392.20 L484.67 392.29 L484.98 392.38 L485.30 392.47 L485.61 392.56 L485.93 392.64 L486.25 392.73 L486.56 392.82 L486.88 392.91 L487.19 392.99 L487.51 393.08 L487.82 393.17 L488.14 393.26 L488.46 393.34 L488.77 393.43 L489.09 393.52 L489.40 393.61 L489.72 393.69 L490.04 393.78 L490.35 393.87 L490.67 393.96 L490.98 394.04 L491.30 394.13 L491.61 394.22 L491.93 394.31 L492.25 394.39 L492.56 394.48 L492.88 394.57 L493.19 394.66 L493.51 394.74 L493.82 394.83 L494.14 394.92 L494.46 395.00 L494.77 395.09 L495.09 395.18 L495.40 395.27 L495.72 395.35 L496.04 395.44 L496.35 395.53 L496.67 395.62 L496.98 395.70 L497.30 395.79 L497.61 395.88 L497.93 395.97 L498.25 396.05 L498.56 396.14 L498.88 396.23 L499.19 396.32 L499.51 396.40 L499.83 396.49 L500.14 396.58 L500.46 396.66 L500.77 396.75 L501.09 396.84 L501.40 396.93 L501.72 397.01 L502.04 397.10 L502.35 397.19 L502.67 397.28 L502.98 397.36 L503.30 397.45 L503.62 397.54 L503.93 397.62 L504.25 397.71 L504.56 397.80 L504.88 397.89 L505.19 397.97 L505.51 398.06 L505.83 398.15 L506.14 398.23 L506.46 398.32 L506.77 398.41 L507.09 398.50 L507.40 398.58 L507.72 398.67 L508.04 398.76 L508.35 398.84 L508.67 398.93 L508.98 399.02 L509.30 399.11 L509.62 399.19 L509.93 399.28 L510.25 399.37 L510.56 399.45 L510.88 399.54 L511.19 399.63 L511.51 399.72 L511.83 399.80 L512.14 399.89 L512.46 399.98 L512.77 400.06 L513.09 400.15 L513.41 400.24 L513.72 400.32 L514.04 400.41 L514.35 400.50 L514.67 400.59 L514.98 400.67 L515.30 400.76" stroke-width="1.5" stroke-dasharray="4 1.15 1.5 1.15"/>
</g>
<clipPath id="c3"><rect x="41.90" y="428.90" width="473.40" height="100.40"/></clipPath>
<g clip-path="url(#c3)" fill="none" stroke="#000" stroke-linejoin="round">
<path d="M41.90 431.91 L42.22 431.91 L42.53 431.91 L42.85 431.91 L43.16 431.91 L43.48 431.91 L43.79 431.91 L44.11 431.91 L44.43 431.91 L44.74 431.91 L45.06 431.91 L45.37 431.91 L45.69 431.91 L46.01 431.91 L46.32 431.91 L46.64 431.91 L46.95 431.91 L47.27 431.91 L47.58 431.91 L47.90 431.91 L48.22 431.91 L48.53 431.91 L48.85 431.91 L49.16 431.91 L49.48 431.91 L49.80 431.91 L50.11 431.91 L50.43 431.91 L50.74 431.91 L51.06 431.91 L51.37 431.91 L51.69 431.91 L52.01 431.91 L52.32 431.91 L52.64 431.91 L52.95 431.91 L53.27 431.91 L53.58 431.91 L53.90 431.91 L54.22 431.91 L54.53 431.91 L54.85 431.91 L55.16 431.91 L55.48 431.91 L55.80 431.91 L56.11 431.91 L56.43 431.91 L56.74 431.91 L57.06 431.91 L57.37 431.91 L57.69 431.91 L58.01 431.91 L58.32 431.91 L58.64 431.91 L58.95 431.91 L59.27 431.91 L59.59 431.91 L59.90 431.91 L60.22 431.91 L60.53 431.91 L60.85 431.91 L61.16 431.91 L61.48 431.91 L61.80 431.91 L62.11 431.91 L62.43 431.91 L62.74 431.91 L63.06 431.91 L63.38 431.91 L63.69 431.91 L64.01 431.91 L64.32 431.91 L64.64 431.91 L64.95 431.91 L65.27 431.91 L65.59 431.91 L65.90 431.91 L66.22 431.91 L66.53 431.91 L66.85 431.91 L67.16 431.91 L67.48 431.91 L67.80 431.91 L68.11 431.91 L68.43 431.91 L68.74 431.91 L69.06 431.91 L69.38 431.91 L69.69 431.91 L70.01 431.91 L70.32 431.91 L70.64 431.91 L70.95 431.91 L71.27 431.91 L71.59 431.91 L71.90 431.91 L72.22 431.91 L72.53 431.91 L72.85 431.91 L73.17 431.91 L73.48 431.92 L73.80 431.92 L74.11 431.92 L74.43 431.92 L74.74 431.92 L75.06 431.92 L75.38 431.92 L75.69 431.92 L76.01 431.92 L76.32 431.92 L76.64 431.92 L76.95 431.92 L77.27 431.92 L77.59 431.92 L77.90 431.92 L78.22 431.92 L78.53 431.92 L78.85 431.92 L79.17 431.92 L79.48 431.92 L79.80 431.92 L80.11 431.92 L80.43 431.92 L80.74 431.92 L81.06 431.92 L81.38 431.92 L81.69 431.92 L82.01 431.92 L82.32 431.92 L82.64 431.92 L82.96 431.92 L83.27 431.92 L83.59 431.92 L83.90 431.92 L84.22 431.92 L84.53 431.92 L84.85 431.92 L85.17 431.92 L85.48 431.92 L85.80 431.92 L86.11 431.92 L86.43 431.92 L86.75 431.92 L87.06 431.92 L87.38 431.92 L87.69 431.92 L88.01 431.92 L88.32 431.92 L88.64 431.92 L88.96 431.92 L89.27 431.92 L89.59 431.92 L89.90 431.92 L90.22 431.92 L90.53 431.92 L90.85 431.92 L91.17 431.92 L91.48 431.92 L91.80 431.92 L92.11 431.92 L92.43 431.92 L92.75 431.92 L93.06 431.92 L93.38 431.92 L93.69 431.92 L94.01 431.92 L94.32 431.92 L94.64 431.93 L94.96 431.93 L95.27 431.93 L95.59 431.93 L95.90 431.93 L96.22 431.93 L96.54 431.93 L96.85 431.93 L97.17 431.93 L97.48 431.93 L97.80 431.93 L98.11 431.93 L98.43 431.93 L98.75 431.93 L99.06 431.93 L99.38 431.93 L99.69 431.93 L100.01 431.93 L100.32 431.93 L100.64 431.93 L100.96 431.93 L101.27 431.93 L101.59 431.93 L101.90 431.93 L102.22 431.93 L102.54 431.93 L102.85 431.93 L103.17 431.93 L103.48 431.93 L103.80 431.93 L104.11 431.93 L104.43 431.93 L104.75 431.93 L105.06 431.93 L105.38 431.93 L105.69 431.93 L106.01 431.93 L106.33 431.93 L106.64 431.93 L106.96 431.93 L107.27 431.93 L107.59 431.93 L107.90 431.93 L108.22 431.93 L108.54 431.94 L108.85 431.94 L109.17 431.94 L109.48 431.94 L109.80 431.94 L110.12 431.94 L110.43 431.94 L110.75 431.94 L111.06 431.94 L111.38 431.94 L111.69 431.94 L112.01 431.94 L112.33 431.94 L112.64 431.94 L112.96 431.94 L113.27 431.94 L113.59 431.94 L113.90 431.94 L114.22 431.94 L114.54 431.94 L114.85 431.94 L115.17 431.94 L115.48 431.94 L115.80 431.94 L116.12 431.94 L116.43 431.94 L116.75 431.94 L117.06 431.94 L117.38 431.94 L117.69 431.94 L118.01 431.94 L118.33 431.94 L118.64 431.95 L118.96 431.95 L119.27 431.95 L119.59 431.95 L119.91 431.95 L120.22 431.95 L120.54 431.95 L120.85 431.95 L121.17 431.95 L121.48 431.95 L121.80 431.95 L122.12 431.95 L122.43 431.95 L122.75 431.95 L123.06 431.95 L123.38 431.95 L123.69 431.95 L124.01 431.95 L124.33 431.95 L124.64 431.95 L124.96 431.95 L125.27 431.95 L125.59 431.95 L125.91 431.95 L126.22 431.95 L126.54 431.95 L126.85 431.95 L127.17 431.96 L127.48 431.96 L127.80 431.96 L128.12 431.96 L128.43 431.96 L128.75 431.96 L129.06 431.96 L129.38 431.96 L129.70 431.96 L130.01 431.96 L130.33 431.96 L130.64 431.96 L130.96 431.96 L131.27 431.96 L131.59 431.96 L131.91 431.96 L132.22 431.96 L132.54 431.96 L132.85 431.96 L133.17 431.96 L133.49 431.96 L133.80 431.97 L134.12 431.97 L134.43 431.97 L134.75 431.97 L135.06 431.97 L135.38 431.97 L135.70 431.97 L136.01 431.97 L136.33 431.97 L136.64 431.97 L136.96 431.97 L137.27 431.97 L137.59 431.97 L137.91 431.97 L138.22 431.97 L138.54 431.97 L138.85 431.97 L139.17 431.97 L139.49 431.97 L139.80 431.98 L140.12 431.98 L140.43 431.98 L140.75 431.98 L141.06 431.98 L141.38 431.98 L141.70 431.98 L142.01 431.98 L142.33 431.98 L142.64 431.98 L142.96 431.98 L143.28 431.98 L143.59 431.98 L143.91 431.98 L144.22 431.98 L144.54 431.98 L144.85 431.99 L145.17 431.99 L145.49 431.99 L145.80 431.99 L146.12 431.99 L146.43 431.99 L146.75 431.99 L147.06 431.99 L147.38 431.99 L147.70 431.99 L148.01 431.99 L148.33 431.99 L148.64 431.99 L148.96 431.99 L149.28 431.99 L149.59 432.00 L149.91 432.00 L150.22 432.00 L150.54 432.00 L150.85 432.00 L151.17 432.00 L151.49 432.00 L151.80 432.00 L152.12 432.00 L152.43 432.00 L152.75 432.00 L153.07 432.00 L153.38 432.00 L153.70 432.01 L154.01 432.01 L154.33 432.01 L154.64 432.01 L154.96 432.01 L155.28 432.01 L155.59 432.01 L155.91 432.01 L156.22 432.01 L156.54 432.01 L156.86 432.01 L157.17 432.01 L157.49 432.02 L157.80 432.02 L158.12 432.02 L158.43 432.02 L158.75 432.02 L159.07 432.02 L159.38 432.02 L159.70 432.02 L160.01 432.02 L160.33 432.02 L160.64 432.02 L160.96 432.03 L161.28 432.03 L161.59 432.03 L161.91 432.03 L162.22 432.03 L162.54 432.03 L162.86 432.03 L163.17 432.03 L163.49 432.03 L163.80 432.03 L164.12 432.04 L164.43 432.04 L164.75 432.04 L165.07 432.04 L165.38 432.04 L165.70 432.04 L166.01 432.04 L166.33 432.04 L166.65 432.04 L166.96 432.04 L167.28 432.05 L167.59 432.05 L167.91 432.05 L168.22 432.05 L168.54 432.05 L168.86 432.05 L169.17 432.05 L169.49 432.05 L169.80 432.06 L170.12 432.06 L170.43 432.06 L170.75 432.06 L171.07 432.06 L171.38 432.06 L171.70 432.06 L172.01 432.06 L172.33 432.06 L172.65 432.07 L172.96 432.07 L173.28 432.07 L173.59 432.07 L173.91 432.07 L174.22 432.07 L174.54 432.07 L174.86 432.07 L175.17 432.08 L175.49 432.08 L175.80 432.08 L176.12 432.08 L176.44 432.08 L176.75 432.08 L177.07 432.08 L177.38 432.09 L177.70 432.09 L178.01 432.09 L178.33 432.09 L178.65 432.09 L178.96 432.09 L179.28 432.09 L179.59 432.10 L179.91 432.10 L180.23 432.10 L180.54 432.10 L180.86 432.10 L181.17 432.10 L181.49 432.10 L181.80 432.11 L182.12 432.11 L182.44 432.11 L182.75 432.11 L183.07 432.11 L183.38 432.11 L183.70 432.12 L184.01 432.12 L184.33 432.12 L184.65 432.12 L184.96 432.12 L185.28 432.12 L185.59 432.13 L185.91 432.13 L186.23 432.13 L186.54 432.13 L186.86 432.13 L187.17 432.13 L187.49 432.14 L187.80 432.14 L188.12 432.14 L188.44 432.14 L188.75 432.14 L189.07 432.14 L189.38 432.15 L189.70 432.15 L190.02 432.15 L190.33 432.15 L190.65 432.15 L190.96 432.16 L191.28 432.16 L191.59 432.16 L191.91 432.16 L192.23 432.16 L192.54 432.16 L192.86 432.17 L193.17 432.17 L193.49 432.17 L193.80 432.17 L194.12 432.17 L194.44 432.18 L194.75 432.18 L195.07 432.18 L195.38 432.18 L195.70 432.18 L196.02 432.19 L196.33 432.19 L196.65 432.19 L196.96 432.19 L197.28 432.19 L197.59 432.20 L197.91 432.20 L198.23 432.20 L198.54 432.20 L198.86 432.21 L199.17 432.21 L199.49 432.21 L199.81 432.21 L200.12 432.21 L200.44 432.22 L200.75 432.22 L201.07 432.22 L201.38 432.22 L201.70 432.23 L202.02 432.23 L202.33 432.23 L202.65 432.23 L202.96 432.24 L203.28 432.24 L203.59 432.24 L203.91 432.24 L204.23 432.24 L204.54 432.25 L204.86 432.25 L205.17 432.25 L205.49 432.25 L205.81 432.26 L206.12 432.26 L206.44 432.26 L206.75 432.26 L207.07 432.27 L207.38 432.27 L207.70 432.27 L208.02 432.27 L208.33 432.28 L208.65 432.28 L208.96 432.28 L209.28 432.29 L209.60 432.29 L209.91 432.29 L210.23 432.29 L210.54 432.30 L210.86 432.30 L211.17 432.30 L211.49 432.30 L211.81 432.31 L212.12 432.31 L212.44 432.31 L212.75 432.32 L213.07 432.32 L213.39 432.32 L213.70 432.32 L214.02 432.33 L214.33 432.33 L214.65 432.33 L214.96 432.33 L215.28 432.34 L215.60 432.34 L215.91 432.34 L216.23 432.35 L216.54 432.35 L216.86 432.35 L217.17 432.36 L217.49 432.36 L217.81 432.36 L218.12 432.36 L218.44 432.37 L218.75 432.37 L219.07 432.37 L219.39 432.38 L219.70 432.38 L220.02 432.38 L220.33 432.39 L220.65 432.39 L220.96 432.39 L221.28 432.40 L221.60 432.40 L221.91 432.40 L222.23 432.40 L222.54 432.41 L222.86 432.41 L223.18 432.41 L223.49 432.42 L223.81 432.42 L224.12 432.42 L224.44 432.43 L224.75 432.43 L225.07 432.43 L225.39 432.44 L225.70 432.44 L226.02 432.44 L226.33 432.45 L226.65 432.45 L226.96 432.45 L227.28 432.46 L227.60 432.46 L227.91 432.46 L228.23 432.47 L228.54 432.47 L228.86 432.47 L229.18 432.48 L229.49 432.48 L229.81 432.48 L230.12 432.49 L230.44 432.49 L230.75 432.49 L231.07 432.50 L231.39 432.50 L231.70 432.51 L232.02 432.51 L232.33 432.51 L232.65 432.52 L232.97 432.52 L233.28 432.52 L233.60 432.53 L233.91 432.53 L234.23 432.53 L234.54 432.54 L234.86 432.54 L235.18 432.54 L235.49 432.55 L235.81 432.55 L236.12 432.56 L236.44 432.56 L236.76 432.56 L237.07 432.57 L237.39 432.57 L237.70 432.57 L238.02 432.58 L238.33 432.58 L238.65 432.58 L238.97 432.59 L239.28 432.59 L239.60 432.60 L239.91 432.60 L240.23 432.60 L240.54 432.61 L240.86 432.61 L241.18 432.61 L241.49 432.62 L241.81 432.62 L242.12 432.63 L242.44 432.63 L242.76 432.63 L243.07 432.64 L243.39 432.64 L243.70 432.64 L244.02 432.65 L244.33 432.65 L244.65 432.66 L244.97 432.66 L245.28 432.66 L245.60 432.67 L245.91 432.67 L246.23 432.67 L246.55 432.68 L246.86 432.68 L247.18 432.69 L247.49 432.69 L247.81 432.69 L248.12 432.70 L248.44 432.70 L248.76 432.71 L249.07 432.71 L249.39 432.71 L249.70 432.72 L250.02 432.72 L250.33 432.72 L250.65 432.73 L250.97 432.73 L251.28 432.74 L251.60 432.74 L251.91 432.74 L252.23 432.75 L252.55 432.75 L252.86 432.76 L253.18 432.76 L253.49 432.76 L253.81 432.77 L254.12 432.77 L254.44 432.77 L254.76 432.78 L255.07 432.78 L255.39 432.79 L255.70 432.79 L256.02 432.79 L256.34 432.80 L256.65 432.80 L256.97 432.81 L257.28 432.81 L257.60 432.81 L257.91 432.82 L258.23 432.82 L258.55 432.82 L258.86 432.83 L259.18 432.83 L259.49 432.84 L259.81 432.84 L260.13 432.84 L260.44 432.85 L260.76 432.85 L261.07 432.86 L261.39 432.86 L261.70 432.86 L262.02 432.87 L262.34 432.87 L262.65 432.87 L262.97 432.88 L263.28 432.88 L263.60 432.89 L263.91 432.89 L264.23 432.89 L264.55 432.90 L264.86 432.90 L265.18 432.91 L265.49 432.91 L265.81 432.91 L266.13 432.92 L266.44 432.92 L266.76 432.93 L267.07 432.93 L267.39 432.93 L267.70 432.94 L268.02 432.94 L268.34 432.94 L268.65 432.95 L268.97 432.95 L269.28 432.96 L269.60 432.96 L269.92 432.96 L270.23 432.97 L270.55 432.97 L270.86 432.98 L271.18 432.98 L271.49 432.98 L271.81 432.99 L272.13 432.99 L272.44 432.99 L272.76 433.00 L273.07 433.00 L273.39 433.01 L273.70 433.01 L274.02 433.01 L274.34 433.02 L274.65 433.02 L274.97 433.03 L275.28 433.03 L275.60 433.03 L275.92 433.04 L276.23 433.04 L276.55 433.05 L276.86 433.05 L277.18 433.05 L277.49 433.06 L277.81 433.06 L278.13 433.06 L278.44 433.07 L278.76 433.07 L279.07 433.08 L279.39 433.08 L279.71 433.08 L280.02 433.09 L280.34 433.09 L280.65 433.10 L280.97 433.10 L281.28 433.10 L281.60 433.11 L281.92 433.11 L282.23 433.12 L282.55 433.12 L282.86 433.12 L283.18 433.13 L283.50 433.13 L283.81 433.14 L284.13 433.14 L284.44 433.14 L284.76 433.15 L285.07 433.15 L285.39 433.16 L285.71 433.16 L286.02 433.16 L286.34 433.17 L286.65 433.17 L286.97 433.18 L287.28 433.18 L287.60 433.18 L287.92 433.19 L288.23 433.19 L288.55 433.20 L288.86 433.20 L289.18 433.20 L289.50 433.21 L289.81 433.21 L290.13 433.22 L290.44 433.22 L290.76 433.23 L291.07 433.23 L291.39 433.23 L291.71 433.24 L292.02 433.24 L292.34 433.25 L292.65 433.25 L292.97 433.25 L293.29 433.26 L293.60 433.26 L293.92 433.27 L294.23 433.27 L294.55 433.28 L294.86 433.28 L295.18 433.28 L295.50 433.29 L295.81 433.29 L296.13 433.30 L296.44 433.30 L296.76 433.31 L297.07 433.31 L297.39 433.31 L297.71 433.32 L298.02 433.32 L298.34 433.33 L298.65 433.33 L298.97 433.34 L299.29 433.34 L299.60 433.35 L299.92 433.35 L300.23 433.35 L300.55 433.36 L300.86 433.36 L301.18 433.37 L301.50 433.37 L301.81 433.38 L302.13 433.38 L302.44 433.39 L302.76 433.39 L303.08 433.40 L303.39 433.40 L303.71 433.40 L304.02 433.41 L304.34 433.41 L304.65 433.42 L304.97 433.42 L305.29 433.43 L305.60 433.43 L305.92 433.44 L306.23 433.44 L306.55 433.45 L306.87 433.45 L307.18 433.46 L307.50 433.46 L307.81 433.47 L308.13 433.47 L308.44 433.48 L308.76 433.48 L309.08 433.49 L309.39 433.49 L309.71 433.50 L310.02 433.50 L310.34 433.51 L310.65 433.51 L310.97 433.52 L311.29 433.52 L311.60 433.53 L311.92 433.53 L312.23 433.54 L312.55 433.54 L312.87 433.55 L313.18 433.55 L313.50 433.56 L313.81 433.57 L314.13 433.57 L314.44 433.58 L314.76 433.58 L315.08 433.59 L315.39 433.59 L315.71 433.60 L316.02 433.60 L316.34 433.61 L316.66 433.62 L316.97 433.62 L317.29 433.63 L317.60 433.63 L317.92 433.64 L318.23 433.64 L318.55 433.65 L318.87 433.66 L319.18 433.66 L319.50 433.67 L319.81 433.67 L320.13 433.68 L320.44 433.69 L320.76 433.69 L321.08 433.70 L321.39 433.70 L321.71 433.71 L322.02 433.72 L322.34 433.72 L322.66 433.73 L322.97 433.74 L323.29 433.74 L323.60 433.75 L323.92 433.75 L324.23 433.76 L324.55 433.77 L324.87 433.77 L325.18 433.78 L325.50 433.79 L325.81 433.79 L326.13 433.80 L326.45 433.81 L326.76 433.81 L327.08 433.82 L327.39 433.83 L327.71 433.83 L328.02 433.84 L328.34 433.85 L328.66 433.86 L328.97 433.86 L329.29 433.87 L329.60 433.88 L329.92 433.88 L330.24 433.89 L330.55 433.90 L330.87 433.91 L331.18 433.91 L331.50 433.92 L331.81 433.93 L332.13 433.94 L332.45 433.94 L332.76 433.95 L333.08 433.96 L333.39 433.97 L333.71 433.97 L334.02 433.98 L334.34 433.99 L334.66 434.00 L334.97 434.01 L335.29 434.01 L335.60 434.02 L335.92 434.03 L336.24 434.04 L336.55 434.05 L336.87 434.05 L337.18 434.06 L337.50 434.07 L337.81 434.08 L338.13 434.09 L338.45 434.10 L338.76 434.11 L339.08 434.11 L339.39 434.12 L339.71 434.13 L340.03 434.14 L340.34 434.15 L340.66 434.16 L340.97 434.17 L341.29 434.18 L341.60 434.19 L341.92 434.20 L342.24 434.20 L342.55 434.21 L342.87 434.22 L343.18 434.23 L343.50 434.24 L343.81 434.25 L344.13 434.26 L344.45 434.27 L344.76 434.28 L345.08 434.29 L345.39 434.30 L345.71 434.31 L346.03 434.32 L346.34 434.33 L346.66 434.34 L346.97 434.35 L347.29 434.36 L347.60 434.37 L347.92 434.38 L348.24 434.39 L348.55 434.40 L348.87 434.42 L349.18 434.43 L349.50 434.44 L349.82 434.45 L350.13 434.46 L350.45 434.47 L350.76 434.48 L351.08 434.49 L351.39 434.50 L351.71 434.52 L352.03 434.53 L352.34 434.54 L352.66 434.55 L352.97 434.56 L353.29 434.58 L353.61 434.59 L353.92 434.60 L354.24 434.61 L354.55 434.62 L354.87 434.64 L355.18 434.65 L355.50 434.66 L355.82 434.67 L356.13 434.69 L356.45 434.70 L356.76 434.71 L357.08 434.72 L357.39 434.74 L357.71 434.75 L358.03 434.76 L358.34 434.78 L358.66 434.79 L358.97 434.80 L359.29 434.82 L359.61 434.83 L359.92 434.85 L360.24 434.86 L360.55 434.87 L360.87 434.89 L361.18 434.90 L361.50 434.92 L361.82 434.93 L362.13 434.95 L362.45 434.96 L362.76 434.98 L363.08 434.99 L363.40 435.01 L363.71 435.02 L364.03 435.04 L364.34 435.05 L364.66 435.07 L364.97 435.08 L365.29 435.10 L365.61 435.11 L365.92 435.13 L366.24 435.15 L366.55 435.16 L366.87 435.18 L367.18 435.20 L367.50 435.21 L367.82 435.23 L368.13 435.25 L368.45 435.26 L368.76 435.28 L369.08 435.30 L369.40 435.31 L369.71 435.33 L370.03 435.35 L370.34 435.37 L370.66 435.38 L370.97 435.40 L371.29 435.42 L371.61 435.44 L371.92 435.46 L372.24 435.48 L372.55 435.49 L372.87 435.51 L373.19 435.53 L373.50 435.55 L373.82 435.57 L374.13 435.59 L374.45 435.61 L374.76 435.63 L375.08 435.65 L375.40 435.67 L375.71 435.69 L376.03 435.71 L376.34 435.73 L376.66 435.75 L376.97 435.77 L377.29 435.79 L377.61 435.81 L377.92 435.83 L378.24 435.86 L378.55 435.88 L378.87 435.90 L379.19 435.92 L379.50 435.94 L379.82 435.96 L380.13 435.99 L380.45 436.01 L380.76 436.03 L381.08 436.06 L381.40 436.08 L381.71 436.10 L382.03 436.12 L382.34 436.15 L382.66 436.17 L382.98 436.20 L383.29 436.22 L383.61 436.24 L383.92 436.27 L384.24 436.29 L384.55 436.32 L384.87 436.34 L385.19 436.37 L385.50 436.39 L385.82 436.42 L386.13 436.45 L386.45 436.47 L386.77 436.50 L387.08 436.52 L387.40 436.55 L387.71 436.58 L388.03 436.60 L388.34 436.63 L388.66 436.66 L388.98 436.69 L389.29 436.71 L389.61 436.74 L389.92 436.77 L390.24 436.80 L390.55 436.83 L390.87 436.86 L391.19 436.89 L391.50 436.92 L391.82 436.95 L392.13 436.98 L392.45 437.01 L392.77 437.04 L393.08 437.07 L393.40 437.10 L393.71 437.13 L394.03 437.16 L394.34 437.19 L394.66 437.22 L394.98 437.25 L395.29 437.29 L395.61 437.32 L395.92 437.35 L396.24 437.38 L396.56 437.42 L396.87 437.45 L397.19 437.48 L397.50 437.52 L397.82 437.55 L398.13 437.59 L398.45 437.62 L398.77 437.66 L399.08 437.69 L399.40 437.73 L399.71 437.76 L400.03 437.80 L400.34 437.84 L400.66 437.87 L400.98 437.91 L401.29 437.95 L401.61 437.98 L401.92 438.02 L402.24 438.06 L402.56 438.10 L402.87 438.14 L403.19 438.18 L403.50 438.21 L403.82 438.25 L404.13 438.29 L404.45 438.33 L404.77 438.37 L405.08 438.42 L405.40 438.46 L405.71 438.50 L406.03 438.54 L406.35 438.58 L406.66 438.62 L406.98 438.67 L407.29 438.71 L407.61 438.75 L407.92 438.80 L408.24 438.84 L408.56 438.88 L408.87 438.93 L409.19 438.97 L409.50 439.02 L409.82 439.07 L410.14 439.11 L410.45 439.16 L410.77 439.20 L411.08 439.25 L411.40 439.30 L411.71 439.35 L412.03 439.40 L412.35 439.44 L412.66 439.49 L412.98 439.54 L413.29 439.59 L413.61 439.64 L413.92 439.69 L414.24 439.74 L414.56 439.79 L414.87 439.85 L415.19 439.90 L415.50 439.95 L415.82 440.00 L416.14 440.06 L416.45 440.11 L416.77 440.16 L417.08 440.22 L417.40 440.27 L417.71 440.33 L418.03 440.38 L418.35 440.44 L418.66 440.50 L418.98 440.55 L419.29 440.61 L419.61 440.67 L419.93 440.73 L420.24 440.79 L420.56 440.85 L420.87 440.91 L421.19 440.97 L421.50 441.03 L421.82 441.09 L422.14 441.15 L422.45 441.21 L422.77 441.27 L423.08 441.34 L423.40 441.40 L423.71 441.47 L424.03 441.53 L424.35 441.59 L424.66 441.66 L424.98 441.73 L425.29 441.79 L425.61 441.86 L425.93 441.93 L426.24 442.00 L426.56 442.06 L426.87 442.13 L427.19 442.20 L427.50 442.27 L427.82 442.34 L428.14 442.41 L428.45 442.49 L428.77 442.56 L429.08 442.63 L429.40 442.71 L429.72 442.78 L430.03 442.85 L430.35 442.93 L430.66 443.01 L430.98 443.08 L431.29 443.16 L431.61 443.24 L431.93 443.31 L432.24 443.39 L432.56 443.47 L432.87 443.55 L433.19 443.63 L433.51 443.71 L433.82 443.80 L434.14 443.88 L434.45 443.96 L434.77 444.04 L435.08 444.13 L435.40 444.21 L435.72 444.30 L436.03 444.39 L436.35 444.47 L436.66 444.56 L436.98 444.65 L437.29 444.74 L437.61 444.83 L437.93 444.92 L438.24 445.01 L438.56 445.10 L438.87 445.19 L439.19 445.29 L439.51 445.38 L439.82 445.48 L440.14 445.57 L440.45 445.67 L440.77 445.76 L441.08 445.86 L441.40 445.96 L441.72 446.06 L442.03 446.16 L442.35 446.26 L442.66 446.36 L442.98 446.46 L443.30 446.57 L443.61 446.67 L443.93 446.77 L444.24 446.88 L444.56 446.99 L444.87 447.09 L445.19 447.20 L445.51 447.31 L445.82 447.42 L446.14 447.53 L446.45 447.64 L446.77 447.75 L447.08 447.87 L447.40 447.98 L447.72 448.09 L448.03 448.21 L448.35 448.33 L448.66 448.44 L448.98 448.56 L449.30 448.68 L449.61 448.80 L449.93 448.92 L450.24 449.04 L450.56 449.17 L450.87 449.29 L451.19 449.41 L451.51 449.54 L451.82 449.67 L452.14 449.79 L452.45 449.92 L452.77 450.05 L453.09 450.18 L453.40 450.32 L453.72 450.45 L454.03 450.58 L454.35 450.72 L454.66 450.85 L454.98 450.99 L455.30 451.13 L455.61 451.27 L455.93 451.41 L456.24 451.55 L456.56 451.69 L456.88 451.83 L457.19 451.98 L457.51 452.12 L457.82 452.27 L458.14 452.42 L458.45 452.56 L458.77 452.71 L459.09 452.87 L459.40 453.02 L459.72 453.17 L460.03 453.33 L460.35 453.48 L460.66 453.64 L460.98 453.80 L461.30 453.96 L461.61 454.12 L461.93 454.28 L462.24 454.44 L462.56 454.61 L462.88 454.77 L463.19 454.94 L463.51 455.11 L463.82 455.28 L464.14 455.45 L464.45 455.62 L464.77 455.80 L465.09 455.97 L465.40 456.15 L465.72 456.32 L466.03 456.50 L466.35 456.68 L466.67 456.86 L466.98 457.05 L467.30 457.23 L467.61 457.42 L467.93 457.61 L468.24 457.79 L468.56 457.99 L468.88 458.18 L469.19 458.37 L469.51 458.56 L469.82 458.76 L470.14 458.96 L470.45 459.16 L470.77 459.36 L471.09 459.56 L471.40 459.77 L471.72 459.97 L472.03 460.18 L472.35 460.39 L472.67 460.60 L472.98 460.81 L473.30 461.02 L473.61 461.24 L473.93 461.45 L474.24 461.67 L474.56 461.89 L474.88 462.11 L475.19 462.34 L475.51 462.56 L475.82 462.79 L476.14 463.02 L476.46 463.25 L476.77 463.48 L477.09 463.72 L477.40 463.95 L477.72 464.19 L478.03 464.43 L478.35 464.67 L478.67 464.91 L478.98 465.16 L479.30 465.41 L479.61 465.66 L479.93 465.91 L480.25 466.16 L480.56 466.41 L480.88 466.67 L481.19 466.93 L481.51 467.19 L481.82 467.45 L482.14 467.72 L482.46 467.99 L482.77 468.25 L483.09 468.53 L483.40 468.80 L483.72 469.07 L484.03 469.35 L484.35 469.63 L484.67 469.91 L484.98 470.20 L485.30 470.48 L485.61 470.77 L485.93 471.06 L486.25 471.35 L486.56 471.65 L486.88 471.94 L487.19 472.24 L487.51 472.54 L487.82 472.85 L488.14 473.16 L488.46 473.46 L488.77 473.78 L489.09 474.09 L489.40 474.40 L489.72 474.72 L490.04 475.04 L490.35 475.37 L490.67 475.69 L490.98 476.02 L491.30 476.35 L491.61 476.69 L491.93 477.02 L492.25 477.36 L492.56 477.70 L492.88 478.04 L493.19 478.39 L493.51 478.74 L493.82 479.09 L494.14 479.45 L494.46 479.80 L494.77 480.16 L495.09 480.53 L495.40 480.89 L495.72 481.26 L496.04 481.63 L496.35 482.01 L496.67 482.38 L496.98 482.76 L497.30 483.15 L497.61 483.53 L497.93 483.92 L498.25 484.31 L498.56 484.71 L498.88 485.10 L499.19 485.50 L499.51 485.91 L499.83 486.32 L500.14 486.73 L500.46 487.14 L500.77 487.56 L501.09 487.98 L501.40 488.40 L501.72 488.82 L502.04 489.25 L502.35 489.69 L502.67 490.12 L502.98 490.56 L503.30 491.01 L503.62 491.45 L503.93 491.90 L504.25 492.35 L504.56 492.81 L504.88 493.27 L505.19 493.74 L505.51 494.20 L505.83 494.67 L506.14 495.15 L506.46 495.63 L506.77 496.11 L507.09 496.59 L507.40 497.08 L507.72 497.58 L508.04 498.07 L508.35 498.57 L508.67 499.08 L508.98 499.59 L509.30 500.10 L509.62 500.62 L509.93 501.14 L510.25 501.66 L510.56 502.19 L510.88 502.72 L511.19 503.26 L511.51 503.80 L511.83 504.35 L512.14 504.89 L512.46 505.45 L512.77 506.01 L513.09 506.57 L513.41 507.13 L513.72 507.70 L514.04 508.28 L514.35 508.86 L514.67 509.44 L514.98 510.03 L515.30 510.62" stroke-width="1.7"/>
<path d="M41.90 431.91 L42.22 431.91 L42.53 431.91 L42.85 431.91 L43.16 431.91 L43.48 431.91 L43.79 431.91 L44.11 431.91 L44.43 431.91 L44.74 431.91 L45.06 431.91 L45.37 431.91 L45.69 431.91 L46.01 431.91 L46.32 431.91 L46.64 431.91 L46.95 431.91 L47.27 431.91 L47.58 431.91 L47.90 431.91 L48.22 431.91 L48.53 431.91 L48.85 431.91 L49.16 431.91 L49.48 431.91 L49.80 431.91 L50.11 431.91 L50.43 431.91 L50.74 431.91 L51.06 431.91 L51.37 431.91 L51.69 431.91 L52.01 431.91 L52.32 431.91 L52.64 431.91 L52.95 431.91 L53.27 431.91 L53.58 431.91 L53.90 431.91 L54.22 431.91 L54.53 431.91 L54.85 431.91 L55.16 431.91 L55.48 431.91 L55.80 431.91 L56.11 431.91 L56.43 431.91 L56.74 431.91 L57.06 431.91 L57.37 431.91 L57.69 431.91 L58.01 431.91 L58.32 431.91 L58.64 431.91 L58.95 431.91 L59.27 431.91 L59.59 431.91 L59.90 431.91 L60.22 431.91 L60.53 431.91 L60.85 431.91 L61.16 431.91 L61.48 431.91 L61.80 431.91 L62.11 431.91 L62.43 431.91 L62.74 431.91 L63.06 431.91 L63.38 431.91 L63.69 431.91 L64.01 431.91 L64.32 431.91 L64.64 431.91 L64.95 431.91 L65.27 431.91 L65.59 431.91 L65.90 431.91 L66.22 431.92 L66.53 431.92 L66.85 431.92 L67.16 431.92 L67.48 431.92 L67.80 431.92 L68.11 431.92 L68.43 431.92 L68.74 431.92 L69.06 431.92 L69.38 431.92 L69.69 431.92 L70.01 431.92 L70.32 431.92 L70.64 431.92 L70.95 431.92 L71.27 431.92 L71.59 431.92 L71.90 431.92 L72.22 431.92 L72.53 431.92 L72.85 431.92 L73.17 431.92 L73.48 431.92 L73.80 431.92 L74.11 431.92 L74.43 431.92 L74.74 431.92 L75.06 431.92 L75.38 431.92 L75.69 431.92 L76.01 431.92 L76.32 431.92 L76.64 431.92 L76.95 431.92 L77.27 431.92 L77.59 431.92 L77.90 431.92 L78.22 431.92 L78.53 431.92 L78.85 431.92 L79.17 431.92 L79.48 431.92 L79.80 431.92 L80.11 431.92 L80.43 431.92 L80.74 431.92 L81.06 431.92 L81.38 431.92 L81.69 431.92 L82.01 431.92 L82.32 431.92 L82.64 431.92 L82.96 431.92 L83.27 431.92 L83.59 431.92 L83.90 431.92 L84.22 431.92 L84.53 431.92 L84.85 431.92 L85.17 431.92 L85.48 431.92 L85.80 431.92 L86.11 431.92 L86.43 431.92 L86.75 431.92 L87.06 431.93 L87.38 431.93 L87.69 431.93 L88.01 431.93 L88.32 431.93 L88.64 431.93 L88.96 431.93 L89.27 431.93 L89.59 431.93 L89.90 431.93 L90.22 431.93 L90.53 431.93 L90.85 431.93 L91.17 431.93 L91.48 431.93 L91.80 431.93 L92.11 431.93 L92.43 431.93 L92.75 431.93 L93.06 431.93 L93.38 431.93 L93.69 431.93 L94.01 431.93 L94.32 431.93 L94.64 431.93 L94.96 431.93 L95.27 431.93 L95.59 431.93 L95.90 431.93 L96.22 431.93 L96.54 431.93 L96.85 431.93 L97.17 431.93 L97.48 431.93 L97.80 431.93 L98.11 431.93 L98.43 431.93 L98.75 431.93 L99.06 431.93 L99.38 431.93 L99.69 431.93 L100.01 431.93 L100.32 431.93 L100.64 431.93 L100.96 431.94 L101.27 431.94 L101.59 431.94 L101.90 431.94 L102.22 431.94 L102.54 431.94 L102.85 431.94 L103.17 431.94 L103.48 431.94 L103.80 431.94 L104.11 431.94 L104.43 431.94 L104.75 431.94 L105.06 431.94 L105.38 431.94 L105.69 431.94 L106.01 431.94 L106.33 431.94 L106.64 431.94 L106.96 431.94 L107.27 431.94 L107.59 431.94 L107.90 431.94 L108.22 431.94 L108.54 431.94 L108.85 431.94 L109.17 431.94 L109.48 431.94 L109.80 431.94 L110.12 431.94 L110.43 431.94 L110.75 431.94 L111.06 431.94 L111.38 431.95 L111.69 431.95 L112.01 431.95 L112.33 431.95 L112.64 431.95 L112.96 431.95 L113.27 431.95 L113.59 431.95 L113.90 431.95 L114.22 431.95 L114.54 431.95 L114.85 431.95 L115.17 431.95 L115.48 431.95 L115.80 431.95 L116.12 431.95 L116.43 431.95 L116.75 431.95 L117.06 431.95 L117.38 431.95 L117.69 431.95 L118.01 431.95 L118.33 431.95 L118.64 431.95 L118.96 431.95 L119.27 431.95 L119.59 431.96 L119.91 431.96 L120.22 431.96 L120.54 431.96 L120.85 431.96 L121.17 431.96 L121.48 431.96 L121.80 431.96 L122.12 431.96 L122.43 431.96 L122.75 431.96 L123.06 431.96 L123.38 431.96 L123.69 431.96 L124.01 431.96 L124.33 431.96 L124.64 431.96 L124.96 431.96 L125.27 431.96 L125.59 431.96 L125.91 431.96 L126.22 431.96 L126.54 431.97 L126.85 431.97 L127.17 431.97 L127.48 431.97 L127.80 431.97 L128.12 431.97 L128.43 431.97 L128.75 431.97 L129.06 431.97 L129.38 431.97 L129.70 431.97 L130.01 431.97 L130.33 431.97 L130.64 431.97 L130.96 431.97 L131.27 431.97 L131.59 431.97 L131.91 431.97 L132.22 431.97 L132.54 431.98 L132.85 431.98 L133.17 431.98 L133.49 431.98 L133.80 431.98 L134.12 431.98 L134.43 431.98 L134.75 431.98 L135.06 431.98 L135.38 431.98 L135.70 431.98 L136.01 431.98 L136.33 431.98 L136.64 431.98 L136.96 431.98 L137.27 431.98 L137.59 431.99 L137.91 431.99 L138.22 431.99 L138.54 431.99 L138.85 431.99 L139.17 431.99 L139.49 431.99 L139.80 431.99 L140.12 431.99 L140.43 431.99 L140.75 431.99 L141.06 431.99 L141.38 431.99 L141.70 431.99 L142.01 431.99 L142.33 432.00 L142.64 432.00 L142.96 432.00 L143.28 432.00 L143.59 432.00 L143.91 432.00 L144.22 432.00 L144.54 432.00 L144.85 432.00 L145.17 432.00 L145.49 432.00 L145.80 432.00 L146.12 432.00 L146.43 432.01 L146.75 432.01 L147.06 432.01 L147.38 432.01 L147.70 432.01 L148.01 432.01 L148.33 432.01 L148.64 432.01 L148.96 432.01 L149.28 432.01 L149.59 432.01 L149.91 432.01 L150.22 432.02 L150.54 432.02 L150.85 432.02 L151.17 432.02 L151.49 432.02 L151.80 432.02 L152.12 432.02 L152.43 432.02 L152.75 432.02 L153.07 432.02 L153.38 432.02 L153.70 432.03 L154.01 432.03 L154.33 432.03 L154.64 432.03 L154.96 432.03 L155.28 432.03 L155.59 432.03 L155.91 432.03 L156.22 432.03 L156.54 432.03 L156.86 432.04 L157.17 432.04 L157.49 432.04 L157.80 432.04 L158.12 432.04 L158.43 432.04 L158.75 432.04 L159.07 432.04 L159.38 432.04 L159.70 432.04 L160.01 432.05 L160.33 432.05 L160.64 432.05 L160.96 432.05 L161.28 432.05 L161.59 432.05 L161.91 432.05 L162.22 432.05 L162.54 432.05 L162.86 432.06 L163.17 432.06 L163.49 432.06 L163.80 432.06 L164.12 432.06 L164.43 432.06 L164.75 432.06 L165.07 432.06 L165.38 432.07 L165.70 432.07 L166.01 432.07 L166.33 432.07 L166.65 432.07 L166.96 432.07 L167.28 432.07 L167.59 432.07 L167.91 432.08 L168.22 432.08 L168.54 432.08 L168.86 432.08 L169.17 432.08 L169.49 432.08 L169.80 432.08 L170.12 432.09 L170.43 432.09 L170.75 432.09 L171.07 432.09 L171.38 432.09 L171.70 432.09 L172.01 432.09 L172.33 432.10 L172.65 432.10 L172.96 432.10 L173.28 432.10 L173.59 432.10 L173.91 432.10 L174.22 432.10 L174.54 432.11 L174.86 432.11 L175.17 432.11 L175.49 432.11 L175.80 432.11 L176.12 432.11 L176.44 432.11 L176.75 432.12 L177.07 432.12 L177.38 432.12 L177.70 432.12 L178.01 432.12 L178.33 432.12 L178.65 432.13 L178.96 432.13 L179.28 432.13 L179.59 432.13 L179.91 432.13 L180.23 432.13 L180.54 432.14 L180.86 432.14 L181.17 432.14 L181.49 432.14 L181.80 432.14 L182.12 432.14 L182.44 432.15 L182.75 432.15 L183.07 432.15 L183.38 432.15 L183.70 432.15 L184.01 432.16 L184.33 432.16 L184.65 432.16 L184.96 432.16 L185.28 432.16 L185.59 432.16 L185.91 432.17 L186.23 432.17 L186.54 432.17 L186.86 432.17 L187.17 432.17 L187.49 432.18 L187.80 432.18 L188.12 432.18 L188.44 432.18 L188.75 432.18 L189.07 432.19 L189.38 432.19 L189.70 432.19 L190.02 432.19 L190.33 432.19 L190.65 432.20 L190.96 432.20 L191.28 432.20 L191.59 432.20 L191.91 432.21 L192.23 432.21 L192.54 432.21 L192.86 432.21 L193.17 432.21 L193.49 432.22 L193.80 432.22 L194.12 432.22 L194.44 432.22 L194.75 432.22 L195.07 432.23 L195.38 432.23 L195.70 432.23 L196.02 432.23 L196.33 432.24 L196.65 432.24 L196.96 432.24 L197.28 432.24 L197.59 432.25 L197.91 432.25 L198.23 432.25 L198.54 432.25 L198.86 432.25 L199.17 432.26 L199.49 432.26 L199.81 432.26 L200.12 432.26 L200.44 432.27 L200.75 432.27 L201.07 432.27 L201.38 432.27 L201.70 432.28 L202.02 432.28 L202.33 432.28 L202.65 432.28 L202.96 432.29 L203.28 432.29 L203.59 432.29 L203.91 432.29 L204.23 432.30 L204.54 432.30 L204.86 432.30 L205.17 432.31 L205.49 432.31 L205.81 432.31 L206.12 432.31 L206.44 432.32 L206.75 432.32 L207.07 432.32 L207.38 432.32 L207.70 432.33 L208.02 432.33 L208.33 432.33 L208.65 432.33 L208.96 432.34 L209.28 432.34 L209.60 432.34 L209.91 432.35 L210.23 432.35 L210.54 432.35 L210.86 432.35 L211.17 432.36 L211.49 432.36 L211.81 432.36 L212.12 432.37 L212.44 432.37 L212.75 432.37 L213.07 432.37 L213.39 432.38 L213.70 432.38 L214.02 432.38 L214.33 432.39 L214.65 432.39 L214.96 432.39 L215.28 432.39 L215.60 432.40 L215.91 432.40 L216.23 432.40 L216.54 432.41 L216.86 432.41 L217.17 432.41 L217.49 432.42 L217.81 432.42 L218.12 432.42 L218.44 432.42 L218.75 432.43 L219.07 432.43 L219.39 432.43 L219.70 432.44 L220.02 432.44 L220.33 432.44 L220.65 432.45 L220.96 432.45 L221.28 432.45 L221.60 432.45 L221.91 432.46 L222.23 432.46 L222.54 432.46 L222.86 432.47 L223.18 432.47 L223.49 432.47 L223.81 432.48 L224.12 432.48 L224.44 432.48 L224.75 432.49 L225.07 432.49 L225.39 432.49 L225.70 432.49 L226.02 432.50 L226.33 432.50 L226.65 432.50 L226.96 432.51 L227.28 432.51 L227.60 432.51 L227.91 432.52 L228.23 432.52 L228.54 432.52 L228.86 432.53 L229.18 432.53 L229.49 432.53 L229.81 432.54 L230.12 432.54 L230.44 432.54 L230.75 432.55 L231.07 432.55 L231.39 432.55 L231.70 432.55 L232.02 432.56 L232.33 432.56 L232.65 432.56 L232.97 432.57 L233.28 432.57 L233.60 432.57 L233.91 432.58 L234.23 432.58 L234.54 432.58 L234.86 432.59 L235.18 432.59 L235.49 432.59 L235.81 432.60 L236.12 432.60 L236.44 432.60 L236.76 432.61 L237.07 432.61 L237.39 432.61 L237.70 432.61 L238.02 432.62 L238.33 432.62 L238.65 432.62 L238.97 432.63 L239.28 432.63 L239.60 432.63 L239.91 432.64 L240.23 432.64 L240.54 432.64 L240.86 432.65 L241.18 432.65 L241.49 432.65 L241.81 432.65 L242.12 432.66 L242.44 432.66 L242.76 432.66 L243.07 432.67 L243.39 432.67 L243.70 432.67 L244.02 432.68 L244.33 432.68 L244.65 432.68 L244.97 432.69 L245.28 432.69 L245.60 432.69 L245.91 432.69 L246.23 432.70 L246.55 432.70 L246.86 432.70 L247.18 432.71 L247.49 432.71 L247.81 432.71 L248.12 432.72 L248.44 432.72 L248.76 432.72 L249.07 432.72 L249.39 432.73 L249.70 432.73 L250.02 432.73 L250.33 432.74 L250.65 432.74 L250.97 432.74 L251.28 432.75 L251.60 432.75 L251.91 432.75 L252.23 432.75 L252.55 432.76 L252.86 432.76 L253.18 432.76 L253.49 432.77 L253.81 432.77 L254.12 432.77 L254.44 432.77 L254.76 432.78 L255.07 432.78 L255.39 432.78 L255.70 432.79 L256.02 432.79 L256.34 432.79 L256.65 432.79 L256.97 432.80 L257.28 432.80 L257.60 432.80 L257.91 432.80 L258.23 432.81 L258.55 432.81 L258.86 432.81 L259.18 432.82 L259.49 432.82 L259.81 432.82 L260.13 432.82 L260.44 432.83 L260.76 432.83 L261.07 432.83 L261.39 432.83 L261.70 432.84 L262.02 432.84 L262.34 432.84 L262.65 432.84 L262.97 432.85 L263.28 432.85 L263.60 432.85 L263.91 432.85 L264.23 432.86 L264.55 432.86 L264.86 432.86 L265.18 432.87 L265.49 432.87 L265.81 432.87 L266.13 432.87 L266.44 432.88 L266.76 432.88 L267.07 432.88 L267.39 432.88 L267.70 432.89 L268.02 432.89 L268.34 432.89 L268.65 432.89 L268.97 432.90 L269.28 432.90 L269.60 432.90 L269.92 432.90 L270.23 432.90 L270.55 432.91 L270.86 432.91 L271.18 432.91 L271.49 432.91 L271.81 432.92 L272.13 432.92 L272.44 432.92 L272.76 432.92 L273.07 432.93 L273.39 432.93 L273.70 432.93 L274.02 432.93 L274.34 432.94 L274.65 432.94 L274.97 432.94 L275.28 432.94 L275.60 432.95 L275.92 432.95 L276.23 432.95 L276.55 432.95 L276.86 432.95 L277.18 432.96 L277.49 432.96 L277.81 432.96 L278.13 432.96 L278.44 432.97 L278.76 432.97 L279.07 432.97 L279.39 432.97 L279.71 432.97 L280.02 432.98 L280.34 432.98 L280.65 432.98 L280.97 432.98 L281.28 432.99 L281.60 432.99 L281.92 432.99 L282.23 432.99 L282.55 432.99 L282.86 433.00 L283.18 433.00 L283.50 433.00 L283.81 433.00 L284.13 433.01 L284.44 433.01 L284.76 433.01 L285.07 433.01 L285.39 433.01 L285.71 433.02 L286.02 433.02 L286.34 433.02 L286.65 433.02 L286.97 433.02 L287.28 433.03 L287.60 433.03 L287.92 433.03 L288.23 433.03 L288.55 433.03 L288.86 433.04 L289.18 433.04 L289.50 433.04 L289.81 433.04 L290.13 433.05 L290.44 433.05 L290.76 433.05 L291.07 433.05 L291.39 433.05 L291.71 433.06 L292.02 433.06 L292.34 433.06 L292.65 433.06 L292.97 433.06 L293.29 433.07 L293.60 433.07 L293.92 433.07 L294.23 433.07 L294.55 433.07 L294.86 433.08 L295.18 433.08 L295.50 433.08 L295.81 433.08 L296.13 433.08 L296.44 433.09 L296.76 433.09 L297.07 433.09 L297.39 433.09 L297.71 433.09 L298.02 433.10 L298.34 433.10 L298.65 433.10 L298.97 433.10 L299.29 433.10 L299.60 433.11 L299.92 433.11 L300.23 433.11 L300.55 433.11 L300.86 433.11 L301.18 433.12 L301.50 433.12 L301.81 433.12 L302.13 433.12 L302.44 433.12 L302.76 433.13 L303.08 433.13 L303.39 433.13 L303.71 433.13 L304.02 433.14 L304.34 433.14 L304.65 433.14 L304.97 433.14 L305.29 433.14 L305.60 433.15 L305.92 433.15 L306.23 433.15 L306.55 433.15 L306.87 433.15 L307.18 433.16 L307.50 433.16 L307.81 433.16 L308.13 433.16 L308.44 433.16 L308.76 433.17 L309.08 433.17 L309.39 433.17 L309.71 433.17 L310.02 433.17 L310.34 433.18 L310.65 433.18 L310.97 433.18 L311.29 433.18 L311.60 433.18 L311.92 433.19 L312.23 433.19 L312.55 433.19 L312.87 433.19 L313.18 433.20 L313.50 433.20 L313.81 433.20 L314.13 433.20 L314.44 433.20 L314.76 433.21 L315.08 433.21 L315.39 433.21 L315.71 433.21 L316.02 433.21 L316.34 433.22 L316.66 433.22 L316.97 433.22 L317.29 433.22 L317.60 433.23 L317.92 433.23 L318.23 433.23 L318.55 433.23 L318.87 433.23 L319.18 433.24 L319.50 433.24 L319.81 433.24 L320.13 433.24 L320.44 433.25 L320.76 433.25 L321.08 433.25 L321.39 433.25 L321.71 433.26 L322.02 433.26 L322.34 433.26 L322.66 433.26 L322.97 433.26 L323.29 433.27 L323.60 433.27 L323.92 433.27 L324.23 433.27 L324.55 433.28 L324.87 433.28 L325.18 433.28 L325.50 433.28 L325.81 433.29 L326.13 433.29 L326.45 433.29 L326.76 433.29 L327.08 433.30 L327.39 433.30 L327.71 433.30 L328.02 433.30 L328.34 433.31 L328.66 433.31 L328.97 433.31 L329.29 433.31 L329.60 433.32 L329.92 433.32 L330.24 433.32 L330.55 433.32 L330.87 433.33 L331.18 433.33 L331.50 433.33 L331.81 433.33 L332.13 433.34 L332.45 433.34 L332.76 433.34 L333.08 433.34 L333.39 433.35 L333.71 433.35 L334.02 433.35 L334.34 433.36 L334.66 433.36 L334.97 433.36 L335.29 433.36 L335.60 433.37 L335.92 433.37 L336.24 433.37 L336.55 433.38 L336.87 433.38 L337.18 433.38 L337.50 433.38 L337.81 433.39 L338.13 433.39 L338.45 433.39 L338.76 433.40 L339.08 433.40 L339.39 433.40 L339.71 433.40 L340.03 433.41 L340.34 433.41 L340.66 433.41 L340.97 433.42 L341.29 433.42 L341.60 433.42 L341.92 433.43 L342.24 433.43 L342.55 433.43 L342.87 433.44 L343.18 433.44 L343.50 433.44 L343.81 433.45 L344.13 433.45 L344.45 433.45 L344.76 433.46 L345.08 433.46 L345.39 433.46 L345.71 433.47 L346.03 433.47 L346.34 433.47 L346.66 433.48 L346.97 433.48 L347.29 433.48 L347.60 433.49 L347.92 433.49 L348.24 433.49 L348.55 433.50 L348.87 433.50 L349.18 433.50 L349.50 433.51 L349.82 433.51 L350.13 433.51 L350.45 433.52 L350.76 433.52 L351.08 433.53 L351.39 433.53 L351.71 433.53 L352.03 433.54 L352.34 433.54 L352.66 433.54 L352.97 433.55 L353.29 433.55 L353.61 433.56 L353.92 433.56 L354.24 433.56 L354.55 433.57 L354.87 433.57 L355.18 433.58 L355.50 433.58 L355.82 433.58 L356.13 433.59 L356.45 433.59 L356.76 433.60 L357.08 433.60 L357.39 433.61 L357.71 433.61 L358.03 433.61 L358.34 433.62 L358.66 433.62 L358.97 433.63 L359.29 433.63 L359.61 433.64 L359.92 433.64 L360.24 433.65 L360.55 433.65 L360.87 433.65 L361.18 433.66 L361.50 433.66 L361.82 433.67 L362.13 433.67 L362.45 433.68 L362.76 433.68 L363.08 433.69 L363.40 433.69 L363.71 433.70 L364.03 433.70 L364.34 433.71 L364.66 433.71 L364.97 433.72 L365.29 433.72 L365.61 433.73 L365.92 433.73 L366.24 433.74 L366.55 433.74 L366.87 433.75 L367.18 433.75 L367.50 433.76 L367.82 433.76 L368.13 433.77 L368.45 433.78 L368.76 433.78 L369.08 433.79 L369.40 433.79 L369.71 433.80 L370.03 433.80 L370.34 433.81 L370.66 433.81 L370.97 433.82 L371.29 433.83 L371.61 433.83 L371.92 433.84 L372.24 433.84 L372.55 433.85 L372.87 433.86 L373.19 433.86 L373.50 433.87 L373.82 433.87 L374.13 433.88 L374.45 433.89 L374.76 433.89 L375.08 433.90 L375.40 433.91 L375.71 433.91 L376.03 433.92 L376.34 433.92 L376.66 433.93 L376.97 433.94 L377.29 433.94 L377.61 433.95 L377.92 433.96 L378.24 433.96 L378.55 433.97 L378.87 433.98 L379.19 433.99 L379.50 433.99 L379.82 434.00 L380.13 434.01 L380.45 434.01 L380.76 434.02 L381.08 434.03 L381.40 434.04 L381.71 434.04 L382.03 434.05 L382.34 434.06 L382.66 434.07 L382.98 434.07 L383.29 434.08 L383.61 434.09 L383.92 434.10 L384.24 434.10 L384.55 434.11 L384.87 434.12 L385.19 434.13 L385.50 434.14 L385.82 434.14 L386.13 434.15 L386.45 434.16 L386.77 434.17 L387.08 434.18 L387.40 434.19 L387.71 434.19 L388.03 434.20 L388.34 434.21 L388.66 434.22 L388.98 434.23 L389.29 434.24 L389.61 434.25 L389.92 434.26 L390.24 434.26 L390.55 434.27 L390.87 434.28 L391.19 434.29 L391.50 434.30 L391.82 434.31 L392.13 434.32 L392.45 434.33 L392.77 434.34 L393.08 434.35 L393.40 434.36 L393.71 434.37 L394.03 434.38 L394.34 434.39 L394.66 434.40 L394.98 434.41 L395.29 434.42 L395.61 434.43 L395.92 434.44 L396.24 434.45 L396.56 434.46 L396.87 434.47 L397.19 434.48 L397.50 434.49 L397.82 434.50 L398.13 434.51 L398.45 434.52 L398.77 434.54 L399.08 434.55 L399.40 434.56 L399.71 434.57 L400.03 434.58 L400.34 434.59 L400.66 434.60 L400.98 434.61 L401.29 434.63 L401.61 434.64 L401.92 434.65 L402.24 434.66 L402.56 434.67 L402.87 434.69 L403.19 434.70 L403.50 434.71 L403.82 434.72 L404.13 434.74 L404.45 434.75 L404.77 434.76 L405.08 434.77 L405.40 434.79 L405.71 434.80 L406.03 434.81 L406.35 434.83 L406.66 434.84 L406.98 434.85 L407.29 434.87 L407.61 434.88 L407.92 434.89 L408.24 434.91 L408.56 434.92 L408.87 434.94 L409.19 434.95 L409.50 434.97 L409.82 434.98 L410.14 434.99 L410.45 435.01 L410.77 435.02 L411.08 435.04 L411.40 435.05 L411.71 435.07 L412.03 435.08 L412.35 435.10 L412.66 435.11 L412.98 435.13 L413.29 435.15 L413.61 435.16 L413.92 435.18 L414.24 435.19 L414.56 435.21 L414.87 435.23 L415.19 435.24 L415.50 435.26 L415.82 435.27 L416.14 435.29 L416.45 435.31 L416.77 435.33 L417.08 435.34 L417.40 435.36 L417.71 435.38 L418.03 435.39 L418.35 435.41 L418.66 435.43 L418.98 435.45 L419.29 435.47 L419.61 435.48 L419.93 435.50 L420.24 435.52 L420.56 435.54 L420.87 435.56 L421.19 435.58 L421.50 435.60 L421.82 435.62 L422.14 435.64 L422.45 435.66 L422.77 435.67 L423.08 435.69 L423.40 435.71 L423.71 435.73 L424.03 435.75 L424.35 435.78 L424.66 435.80 L424.98 435.82 L425.29 435.84 L425.61 435.86 L425.93 435.88 L426.24 435.90 L426.56 435.92 L426.87 435.94 L427.19 435.97 L427.50 435.99 L427.82 436.01 L428.14 436.03 L428.45 436.06 L428.77 436.08 L429.08 436.10 L429.40 436.12 L429.72 436.15 L430.03 436.17 L430.35 436.19 L430.66 436.22 L430.98 436.24 L431.29 436.27 L431.61 436.29 L431.93 436.32 L432.24 436.34 L432.56 436.37 L432.87 436.39 L433.19 436.42 L433.51 436.44 L433.82 436.47 L434.14 436.49 L434.45 436.52 L434.77 436.55 L435.08 436.57 L435.40 436.60 L435.72 436.63 L436.03 436.65 L436.35 436.68 L436.66 436.71 L436.98 436.74 L437.29 436.76 L437.61 436.79 L437.93 436.82 L438.24 436.85 L438.56 436.88 L438.87 436.91 L439.19 436.94 L439.51 436.97 L439.82 437.00 L440.14 437.03 L440.45 437.06 L440.77 437.09 L441.08 437.12 L441.40 437.15 L441.72 437.18 L442.03 437.21 L442.35 437.24 L442.66 437.27 L442.98 437.31 L443.30 437.34 L443.61 437.37 L443.93 437.40 L444.24 437.44 L444.56 437.47 L444.87 437.50 L445.19 437.54 L445.51 437.57 L445.82 437.61 L446.14 437.64 L446.45 437.68 L446.77 437.71 L447.08 437.75 L447.40 437.78 L447.72 437.82 L448.03 437.85 L448.35 437.89 L448.66 437.93 L448.98 437.96 L449.30 438.00 L449.61 438.04 L449.93 438.08 L450.24 438.12 L450.56 438.15 L450.87 438.19 L451.19 438.23 L451.51 438.27 L451.82 438.31 L452.14 438.35 L452.45 438.39 L452.77 438.43 L453.09 438.47 L453.40 438.52 L453.72 438.56 L454.03 438.60 L454.35 438.64 L454.66 438.68 L454.98 438.73 L455.30 438.77 L455.61 438.81 L455.93 438.86 L456.24 438.90 L456.56 438.95 L456.88 438.99 L457.19 439.04 L457.51 439.08 L457.82 439.13 L458.14 439.18 L458.45 439.22 L458.77 439.27 L459.09 439.32 L459.40 439.36 L459.72 439.41 L460.03 439.46 L460.35 439.51 L460.66 439.56 L460.98 439.61 L461.30 439.66 L461.61 439.71 L461.93 439.76 L462.24 439.81 L462.56 439.86 L462.88 439.92 L463.19 439.97 L463.51 440.02 L463.82 440.07 L464.14 440.13 L464.45 440.18 L464.77 440.24 L465.09 440.29 L465.40 440.35 L465.72 440.40 L466.03 440.46 L466.35 440.52 L466.67 440.57 L466.98 440.63 L467.30 440.69 L467.61 440.75 L467.93 440.81 L468.24 440.86 L468.56 440.92 L468.88 440.98 L469.19 441.05 L469.51 441.11 L469.82 441.17 L470.14 441.23 L470.45 441.29 L470.77 441.36 L471.09 441.42 L471.40 441.48 L471.72 441.55 L472.03 441.61 L472.35 441.68 L472.67 441.74 L472.98 441.81 L473.30 441.88 L473.61 441.95 L473.93 442.01 L474.24 442.08 L474.56 442.15 L474.88 442.22 L475.19 442.29 L475.51 442.36 L475.82 442.43 L476.14 442.51 L476.46 442.58 L476.77 442.65 L477.09 442.72 L477.40 442.80 L477.72 442.87 L478.03 442.95 L478.35 443.02 L478.67 443.10 L478.98 443.18 L479.30 443.26 L479.61 443.33 L479.93 443.41 L480.25 443.49 L480.56 443.57 L480.88 443.65 L481.19 443.73 L481.51 443.82 L481.82 443.90 L482.14 443.98 L482.46 444.07 L482.77 444.15 L483.09 444.23 L483.40 444.32 L483.72 444.41 L484.03 444.49 L484.35 444.58 L484.67 444.67 L484.98 444.76 L485.30 444.85 L485.61 444.94 L485.93 445.03 L486.25 445.12 L486.56 445.21 L486.88 445.31 L487.19 445.40 L487.51 445.50 L487.82 445.59 L488.14 445.69 L488.46 445.79 L488.77 445.88 L489.09 445.98 L489.40 446.08 L489.72 446.18 L490.04 446.28 L490.35 446.38 L490.67 446.49 L490.98 446.59 L491.30 446.69 L491.61 446.80 L491.93 446.90 L492.25 447.01 L492.56 447.12 L492.88 447.22 L493.19 447.33 L493.51 447.44 L493.82 447.55 L494.14 447.66 L494.46 447.78 L494.77 447.89 L495.09 448.00 L495.40 448.12 L495.72 448.23 L496.04 448.35 L496.35 448.47 L496.67 448.59 L496.98 448.71 L497.30 448.83 L497.61 448.95 L497.93 449.07 L498.25 449.19 L498.56 449.32 L498.88 449.44 L499.19 449.57 L499.51 449.69 L499.83 449.82 L500.14 449.95 L500.46 450.08 L500.77 450.21 L501.09 450.34 L501.40 450.48 L501.72 450.61 L502.04 450.74 L502.35 450.88 L502.67 451.02 L502.98 451.15 L503.30 451.29 L503.62 451.43 L503.93 451.58 L504.25 451.72 L504.56 451.86 L504.88 452.01 L505.19 452.15 L505.51 452.30 L505.83 452.45 L506.14 452.59 L506.46 452.74 L506.77 452.90 L507.09 453.05 L507.40 453.20 L507.72 453.36 L508.04 453.51 L508.35 453.67 L508.67 453.83 L508.98 453.99 L509.30 454.15 L509.62 454.31 L509.93 454.48 L510.25 454.64 L510.56 454.81 L510.88 454.97 L511.19 455.14 L511.51 455.31 L511.83 455.48 L512.14 455.66 L512.46 455.83 L512.77 456.00 L513.09 456.18 L513.41 456.36 L513.72 456.54 L514.04 456.72 L514.35 456.90 L514.67 457.08 L514.98 457.27 L515.30 457.45" stroke-width="1.5" stroke-dasharray="4 1.15 1.5 1.15"/>
</g>
<path d="M41.90 425.60 v-4.70 M41.90 315.20 v4.70 M70.40 425.60 v-2.40 M70.40 315.20 v2.40 M87.07 425.60 v-2.40 M87.07 315.20 v2.40 M98.90 425.60 v-2.40 M98.90 315.20 v2.40 M108.08 425.60 v-2.40 M108.08 315.20 v2.40 M115.58 425.60 v-2.40 M115.58 315.20 v2.40 M121.91 425.60 v-2.40 M121.91 315.20 v2.40 M127.40 425.60 v-2.40 M127.40 315.20 v2.40 M132.25 425.60 v-2.40 M132.25 315.20 v2.40 M136.58 425.60 v-4.70 M136.58 315.20 v4.70 M165.08 425.60 v-2.40 M165.08 315.20 v2.40 M181.75 425.60 v-2.40 M181.75 315.20 v2.40 M193.58 425.60 v-2.40 M193.58 315.20 v2.40 M202.76 425.60 v-2.40 M202.76 315.20 v2.40 M210.26 425.60 v-2.40 M210.26 315.20 v2.40 M216.59 425.60 v-2.40 M216.59 315.20 v2.40 M222.08 425.60 v-2.40 M222.08 315.20 v2.40 M226.93 425.60 v-2.40 M226.93 315.20 v2.40 M231.26 425.60 v-4.70 M231.26 315.20 v4.70 M259.76 425.60 v-2.40 M259.76 315.20 v2.40 M276.43 425.60 v-2.40 M276.43 315.20 v2.40 M288.26 425.60 v-2.40 M288.26 315.20 v2.40 M297.44 425.60 v-2.40 M297.44 315.20 v2.40 M304.94 425.60 v-2.40 M304.94 315.20 v2.40 M311.27 425.60 v-2.40 M311.27 315.20 v2.40 M316.76 425.60 v-2.40 M316.76 315.20 v2.40 M321.61 425.60 v-2.40 M321.61 315.20 v2.40 M325.94 425.60 v-4.70 M325.94 315.20 v4.70 M354.44 425.60 v-2.40 M354.44 315.20 v2.40 M371.11 425.60 v-2.40 M371.11 315.20 v2.40 M382.94 425.60 v-2.40 M382.94 315.20 v2.40 M392.12 425.60 v-2.40 M392.12 315.20 v2.40 M399.62 425.60 v-2.40 M399.62 315.20 v2.40 M405.95 425.60 v-2.40 M405.95 315.20 v2.40 M411.44 425.60 v-2.40 M411.44 315.20 v2.40 M416.29 425.60 v-2.40 M416.29 315.20 v2.40 M420.62 425.60 v-4.70 M420.62 315.20 v4.70 M449.12 425.60 v-2.40 M449.12 315.20 v2.40 M465.79 425.60 v-2.40 M465.79 315.20 v2.40 M477.62 425.60 v-2.40 M477.62 315.20 v2.40 M486.80 425.60 v-2.40 M486.80 315.20 v2.40 M494.30 425.60 v-2.40 M494.30 315.20 v2.40 M500.63 425.60 v-2.40 M500.63 315.20 v2.40 M506.12 425.60 v-2.40 M506.12 315.20 v2.40 M510.97 425.60 v-2.40 M510.97 315.20 v2.40 M515.30 425.60 v-4.70 M515.30 315.20 v4.70 M41.90 315.20 h4.70 M515.30 315.20 h-4.70 M41.90 342.80 h4.70 M515.30 342.80 h-4.70 M41.90 370.40 h4.70 M515.30 370.40 h-4.70 M41.90 398.00 h4.70 M515.30 398.00 h-4.70 M41.90 425.60 h4.70 M515.30 425.60 h-4.70" stroke="#666" stroke-width="0.8" fill="none"/>
<rect x="41.90" y="315.20" width="473.40" height="110.40" fill="none" stroke="#8a8a8a" stroke-width="1.10"/>
<path d="M41.90 529.30 v-4.70 M41.90 431.90 v4.70 M70.40 529.30 v-2.40 M70.40 431.90 v2.40 M87.07 529.30 v-2.40 M87.07 431.90 v2.40 M98.90 529.30 v-2.40 M98.90 431.90 v2.40 M108.08 529.30 v-2.40 M108.08 431.90 v2.40 M115.58 529.30 v-2.40 M115.58 431.90 v2.40 M121.91 529.30 v-2.40 M121.91 431.90 v2.40 M127.40 529.30 v-2.40 M127.40 431.90 v2.40 M132.25 529.30 v-2.40 M132.25 431.90 v2.40 M136.58 529.30 v-4.70 M136.58 431.90 v4.70 M165.08 529.30 v-2.40 M165.08 431.90 v2.40 M181.75 529.30 v-2.40 M181.75 431.90 v2.40 M193.58 529.30 v-2.40 M193.58 431.90 v2.40 M202.76 529.30 v-2.40 M202.76 431.90 v2.40 M210.26 529.30 v-2.40 M210.26 431.90 v2.40 M216.59 529.30 v-2.40 M216.59 431.90 v2.40 M222.08 529.30 v-2.40 M222.08 431.90 v2.40 M226.93 529.30 v-2.40 M226.93 431.90 v2.40 M231.26 529.30 v-4.70 M231.26 431.90 v4.70 M259.76 529.30 v-2.40 M259.76 431.90 v2.40 M276.43 529.30 v-2.40 M276.43 431.90 v2.40 M288.26 529.30 v-2.40 M288.26 431.90 v2.40 M297.44 529.30 v-2.40 M297.44 431.90 v2.40 M304.94 529.30 v-2.40 M304.94 431.90 v2.40 M311.27 529.30 v-2.40 M311.27 431.90 v2.40 M316.76 529.30 v-2.40 M316.76 431.90 v2.40 M321.61 529.30 v-2.40 M321.61 431.90 v2.40 M325.94 529.30 v-4.70 M325.94 431.90 v4.70 M354.44 529.30 v-2.40 M354.44 431.90 v2.40 M371.11 529.30 v-2.40 M371.11 431.90 v2.40 M382.94 529.30 v-2.40 M382.94 431.90 v2.40 M392.12 529.30 v-2.40 M392.12 431.90 v2.40 M399.62 529.30 v-2.40 M399.62 431.90 v2.40 M405.95 529.30 v-2.40 M405.95 431.90 v2.40 M411.44 529.30 v-2.40 M411.44 431.90 v2.40 M416.29 529.30 v-2.40 M416.29 431.90 v2.40 M420.62 529.30 v-4.70 M420.62 431.90 v4.70 M449.12 529.30 v-2.40 M449.12 431.90 v2.40 M465.79 529.30 v-2.40 M465.79 431.90 v2.40 M477.62 529.30 v-2.40 M477.62 431.90 v2.40 M486.80 529.30 v-2.40 M486.80 431.90 v2.40 M494.30 529.30 v-2.40 M494.30 431.90 v2.40 M500.63 529.30 v-2.40 M500.63 431.90 v2.40 M506.12 529.30 v-2.40 M506.12 431.90 v2.40 M510.97 529.30 v-2.40 M510.97 431.90 v2.40 M515.30 529.30 v-4.70 M515.30 431.90 v4.70 M41.90 431.90 h4.70 M515.30 431.90 h-4.70 M41.90 451.38 h4.70 M515.30 451.38 h-4.70 M41.90 470.86 h4.70 M515.30 470.86 h-4.70 M41.90 490.34 h4.70 M515.30 490.34 h-4.70 M41.90 509.82 h4.70 M515.30 509.82 h-4.70 M41.90 529.30 h4.70 M515.30 529.30 h-4.70" stroke="#666" stroke-width="0.8" fill="none"/>
<rect x="41.90" y="431.90" width="473.40" height="97.40" fill="none" stroke="#8a8a8a" stroke-width="1.10"/>
<g font-family='"Liberation Sans", sans-serif' font-weight="bold" font-size="9.33" fill="#111" stroke="#111" stroke-width="0.3" stroke-linejoin="round">
<text x="39.2" y="318.55" text-anchor="end">20</text>
<text x="39.2" y="346.15" text-anchor="end">0</text>
<text x="39.2" y="373.75" text-anchor="end">-20</text>
<text x="39.2" y="401.35" text-anchor="end">-40</text>
<text x="39.2" y="428.95" text-anchor="end">-60</text>
<text x="39.2" y="435.25" text-anchor="end">0</text>
<text x="39.2" y="454.73" text-anchor="end">-1440</text>
<text x="39.2" y="474.21" text-anchor="end">-2880</text>
<text x="39.2" y="493.69" text-anchor="end">-4320</text>
<text x="39.2" y="513.17" text-anchor="end">-5760</text>
<text x="39.2" y="532.65" text-anchor="end">-7200</text>
<text x="33.60" y="543.9" text-anchor="start">10<tspan font-size="6.6" dy="-3.7">-3</tspan></text>
<text x="128.28" y="543.9" text-anchor="start">10<tspan font-size="6.6" dy="-3.7">-2</tspan></text>
<text x="222.96" y="543.9" text-anchor="start">10<tspan font-size="6.6" dy="-3.7">-1</tspan></text>
<text x="318.84" y="543.9" text-anchor="start">10<tspan font-size="6.6" dy="-3.7">0</tspan></text>
<text x="413.52" y="543.9" text-anchor="start">10<tspan font-size="6.6" dy="-3.7">1</tspan></text>
<text x="507.60" y="543.9" text-anchor="start">10<tspan font-size="6.6" dy="-3.7">2</tspan></text>
<text x="276.2" y="301.4" text-anchor="middle">Bode Diagram</text>
<text x="276.1" y="539.8" text-anchor="middle" xml:space="preserve">Frequency  (rad/s)</text>
<text transform="translate(21.8 370.2) rotate(-90)" text-anchor="middle">Magnitude (dB)</text>
<text transform="translate(10.3 480.3) rotate(-90)" text-anchor="middle">Phase (deg)</text>
</g>
<rect x="452.60" y="318.50" width="58.70" height="28.60" fill="#fff" stroke="#777" stroke-width="0.9"/>
<g stroke="#000" fill="none">
<path d="M456 324.30 H477.3" stroke-width="1.1" stroke-dasharray="1 0.9"/>
<path d="M456 332.80 H477.3" stroke-width="1.5"/>
<path d="M456 341.50 H477.3" stroke-width="1.5" stroke-dasharray="4 1.15 1.5 1.15"/>
</g>
<g font-family='"Liberation Sans", sans-serif' font-weight="bold" font-size="5.7" fill="#111" stroke="#111" stroke-width="0.15">
<text x="479" y="326.35">q11</text>
<text x="479" y="334.85">proposed</text>
<text x="479" y="343.55">Truong</text>
</g>
</g>
</svg>
</body></html>
